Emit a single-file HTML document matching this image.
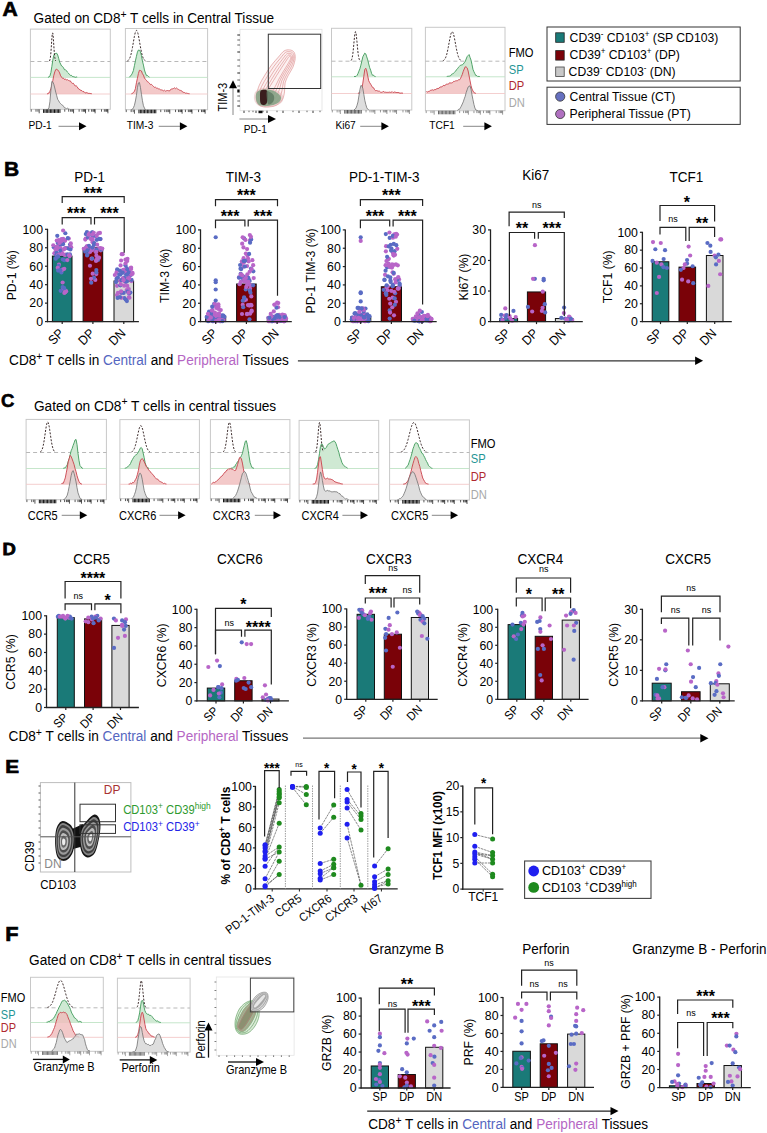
<!DOCTYPE html><html><head><meta charset="utf-8"><style>html,body{margin:0;padding:0;background:#fff;}svg{display:block;}</style></head><body><svg width="767" height="1133" viewBox="0 0 767 1133" font-family='"Liberation Sans", sans-serif'><text x="2.6" y="15.6" font-size="19.5" font-weight="bold" stroke="#000" stroke-width="0.7" transform="translate(2.6 15.6) scale(1.08 1) translate(-2.6 -15.6)">A</text>
<text x="33.60" y="23.20" font-size="13.6" transform="translate(33.60 23.20) scale(1 1.08) translate(-33.60 -23.20)">Gated on CD8<tspan dy="-5" font-size="10.5">+</tspan><tspan dy="5"> T cells in Central Tissue</tspan></text>
<rect x="30.40" y="29.10" width="79.90" height="80.20" fill="#fff" stroke="#c8c8c8" stroke-width="1"/>
<line x1="30.40" y1="61.50" x2="110.30" y2="61.50" stroke="#b8b8b8" stroke-width="1" stroke-dasharray="4 3"/>
<line x1="30.40" y1="77.40" x2="110.30" y2="77.40" stroke="#bfe3c5" stroke-width="0.9"/>
<line x1="30.40" y1="94.00" x2="110.30" y2="94.00" stroke="#f3c9c9" stroke-width="0.9"/>
<path d="M47.95 77.33 L48.93 77.00 L49.90 75.89 L50.88 72.66 L51.85 66.52 L52.82 60.08 L53.80 55.19 L54.77 53.61 L55.74 53.43 L56.72 53.25 L57.69 54.99 L58.67 58.28 L59.64 62.07 L60.61 64.06 L61.59 66.01 L62.56 66.50 L63.53 67.84 L64.51 69.74 L65.48 69.71 L66.45 70.78 L67.43 72.14 L68.40 73.09 L69.38 74.45 L70.35 75.33 L71.32 75.31 L72.30 76.37 L73.27 76.61 L74.25 76.86 L75.22 77.35 L76.19 76.97 L77.17 77.10 L77.17 77.40 L47.95 77.40 Z" fill="#cfe9d3" fill-opacity="1"/>
<path d="M47.95 77.33 L48.93 77.00 L49.90 75.89 L50.88 72.66 L51.85 66.52 L52.82 60.08 L53.80 55.19 L54.77 53.61 L55.74 53.43 L56.72 53.25 L57.69 54.99 L58.67 58.28 L59.64 62.07 L60.61 64.06 L61.59 66.01 L62.56 66.50 L63.53 67.84 L64.51 69.74 L65.48 69.71 L66.45 70.78 L67.43 72.14 L68.40 73.09 L69.38 74.45 L70.35 75.33 L71.32 75.31 L72.30 76.37 L73.27 76.61 L74.25 76.86 L75.22 77.35 L76.19 76.97 L77.17 77.10" fill="none" stroke="#3f9a5a" stroke-width="0.9" stroke-linejoin="round"/>
<path d="M46.98 93.89 L47.95 93.63 L48.93 93.01 L49.90 91.37 L50.88 88.74 L51.85 85.40 L52.82 80.62 L53.80 75.33 L54.77 71.92 L55.74 69.58 L56.72 69.27 L57.69 69.90 L58.67 71.20 L59.64 72.97 L60.61 75.83 L61.59 77.07 L62.56 78.40 L63.53 78.11 L64.51 79.53 L65.48 78.92 L66.45 80.10 L67.43 79.67 L68.40 80.45 L69.38 80.82 L70.35 80.86 L71.32 82.55 L72.30 83.35 L73.27 83.22 L74.25 84.62 L75.22 86.02 L76.19 85.82 L77.17 86.73 L78.14 88.55 L79.11 88.95 L80.09 90.01 L81.06 90.46 L82.03 90.69 L83.01 91.77 L83.98 91.60 L84.96 92.79 L85.93 92.99 L86.90 92.51 L87.88 93.25 L88.85 93.43 L89.82 93.38 L90.80 93.62 L91.77 93.72 L91.77 94.00 L46.98 94.00 Z" fill="#f0bcbc" fill-opacity="0.8"/>
<path d="M46.98 93.89 L47.95 93.63 L48.93 93.01 L49.90 91.37 L50.88 88.74 L51.85 85.40 L52.82 80.62 L53.80 75.33 L54.77 71.92 L55.74 69.58 L56.72 69.27 L57.69 69.90 L58.67 71.20 L59.64 72.97 L60.61 75.83 L61.59 77.07 L62.56 78.40 L63.53 78.11 L64.51 79.53 L65.48 78.92 L66.45 80.10 L67.43 79.67 L68.40 80.45 L69.38 80.82 L70.35 80.86 L71.32 82.55 L72.30 83.35 L73.27 83.22 L74.25 84.62 L75.22 86.02 L76.19 85.82 L77.17 86.73 L78.14 88.55 L79.11 88.95 L80.09 90.01 L81.06 90.46 L82.03 90.69 L83.01 91.77 L83.98 91.60 L84.96 92.79 L85.93 92.99 L86.90 92.51 L87.88 93.25 L88.85 93.43 L89.82 93.38 L90.80 93.62 L91.77 93.72" fill="none" stroke="#c8424c" stroke-width="0.9" stroke-linejoin="round"/>
<path d="M47.95 109.09 L48.93 107.94 L49.90 101.77 L50.88 90.47 L51.85 81.45 L52.82 81.99 L53.80 84.26 L54.77 88.00 L55.74 92.18 L56.72 95.77 L57.69 99.38 L58.67 100.81 L59.64 102.59 L60.61 103.69 L61.59 104.62 L62.56 105.14 L63.53 106.32 L64.51 107.80 L65.48 108.10 L66.45 108.73 L67.43 108.20 L68.40 108.89 L69.38 109.05 L69.38 109.30 L47.95 109.30 Z" fill="#d6d6d6" fill-opacity="0.8"/>
<path d="M47.95 109.09 L48.93 107.94 L49.90 101.77 L50.88 90.47 L51.85 81.45 L52.82 81.99 L53.80 84.26 L54.77 88.00 L55.74 92.18 L56.72 95.77 L57.69 99.38 L58.67 100.81 L59.64 102.59 L60.61 103.69 L61.59 104.62 L62.56 105.14 L63.53 106.32 L64.51 107.80 L65.48 108.10 L66.45 108.73 L67.43 108.20 L68.40 108.89 L69.38 109.05" fill="none" stroke="#707070" stroke-width="0.8" stroke-linejoin="round"/>
<path d="M49.41 61.06 L49.90 60.06 L50.39 57.64 L50.88 52.99 L51.36 46.05 L51.85 38.45 L52.34 33.22 L52.82 32.98 L53.31 37.86 L53.80 45.39 L54.28 52.47 L54.77 57.34 L55.26 59.93 L55.74 61.01" fill="none" stroke="#3a2a2a" stroke-width="1" stroke-dasharray="2 1.5"/>
<line x1="31.20" y1="109.30" x2="31.20" y2="111.70" stroke="#222" stroke-width="0.75"/>
<line x1="36.01" y1="109.30" x2="36.01" y2="111.70" stroke="#222" stroke-width="0.75"/>
<line x1="37.95" y1="109.30" x2="37.95" y2="111.70" stroke="#222" stroke-width="0.75"/>
<line x1="39.19" y1="109.30" x2="39.19" y2="113.30" stroke="#222" stroke-width="0.75"/>
<line x1="43.58" y1="109.30" x2="43.58" y2="112.90" stroke="#111" stroke-width="1.0"/>
<line x1="44.95" y1="109.30" x2="44.95" y2="112.90" stroke="#111" stroke-width="1.0"/>
<line x1="46.31" y1="109.30" x2="46.31" y2="112.90" stroke="#111" stroke-width="1.0"/>
<line x1="47.68" y1="109.30" x2="47.68" y2="112.90" stroke="#111" stroke-width="1.0"/>
<line x1="49.04" y1="109.30" x2="49.04" y2="112.90" stroke="#111" stroke-width="1.0"/>
<line x1="50.41" y1="109.30" x2="50.41" y2="112.90" stroke="#111" stroke-width="1.0"/>
<line x1="51.77" y1="109.30" x2="51.77" y2="112.90" stroke="#111" stroke-width="1.0"/>
<line x1="53.14" y1="109.30" x2="53.14" y2="112.90" stroke="#111" stroke-width="1.0"/>
<line x1="54.50" y1="109.30" x2="54.50" y2="112.90" stroke="#111" stroke-width="1.0"/>
<line x1="55.87" y1="109.30" x2="55.87" y2="112.90" stroke="#111" stroke-width="1.0"/>
<line x1="57.23" y1="109.30" x2="57.23" y2="112.90" stroke="#111" stroke-width="1.0"/>
<line x1="58.60" y1="109.30" x2="58.60" y2="112.90" stroke="#111" stroke-width="1.0"/>
<line x1="59.96" y1="109.30" x2="59.96" y2="112.90" stroke="#111" stroke-width="1.0"/>
<line x1="64.76" y1="109.30" x2="64.76" y2="111.70" stroke="#222" stroke-width="0.75"/>
<line x1="68.69" y1="109.30" x2="68.69" y2="111.70" stroke="#222" stroke-width="0.75"/>
<line x1="70.58" y1="109.30" x2="70.58" y2="111.70" stroke="#222" stroke-width="0.75"/>
<line x1="71.84" y1="109.30" x2="71.84" y2="111.70" stroke="#222" stroke-width="0.75"/>
<line x1="72.79" y1="109.30" x2="72.79" y2="111.70" stroke="#222" stroke-width="0.75"/>
<line x1="73.55" y1="109.30" x2="73.55" y2="113.30" stroke="#222" stroke-width="0.75"/>
<line x1="79.14" y1="109.30" x2="79.14" y2="111.70" stroke="#222" stroke-width="0.75"/>
<line x1="82.00" y1="109.30" x2="82.00" y2="111.70" stroke="#222" stroke-width="0.75"/>
<line x1="83.38" y1="109.30" x2="83.38" y2="111.70" stroke="#222" stroke-width="0.75"/>
<line x1="84.29" y1="109.30" x2="84.29" y2="111.70" stroke="#222" stroke-width="0.75"/>
<line x1="84.98" y1="109.30" x2="84.98" y2="111.70" stroke="#222" stroke-width="0.75"/>
<line x1="85.53" y1="109.30" x2="85.53" y2="113.30" stroke="#222" stroke-width="0.75"/>
<line x1="88.73" y1="109.30" x2="88.73" y2="111.70" stroke="#222" stroke-width="0.75"/>
<line x1="91.59" y1="109.30" x2="91.59" y2="111.70" stroke="#222" stroke-width="0.75"/>
<line x1="92.96" y1="109.30" x2="92.96" y2="111.70" stroke="#222" stroke-width="0.75"/>
<line x1="93.88" y1="109.30" x2="93.88" y2="111.70" stroke="#222" stroke-width="0.75"/>
<line x1="94.57" y1="109.30" x2="94.57" y2="111.70" stroke="#222" stroke-width="0.75"/>
<line x1="95.12" y1="109.30" x2="95.12" y2="113.30" stroke="#222" stroke-width="0.75"/>
<line x1="101.51" y1="109.30" x2="101.51" y2="111.70" stroke="#222" stroke-width="0.75"/>
<line x1="104.37" y1="109.30" x2="104.37" y2="111.70" stroke="#222" stroke-width="0.75"/>
<line x1="105.75" y1="109.30" x2="105.75" y2="111.70" stroke="#222" stroke-width="0.75"/>
<line x1="106.66" y1="109.30" x2="106.66" y2="111.70" stroke="#222" stroke-width="0.75"/>
<line x1="107.35" y1="109.30" x2="107.35" y2="111.70" stroke="#222" stroke-width="0.75"/>
<line x1="107.90" y1="109.30" x2="107.90" y2="113.30" stroke="#222" stroke-width="0.75"/>
<text x="28.50" y="129.50" font-size="10.2" transform="translate(28.50 129.50) scale(1 1.08) translate(-28.50 -129.50)">PD-1</text>
<line x1="58.50" y1="126.30" x2="80.00" y2="126.30" stroke="#888" stroke-width="1"/>
<path d="M79.00 122.30 L86.50 126.30 L79.00 130.30 Z" fill="#000"/>
<rect x="125.40" y="28.50" width="82.20" height="81.20" fill="#fff" stroke="#c8c8c8" stroke-width="1"/>
<line x1="125.40" y1="61.50" x2="207.60" y2="61.50" stroke="#b8b8b8" stroke-width="1" stroke-dasharray="4 3"/>
<line x1="125.40" y1="77.40" x2="207.60" y2="77.40" stroke="#bfe3c5" stroke-width="0.9"/>
<line x1="125.40" y1="94.00" x2="207.60" y2="94.00" stroke="#f3c9c9" stroke-width="0.9"/>
<path d="M129.41 77.28 L130.41 76.02 L131.41 74.91 L132.41 73.12 L133.42 70.44 L134.42 65.71 L135.42 60.88 L136.43 56.29 L137.43 52.14 L138.43 50.01 L139.43 50.12 L140.44 51.85 L141.44 55.56 L142.44 61.07 L143.44 65.08 L144.44 69.93 L145.45 73.07 L146.45 75.40 L147.45 75.52 L148.46 76.53 L149.46 77.15 L149.46 77.40 L129.41 77.40 Z" fill="#cfe9d3" fill-opacity="1"/>
<path d="M129.41 77.28 L130.41 76.02 L131.41 74.91 L132.41 73.12 L133.42 70.44 L134.42 65.71 L135.42 60.88 L136.43 56.29 L137.43 52.14 L138.43 50.01 L139.43 50.12 L140.44 51.85 L141.44 55.56 L142.44 61.07 L143.44 65.08 L144.44 69.93 L145.45 73.07 L146.45 75.40 L147.45 75.52 L148.46 76.53 L149.46 77.15" fill="none" stroke="#3f9a5a" stroke-width="0.9" stroke-linejoin="round"/>
<path d="M131.41 93.82 L132.41 93.52 L133.42 92.20 L134.42 91.49 L135.42 88.55 L136.43 82.76 L137.43 78.26 L138.43 73.48 L139.43 70.29 L140.44 70.49 L141.44 70.99 L142.44 73.76 L143.44 75.14 L144.44 77.99 L145.45 79.37 L146.45 80.32 L147.45 81.75 L148.46 82.31 L149.46 83.26 L150.46 84.70 L151.46 84.37 L152.47 85.43 L153.47 86.49 L154.47 87.34 L155.47 87.21 L156.47 88.12 L157.48 88.21 L158.48 88.85 L159.48 88.99 L160.49 89.77 L161.49 89.88 L162.49 90.21 L163.49 90.84 L164.50 90.19 L165.50 91.13 L166.50 90.69 L167.50 90.51 L168.50 90.74 L169.51 91.00 L170.51 89.59 L171.51 89.03 L172.51 88.85 L173.52 88.50 L174.52 87.84 L175.52 88.68 L176.53 87.97 L177.53 88.92 L178.53 89.44 L179.53 90.14 L180.53 90.42 L181.54 90.69 L182.54 91.96 L183.54 92.36 L184.55 92.52 L185.55 93.21 L186.55 93.13 L187.55 93.41 L188.56 93.63 L189.56 93.75 L189.56 94.00 L131.41 94.00 Z" fill="#f0bcbc" fill-opacity="0.8"/>
<path d="M131.41 93.82 L132.41 93.52 L133.42 92.20 L134.42 91.49 L135.42 88.55 L136.43 82.76 L137.43 78.26 L138.43 73.48 L139.43 70.29 L140.44 70.49 L141.44 70.99 L142.44 73.76 L143.44 75.14 L144.44 77.99 L145.45 79.37 L146.45 80.32 L147.45 81.75 L148.46 82.31 L149.46 83.26 L150.46 84.70 L151.46 84.37 L152.47 85.43 L153.47 86.49 L154.47 87.34 L155.47 87.21 L156.47 88.12 L157.48 88.21 L158.48 88.85 L159.48 88.99 L160.49 89.77 L161.49 89.88 L162.49 90.21 L163.49 90.84 L164.50 90.19 L165.50 91.13 L166.50 90.69 L167.50 90.51 L168.50 90.74 L169.51 91.00 L170.51 89.59 L171.51 89.03 L172.51 88.85 L173.52 88.50 L174.52 87.84 L175.52 88.68 L176.53 87.97 L177.53 88.92 L178.53 89.44 L179.53 90.14 L180.53 90.42 L181.54 90.69 L182.54 91.96 L183.54 92.36 L184.55 92.52 L185.55 93.21 L186.55 93.13 L187.55 93.41 L188.56 93.63 L189.56 93.75" fill="none" stroke="#c8424c" stroke-width="0.9" stroke-linejoin="round"/>
<path d="M131.41 109.58 L132.41 109.24 L133.42 107.73 L134.42 105.35 L135.42 100.97 L136.43 95.40 L137.43 87.66 L138.43 82.93 L139.43 82.45 L140.44 87.34 L141.44 94.27 L142.44 100.71 L143.44 105.75 L144.44 108.07 L145.45 109.70 L145.45 109.70 L131.41 109.70 Z" fill="#d6d6d6" fill-opacity="0.8"/>
<path d="M131.41 109.58 L132.41 109.24 L133.42 107.73 L134.42 105.35 L135.42 100.97 L136.43 95.40 L137.43 87.66 L138.43 82.93 L139.43 82.45 L140.44 87.34 L141.44 94.27 L142.44 100.71 L143.44 105.75 L144.44 108.07 L145.45 109.70" fill="none" stroke="#707070" stroke-width="0.8" stroke-linejoin="round"/>
<path d="M127.40 60.95 L127.90 60.66 L128.41 60.23 L128.91 59.64 L129.41 58.83 L129.91 57.77 L130.41 56.42 L130.91 54.73 L131.41 52.71 L131.91 50.36 L132.41 47.73 L132.92 44.89 L133.42 41.94 L133.92 39.04 L134.42 36.32 L134.92 33.96 L135.42 32.11 L135.92 30.90 L136.43 30.41 L136.93 30.67 L137.43 31.68 L137.93 33.35 L138.43 35.57 L138.93 38.20 L139.43 41.06 L139.93 44.01 L140.44 46.90 L140.94 49.60 L141.44 52.04 L141.94 54.16 L142.44 55.95 L142.94 57.40 L143.44 58.54 L143.94 59.42 L144.44 60.07 L144.95 60.55 L145.45 60.88" fill="none" stroke="#3a2a2a" stroke-width="1" stroke-dasharray="2 1.5"/>
<line x1="126.22" y1="109.70" x2="126.22" y2="112.10" stroke="#222" stroke-width="0.75"/>
<line x1="131.17" y1="109.70" x2="131.17" y2="112.10" stroke="#222" stroke-width="0.75"/>
<line x1="133.17" y1="109.70" x2="133.17" y2="112.10" stroke="#222" stroke-width="0.75"/>
<line x1="134.44" y1="109.70" x2="134.44" y2="113.70" stroke="#222" stroke-width="0.75"/>
<line x1="138.96" y1="109.70" x2="138.96" y2="113.30" stroke="#111" stroke-width="1.0"/>
<line x1="140.37" y1="109.70" x2="140.37" y2="113.30" stroke="#111" stroke-width="1.0"/>
<line x1="141.77" y1="109.70" x2="141.77" y2="113.30" stroke="#111" stroke-width="1.0"/>
<line x1="143.18" y1="109.70" x2="143.18" y2="113.30" stroke="#111" stroke-width="1.0"/>
<line x1="144.58" y1="109.70" x2="144.58" y2="113.30" stroke="#111" stroke-width="1.0"/>
<line x1="145.98" y1="109.70" x2="145.98" y2="113.30" stroke="#111" stroke-width="1.0"/>
<line x1="147.39" y1="109.70" x2="147.39" y2="113.30" stroke="#111" stroke-width="1.0"/>
<line x1="148.79" y1="109.70" x2="148.79" y2="113.30" stroke="#111" stroke-width="1.0"/>
<line x1="150.20" y1="109.70" x2="150.20" y2="113.30" stroke="#111" stroke-width="1.0"/>
<line x1="151.60" y1="109.70" x2="151.60" y2="113.30" stroke="#111" stroke-width="1.0"/>
<line x1="153.01" y1="109.70" x2="153.01" y2="113.30" stroke="#111" stroke-width="1.0"/>
<line x1="154.41" y1="109.70" x2="154.41" y2="113.30" stroke="#111" stroke-width="1.0"/>
<line x1="155.81" y1="109.70" x2="155.81" y2="113.30" stroke="#111" stroke-width="1.0"/>
<line x1="160.75" y1="109.70" x2="160.75" y2="112.10" stroke="#222" stroke-width="0.75"/>
<line x1="164.79" y1="109.70" x2="164.79" y2="112.10" stroke="#222" stroke-width="0.75"/>
<line x1="166.74" y1="109.70" x2="166.74" y2="112.10" stroke="#222" stroke-width="0.75"/>
<line x1="168.04" y1="109.70" x2="168.04" y2="112.10" stroke="#222" stroke-width="0.75"/>
<line x1="169.01" y1="109.70" x2="169.01" y2="112.10" stroke="#222" stroke-width="0.75"/>
<line x1="169.79" y1="109.70" x2="169.79" y2="113.70" stroke="#222" stroke-width="0.75"/>
<line x1="175.54" y1="109.70" x2="175.54" y2="112.10" stroke="#222" stroke-width="0.75"/>
<line x1="178.48" y1="109.70" x2="178.48" y2="112.10" stroke="#222" stroke-width="0.75"/>
<line x1="179.90" y1="109.70" x2="179.90" y2="112.10" stroke="#222" stroke-width="0.75"/>
<line x1="180.84" y1="109.70" x2="180.84" y2="112.10" stroke="#222" stroke-width="0.75"/>
<line x1="181.55" y1="109.70" x2="181.55" y2="112.10" stroke="#222" stroke-width="0.75"/>
<line x1="182.12" y1="109.70" x2="182.12" y2="113.70" stroke="#222" stroke-width="0.75"/>
<line x1="185.41" y1="109.70" x2="185.41" y2="112.10" stroke="#222" stroke-width="0.75"/>
<line x1="188.35" y1="109.70" x2="188.35" y2="112.10" stroke="#222" stroke-width="0.75"/>
<line x1="189.76" y1="109.70" x2="189.76" y2="112.10" stroke="#222" stroke-width="0.75"/>
<line x1="190.71" y1="109.70" x2="190.71" y2="112.10" stroke="#222" stroke-width="0.75"/>
<line x1="191.42" y1="109.70" x2="191.42" y2="112.10" stroke="#222" stroke-width="0.75"/>
<line x1="191.98" y1="109.70" x2="191.98" y2="113.70" stroke="#222" stroke-width="0.75"/>
<line x1="198.56" y1="109.70" x2="198.56" y2="112.10" stroke="#222" stroke-width="0.75"/>
<line x1="201.50" y1="109.70" x2="201.50" y2="112.10" stroke="#222" stroke-width="0.75"/>
<line x1="202.92" y1="109.70" x2="202.92" y2="112.10" stroke="#222" stroke-width="0.75"/>
<line x1="203.86" y1="109.70" x2="203.86" y2="112.10" stroke="#222" stroke-width="0.75"/>
<line x1="204.57" y1="109.70" x2="204.57" y2="112.10" stroke="#222" stroke-width="0.75"/>
<line x1="205.13" y1="109.70" x2="205.13" y2="113.70" stroke="#222" stroke-width="0.75"/>
<text x="126.70" y="128.90" font-size="10.2" transform="translate(126.70 128.90) scale(1 1.08) translate(-126.70 -128.90)">TIM-3</text>
<line x1="158.70" y1="126.30" x2="180.90" y2="126.30" stroke="#888" stroke-width="1"/>
<path d="M179.90 122.30 L187.40 126.30 L179.90 130.30 Z" fill="#000"/>
<rect x="240.00" y="29.30" width="82.00" height="81.40" fill="#fff" stroke="#e0e0e0" stroke-width="0.8"/>
<path d="M256.50 95.30 C256.12 98.10 256.35 100.23 257.00 102.00 C257.65 103.77 258.72 105.07 260.40 105.90 C262.08 106.73 264.48 107.08 267.10 107.00 C269.72 106.92 273.57 106.62 276.10 105.40 C278.63 104.18 280.90 101.95 282.30 99.70 C283.70 97.45 284.03 94.70 284.50 91.90 C284.97 89.10 284.45 85.70 285.10 82.90 C285.75 80.10 287.10 77.72 288.40 75.10 C289.70 72.48 291.77 70.00 292.90 67.20 C294.03 64.40 295.02 60.82 295.20 58.30 C295.38 55.78 294.93 53.50 294.00 52.10 C293.07 50.70 291.27 50.08 289.60 49.90 C287.93 49.72 285.87 49.80 284.00 51.00 C282.13 52.20 280.47 54.77 278.40 57.10 C276.33 59.43 273.85 62.00 271.60 65.00 C269.35 68.00 266.95 71.73 264.90 75.10 C262.85 78.47 260.70 81.83 259.30 85.20 C257.90 88.57 256.88 92.50 256.50 95.30Z" fill="#fcf1f1"/>
<path d="M256.50 95.30 C256.12 98.10 256.35 100.23 257.00 102.00 C257.65 103.77 258.72 105.07 260.40 105.90 C262.08 106.73 264.48 107.08 267.10 107.00 C269.72 106.92 273.57 106.62 276.10 105.40 C278.63 104.18 280.90 101.95 282.30 99.70 C283.70 97.45 284.03 94.70 284.50 91.90 C284.97 89.10 284.45 85.70 285.10 82.90 C285.75 80.10 287.10 77.72 288.40 75.10 C289.70 72.48 291.77 70.00 292.90 67.20 C294.03 64.40 295.02 60.82 295.20 58.30 C295.38 55.78 294.93 53.50 294.00 52.10 C293.07 50.70 291.27 50.08 289.60 49.90 C287.93 49.72 285.87 49.80 284.00 51.00 C282.13 52.20 280.47 54.77 278.40 57.10 C276.33 59.43 273.85 62.00 271.60 65.00 C269.35 68.00 266.95 71.73 264.90 75.10 C262.85 78.47 260.70 81.83 259.30 85.20 C257.90 88.57 256.88 92.50 256.50 95.30Z" fill="none" stroke="#d98484" stroke-width="0.65" stroke-opacity="0.9"/>
<path d="M258.59 95.67 C258.17 98.06 258.47 99.52 258.98 100.90 C259.49 102.28 260.32 103.29 261.63 103.94 C262.94 104.59 264.82 104.86 266.86 104.80 C268.90 104.73 271.78 104.70 273.88 103.55 C275.97 102.41 278.07 100.13 279.43 97.94 C280.80 95.74 281.38 93.07 282.05 90.39 C282.72 87.71 282.62 84.57 283.44 81.88 C284.26 79.18 285.63 76.81 286.98 74.22 C288.33 71.64 290.35 69.02 291.53 66.36 C292.71 63.69 293.79 60.39 294.06 58.23 C294.32 56.07 293.85 54.49 293.12 53.40 C292.39 52.31 290.99 51.83 289.69 51.68 C288.39 51.54 286.88 51.44 285.32 52.54 C283.76 53.64 282.25 55.99 280.34 58.29 C278.43 60.60 276.03 63.34 273.85 66.38 C271.66 69.42 269.28 73.17 267.23 76.53 C265.17 79.90 262.97 83.38 261.53 86.57 C260.09 89.76 259.01 93.29 258.59 95.67Z" fill="none" stroke="#d98484" stroke-width="0.65" stroke-opacity="0.9"/>
<path d="M260.68 96.05 C260.21 98.02 260.60 98.81 260.96 99.80 C261.32 100.79 261.92 101.52 262.86 101.98 C263.81 102.45 265.15 102.65 266.62 102.60 C268.08 102.55 270.00 102.78 271.66 101.70 C273.31 100.63 275.24 98.31 276.57 96.17 C277.89 94.04 278.73 91.44 279.60 88.88 C280.47 86.33 280.78 83.44 281.77 80.85 C282.77 78.26 284.15 75.90 285.55 73.35 C286.95 70.79 288.94 68.05 290.17 65.52 C291.39 62.99 292.57 59.97 292.91 58.17 C293.26 56.36 292.76 55.48 292.24 54.70 C291.72 53.91 290.71 53.57 289.78 53.46 C288.84 53.36 287.89 53.08 286.64 54.08 C285.39 55.08 284.04 57.21 282.28 59.49 C280.52 61.77 278.22 64.69 276.10 67.77 C273.98 70.85 271.61 74.60 269.55 77.96 C267.50 81.33 265.23 84.93 263.76 87.94 C262.28 90.96 261.15 94.07 260.68 96.05Z" fill="none" stroke="#d98484" stroke-width="0.65" stroke-opacity="0.9"/>
<path d="M262.58 96.39 C262.08 97.99 262.53 98.16 262.76 98.80 C262.99 99.44 263.38 99.90 263.98 100.20 C264.59 100.50 265.45 100.63 266.40 100.60 C267.34 100.57 268.37 101.03 269.64 100.02 C270.90 99.02 272.67 96.65 273.96 94.57 C275.25 92.48 276.32 89.95 277.37 87.51 C278.42 85.07 279.11 82.42 280.26 79.92 C281.41 77.43 282.81 75.08 284.26 72.55 C285.70 70.02 287.66 67.16 288.93 64.75 C290.19 62.35 291.45 59.59 291.87 58.11 C292.29 56.63 291.78 56.38 291.44 55.88 C291.10 55.37 290.46 55.15 289.86 55.08 C289.26 55.02 288.81 54.57 287.84 55.48 C286.87 56.39 285.66 58.31 284.04 60.57 C282.43 62.83 280.20 65.91 278.14 69.03 C276.08 72.14 273.73 75.90 271.67 79.26 C269.61 82.62 267.30 86.33 265.78 89.19 C264.27 92.04 263.08 94.79 262.58 96.39Z" fill="none" stroke="#d98484" stroke-width="0.65" stroke-opacity="0.9"/>
<path d="M264.29 96.69 C263.75 97.96 264.26 97.58 264.38 97.90 C264.50 98.22 264.69 98.45 264.99 98.60 C265.30 98.75 265.73 98.81 266.20 98.80 C266.67 98.78 266.91 99.46 267.82 98.51 C268.72 97.57 270.36 95.16 271.62 93.13 C272.87 91.09 274.15 88.62 275.36 86.28 C276.58 83.94 277.61 81.49 278.90 79.09 C280.19 76.68 281.61 74.34 283.09 71.83 C284.58 69.33 286.50 66.36 287.81 64.07 C289.12 61.77 290.45 59.24 290.94 58.05 C291.42 56.87 290.89 57.19 290.72 56.94 C290.55 56.69 290.23 56.58 289.93 56.54 C289.63 56.51 289.64 55.91 288.92 56.74 C288.20 57.57 287.12 59.31 285.63 61.55 C284.14 63.78 281.99 67.01 279.98 70.16 C277.97 73.31 275.63 77.08 273.57 80.44 C271.51 83.79 269.15 87.60 267.60 90.31 C266.06 93.02 264.83 95.43 264.29 96.69Z" fill="none" stroke="#d98484" stroke-width="0.65" stroke-opacity="0.9"/>
<path d="M256.00 91.00 C257.67 89.17 260.67 88.17 264.00 88.00 C267.33 87.83 272.83 88.67 276.00 90.00 C279.17 91.33 282.17 93.83 283.00 96.00 C283.83 98.17 283.17 101.17 281.00 103.00 C278.83 104.83 273.67 106.50 270.00 107.00 C266.33 107.50 261.67 107.33 259.00 106.00 C256.33 104.67 254.50 101.50 254.00 99.00 C253.50 96.50 254.33 92.83 256.00 91.00Z" fill="#dca8a8" fill-opacity="0.45"/>
<path d="M257.00 92.00 C258.33 90.42 261.17 89.67 264.00 89.50 C266.83 89.33 271.17 89.75 274.00 91.00 C276.83 92.25 280.33 95.00 281.00 97.00 C281.67 99.00 280.17 101.50 278.00 103.00 C275.83 104.50 271.17 105.67 268.00 106.00 C264.83 106.33 261.00 106.17 259.00 105.00 C257.00 103.83 256.33 101.17 256.00 99.00 C255.67 96.83 255.67 93.58 257.00 92.00Z" fill="#86a386" fill-opacity="0.9"/>
<path d="M260.50 91.00 C261.17 89.80 262.92 89.80 264.00 89.80 C265.08 89.80 266.42 89.63 267.00 91.00 C267.58 92.37 267.58 95.92 267.50 98.00 C267.42 100.08 267.25 102.33 266.50 103.50 C265.75 104.67 264.00 105.08 263.00 105.00 C262.00 104.92 261.00 104.33 260.50 103.00 C260.00 101.67 260.00 99.00 260.00 97.00 C260.00 95.00 259.83 92.20 260.50 91.00Z" fill="#3a1e1e"/>
<path d="M266.50 92.00 C266.83 90.00 268.75 91.33 270.00 92.00 C271.25 92.67 273.50 94.33 274.00 96.00 C274.50 97.67 274.00 100.67 273.00 102.00 C272.00 103.33 269.08 105.67 268.00 104.00 C266.92 102.33 266.17 94.00 266.50 92.00Z" fill="#55705a" fill-opacity="0.7"/>
<rect x="268.30" y="34.20" width="52.40" height="54.30" fill="none" stroke="#333" stroke-width="1"/>
<line x1="237.30" y1="35.00" x2="240.00" y2="35.00" stroke="#222" stroke-width="1.0"/>
<line x1="237.30" y1="40.00" x2="240.00" y2="40.00" stroke="#222" stroke-width="0.7"/>
<line x1="237.30" y1="45.00" x2="240.00" y2="45.00" stroke="#222" stroke-width="0.7"/>
<line x1="237.30" y1="52.00" x2="240.00" y2="52.00" stroke="#222" stroke-width="1.0"/>
<line x1="237.30" y1="60.00" x2="240.00" y2="60.00" stroke="#222" stroke-width="0.7"/>
<line x1="237.30" y1="66.00" x2="240.00" y2="66.00" stroke="#222" stroke-width="0.7"/>
<line x1="237.30" y1="73.00" x2="240.00" y2="73.00" stroke="#222" stroke-width="1.0"/>
<line x1="237.30" y1="80.00" x2="240.00" y2="80.00" stroke="#222" stroke-width="0.7"/>
<line x1="237.30" y1="86.00" x2="240.00" y2="86.00" stroke="#222" stroke-width="0.7"/>
<rect x="237.30" y="89.50" width="2.30" height="3.00" fill="#111"/>
<line x1="237.30" y1="96.00" x2="240.00" y2="96.00" stroke="#222" stroke-width="0.7"/>
<line x1="237.30" y1="101.00" x2="240.00" y2="101.00" stroke="#222" stroke-width="0.7"/>
<line x1="237.30" y1="106.00" x2="240.00" y2="106.00" stroke="#222" stroke-width="1.0"/>
<line x1="244.00" y1="110.70" x2="244.00" y2="113.00" stroke="#222" stroke-width="0.9"/>
<line x1="249.00" y1="110.70" x2="249.00" y2="112.20" stroke="#222" stroke-width="0.7"/>
<line x1="253.00" y1="110.70" x2="253.00" y2="112.20" stroke="#222" stroke-width="0.7"/>
<line x1="256.00" y1="110.70" x2="256.00" y2="113.00" stroke="#222" stroke-width="0.9"/>
<rect x="258.50" y="110.70" width="4.00" height="2.50" fill="#111"/>
<line x1="263.00" y1="110.70" x2="263.00" y2="112.20" stroke="#222" stroke-width="0.7"/>
<line x1="267.00" y1="110.70" x2="267.00" y2="113.00" stroke="#222" stroke-width="0.9"/>
<line x1="277.00" y1="110.70" x2="277.00" y2="112.20" stroke="#222" stroke-width="0.7"/>
<line x1="283.00" y1="110.70" x2="283.00" y2="113.00" stroke="#222" stroke-width="0.9"/>
<line x1="293.00" y1="110.70" x2="293.00" y2="112.20" stroke="#222" stroke-width="0.7"/>
<line x1="299.00" y1="110.70" x2="299.00" y2="113.00" stroke="#222" stroke-width="0.9"/>
<line x1="307.00" y1="110.70" x2="307.00" y2="112.20" stroke="#222" stroke-width="0.7"/>
<line x1="313.00" y1="110.70" x2="313.00" y2="113.00" stroke="#222" stroke-width="0.9"/>
<line x1="320.00" y1="110.70" x2="320.00" y2="112.20" stroke="#222" stroke-width="0.7"/>
<text x="226.60" y="111.50" font-size="11" transform="rotate(-90 226.60 111.50) translate(226.60 111.50) scale(1 1.08) translate(-226.60 -111.50)">TIM-3</text>
<line x1="233.00" y1="115.00" x2="233.00" y2="87.30" stroke="#888" stroke-width="1"/>
<path d="M229.00 88.30 L233.00 80.30 L237.00 88.30 Z" fill="#000"/>
<line x1="239.40" y1="119.00" x2="269.00" y2="119.00" stroke="#888" stroke-width="1"/>
<path d="M268.00 115.00 L276.00 119.00 L268.00 123.00 Z" fill="#000"/>
<text x="243.70" y="133.30" font-size="10.2" transform="translate(243.70 133.30) scale(1 1.08) translate(-243.70 -133.30)">PD-1</text>
<rect x="331.50" y="28.30" width="80.30" height="81.70" fill="#fff" stroke="#c8c8c8" stroke-width="1"/>
<line x1="331.50" y1="61.20" x2="411.80" y2="61.20" stroke="#b8b8b8" stroke-width="1" stroke-dasharray="4 3"/>
<line x1="331.50" y1="76.80" x2="411.80" y2="76.80" stroke="#bfe3c5" stroke-width="0.9"/>
<line x1="331.50" y1="93.50" x2="411.80" y2="93.50" stroke="#f3c9c9" stroke-width="0.9"/>
<path d="M354.03 76.61 L355.01 76.37 L355.99 76.47 L356.97 75.47 L357.95 73.67 L358.93 71.13 L359.91 68.78 L360.88 65.15 L361.86 61.06 L362.84 56.80 L363.82 54.91 L364.80 53.12 L365.78 53.92 L366.76 56.90 L367.74 59.90 L368.71 63.94 L369.69 67.74 L370.67 70.19 L371.65 73.64 L372.63 75.33 L373.61 75.21 L374.59 76.41 L375.56 76.57 L375.56 76.80 L354.03 76.80 Z" fill="#cfe9d3" fill-opacity="1"/>
<path d="M354.03 76.61 L355.01 76.37 L355.99 76.47 L356.97 75.47 L357.95 73.67 L358.93 71.13 L359.91 68.78 L360.88 65.15 L361.86 61.06 L362.84 56.80 L363.82 54.91 L364.80 53.12 L365.78 53.92 L366.76 56.90 L367.74 59.90 L368.71 63.94 L369.69 67.74 L370.67 70.19 L371.65 73.64 L372.63 75.33 L373.61 75.21 L374.59 76.41 L375.56 76.57" fill="none" stroke="#3f9a5a" stroke-width="0.9" stroke-linejoin="round"/>
<path d="M357.95 93.26 L358.93 93.05 L359.91 93.09 L360.88 91.80 L361.86 89.00 L362.84 83.08 L363.82 76.23 L364.80 69.47 L365.78 68.25 L366.76 70.97 L367.74 75.97 L368.71 80.73 L369.69 82.71 L370.67 84.17 L371.65 85.90 L372.63 87.51 L373.61 87.80 L374.59 89.65 L375.56 90.71 L376.54 90.53 L377.52 90.87 L378.50 91.17 L379.48 91.18 L380.46 92.14 L381.44 92.30 L382.42 92.24 L383.39 91.19 L384.37 92.22 L385.35 92.17 L386.33 92.35 L387.31 92.35 L388.29 92.40 L389.27 92.09 L390.25 92.39 L391.23 92.29 L392.20 91.64 L393.18 92.65 L394.16 91.98 L395.14 92.17 L396.12 92.48 L397.10 92.57 L398.08 92.44 L399.06 92.75 L400.03 93.26 L401.01 93.02 L401.99 93.09 L402.97 93.15 L402.97 93.50 L357.95 93.50 Z" fill="#f0bcbc" fill-opacity="0.8"/>
<path d="M357.95 93.26 L358.93 93.05 L359.91 93.09 L360.88 91.80 L361.86 89.00 L362.84 83.08 L363.82 76.23 L364.80 69.47 L365.78 68.25 L366.76 70.97 L367.74 75.97 L368.71 80.73 L369.69 82.71 L370.67 84.17 L371.65 85.90 L372.63 87.51 L373.61 87.80 L374.59 89.65 L375.56 90.71 L376.54 90.53 L377.52 90.87 L378.50 91.17 L379.48 91.18 L380.46 92.14 L381.44 92.30 L382.42 92.24 L383.39 91.19 L384.37 92.22 L385.35 92.17 L386.33 92.35 L387.31 92.35 L388.29 92.40 L389.27 92.09 L390.25 92.39 L391.23 92.29 L392.20 91.64 L393.18 92.65 L394.16 91.98 L395.14 92.17 L396.12 92.48 L397.10 92.57 L398.08 92.44 L399.06 92.75 L400.03 93.26 L401.01 93.02 L401.99 93.09 L402.97 93.15" fill="none" stroke="#c8424c" stroke-width="0.9" stroke-linejoin="round"/>
<path d="M354.03 109.80 L355.01 109.27 L355.99 108.06 L356.97 105.44 L357.95 101.97 L358.93 95.85 L359.91 89.63 L360.88 85.50 L361.86 85.84 L362.84 88.59 L363.82 94.31 L364.80 100.35 L365.78 104.37 L366.76 107.71 L367.74 109.22 L368.71 109.73 L368.71 110.00 L354.03 110.00 Z" fill="#d6d6d6" fill-opacity="0.8"/>
<path d="M354.03 109.80 L355.01 109.27 L355.99 108.06 L356.97 105.44 L357.95 101.97 L358.93 95.85 L359.91 89.63 L360.88 85.50 L361.86 85.84 L362.84 88.59 L363.82 94.31 L364.80 100.35 L365.78 104.37 L366.76 107.71 L367.74 109.22 L368.71 109.73" fill="none" stroke="#707070" stroke-width="0.8" stroke-linejoin="round"/>
<path d="M351.10 60.53 L351.59 59.72 L352.07 58.21 L352.56 55.71 L353.05 52.02 L353.54 47.21 L354.03 41.80 L354.52 36.69 L355.01 33.00 L355.50 31.65 L355.99 33.01 L356.48 36.70 L356.97 41.81 L357.46 47.23 L357.95 52.03 L358.44 55.72 L358.93 58.22 L359.42 59.72 L359.91 60.53" fill="none" stroke="#3a2a2a" stroke-width="1" stroke-dasharray="2 1.5"/>
<line x1="332.30" y1="110.00" x2="332.30" y2="112.40" stroke="#777" stroke-width="0.75"/>
<line x1="337.14" y1="110.00" x2="337.14" y2="112.40" stroke="#777" stroke-width="0.75"/>
<line x1="339.09" y1="110.00" x2="339.09" y2="112.40" stroke="#777" stroke-width="0.75"/>
<line x1="340.33" y1="110.00" x2="340.33" y2="114.00" stroke="#777" stroke-width="0.75"/>
<line x1="344.75" y1="110.00" x2="344.75" y2="113.60" stroke="#555" stroke-width="1.0"/>
<line x1="346.12" y1="110.00" x2="346.12" y2="113.60" stroke="#555" stroke-width="1.0"/>
<line x1="347.49" y1="110.00" x2="347.49" y2="113.60" stroke="#555" stroke-width="1.0"/>
<line x1="348.86" y1="110.00" x2="348.86" y2="113.60" stroke="#555" stroke-width="1.0"/>
<line x1="350.24" y1="110.00" x2="350.24" y2="113.60" stroke="#555" stroke-width="1.0"/>
<line x1="351.61" y1="110.00" x2="351.61" y2="113.60" stroke="#555" stroke-width="1.0"/>
<line x1="352.98" y1="110.00" x2="352.98" y2="113.60" stroke="#555" stroke-width="1.0"/>
<line x1="354.35" y1="110.00" x2="354.35" y2="113.60" stroke="#555" stroke-width="1.0"/>
<line x1="355.72" y1="110.00" x2="355.72" y2="113.60" stroke="#555" stroke-width="1.0"/>
<line x1="357.10" y1="110.00" x2="357.10" y2="113.60" stroke="#555" stroke-width="1.0"/>
<line x1="358.47" y1="110.00" x2="358.47" y2="113.60" stroke="#555" stroke-width="1.0"/>
<line x1="359.84" y1="110.00" x2="359.84" y2="113.60" stroke="#555" stroke-width="1.0"/>
<line x1="361.21" y1="110.00" x2="361.21" y2="113.60" stroke="#555" stroke-width="1.0"/>
<line x1="366.03" y1="110.00" x2="366.03" y2="112.40" stroke="#777" stroke-width="0.75"/>
<line x1="369.98" y1="110.00" x2="369.98" y2="112.40" stroke="#777" stroke-width="0.75"/>
<line x1="371.88" y1="110.00" x2="371.88" y2="112.40" stroke="#777" stroke-width="0.75"/>
<line x1="373.15" y1="110.00" x2="373.15" y2="112.40" stroke="#777" stroke-width="0.75"/>
<line x1="374.10" y1="110.00" x2="374.10" y2="112.40" stroke="#777" stroke-width="0.75"/>
<line x1="374.86" y1="110.00" x2="374.86" y2="114.00" stroke="#777" stroke-width="0.75"/>
<line x1="380.48" y1="110.00" x2="380.48" y2="112.40" stroke="#777" stroke-width="0.75"/>
<line x1="383.36" y1="110.00" x2="383.36" y2="112.40" stroke="#777" stroke-width="0.75"/>
<line x1="384.74" y1="110.00" x2="384.74" y2="112.40" stroke="#777" stroke-width="0.75"/>
<line x1="385.66" y1="110.00" x2="385.66" y2="112.40" stroke="#777" stroke-width="0.75"/>
<line x1="386.35" y1="110.00" x2="386.35" y2="112.40" stroke="#777" stroke-width="0.75"/>
<line x1="386.91" y1="110.00" x2="386.91" y2="114.00" stroke="#777" stroke-width="0.75"/>
<line x1="390.12" y1="110.00" x2="390.12" y2="112.40" stroke="#777" stroke-width="0.75"/>
<line x1="392.99" y1="110.00" x2="392.99" y2="112.40" stroke="#777" stroke-width="0.75"/>
<line x1="394.38" y1="110.00" x2="394.38" y2="112.40" stroke="#777" stroke-width="0.75"/>
<line x1="395.30" y1="110.00" x2="395.30" y2="112.40" stroke="#777" stroke-width="0.75"/>
<line x1="395.99" y1="110.00" x2="395.99" y2="112.40" stroke="#777" stroke-width="0.75"/>
<line x1="396.54" y1="110.00" x2="396.54" y2="114.00" stroke="#777" stroke-width="0.75"/>
<line x1="402.97" y1="110.00" x2="402.97" y2="112.40" stroke="#777" stroke-width="0.75"/>
<line x1="405.84" y1="110.00" x2="405.84" y2="112.40" stroke="#777" stroke-width="0.75"/>
<line x1="407.22" y1="110.00" x2="407.22" y2="112.40" stroke="#777" stroke-width="0.75"/>
<line x1="408.15" y1="110.00" x2="408.15" y2="112.40" stroke="#777" stroke-width="0.75"/>
<line x1="408.84" y1="110.00" x2="408.84" y2="112.40" stroke="#777" stroke-width="0.75"/>
<line x1="409.39" y1="110.00" x2="409.39" y2="114.00" stroke="#777" stroke-width="0.75"/>
<text x="335.40" y="129.50" font-size="10.2" transform="translate(335.40 129.50) scale(1 1.08) translate(-335.40 -129.50)">Ki67</text>
<line x1="360.20" y1="126.30" x2="382.40" y2="126.30" stroke="#888" stroke-width="1"/>
<path d="M381.40 122.30 L388.90 126.30 L381.40 130.30 Z" fill="#000"/>
<rect x="425.40" y="27.30" width="79.60" height="83.40" fill="#fff" stroke="#c8c8c8" stroke-width="1"/>
<line x1="425.40" y1="61.20" x2="505.00" y2="61.20" stroke="#b8b8b8" stroke-width="1" stroke-dasharray="4 3"/>
<line x1="425.40" y1="76.80" x2="505.00" y2="76.80" stroke="#bfe3c5" stroke-width="0.9"/>
<line x1="425.40" y1="93.50" x2="505.00" y2="93.50" stroke="#f3c9c9" stroke-width="0.9"/>
<path d="M446.77 76.49 L447.74 76.32 L448.71 76.23 L449.68 76.09 L450.65 75.73 L451.62 74.29 L452.59 74.00 L453.56 73.04 L454.53 72.23 L455.50 71.36 L456.47 69.78 L457.44 68.77 L458.41 67.36 L459.38 66.44 L460.35 65.31 L461.32 65.05 L462.29 64.79 L463.26 64.17 L464.23 62.57 L465.20 61.73 L466.17 58.99 L467.14 56.63 L468.11 55.54 L469.08 54.55 L470.05 57.44 L471.02 60.14 L471.99 64.57 L472.96 69.35 L473.93 71.77 L474.90 73.73 L475.87 75.61 L476.84 75.61 L477.81 76.63 L478.78 76.41 L479.75 76.55 L479.75 76.80 L446.77 76.80 Z" fill="#cfe9d3" fill-opacity="1"/>
<path d="M446.77 76.49 L447.74 76.32 L448.71 76.23 L449.68 76.09 L450.65 75.73 L451.62 74.29 L452.59 74.00 L453.56 73.04 L454.53 72.23 L455.50 71.36 L456.47 69.78 L457.44 68.77 L458.41 67.36 L459.38 66.44 L460.35 65.31 L461.32 65.05 L462.29 64.79 L463.26 64.17 L464.23 62.57 L465.20 61.73 L466.17 58.99 L467.14 56.63 L468.11 55.54 L469.08 54.55 L470.05 57.44 L471.02 60.14 L471.99 64.57 L472.96 69.35 L473.93 71.77 L474.90 73.73 L475.87 75.61 L476.84 75.61 L477.81 76.63 L478.78 76.41 L479.75 76.55" fill="none" stroke="#3f9a5a" stroke-width="0.9" stroke-linejoin="round"/>
<path d="M426.40 91.49 L427.37 92.02 L428.34 91.50 L429.31 91.33 L430.28 90.46 L431.25 90.26 L432.22 89.71 L433.19 90.37 L434.16 89.65 L435.13 89.78 L436.10 89.21 L437.07 88.50 L438.04 88.69 L439.01 88.09 L439.98 87.15 L440.95 86.86 L441.92 86.84 L442.89 85.97 L443.86 85.28 L444.83 85.82 L445.80 84.43 L446.77 84.14 L447.74 84.16 L448.71 83.98 L449.68 82.63 L450.65 83.01 L451.62 82.94 L452.59 82.61 L453.56 81.40 L454.53 81.41 L455.50 80.90 L456.47 80.74 L457.44 80.70 L458.41 79.81 L459.38 79.94 L460.35 78.71 L461.32 76.69 L462.29 74.44 L463.26 71.33 L464.23 69.00 L465.20 66.84 L466.17 66.95 L467.14 67.85 L468.11 70.94 L469.08 75.89 L470.05 80.89 L471.02 85.71 L471.99 89.04 L472.96 90.93 L473.93 92.56 L474.90 93.05 L475.87 93.33 L475.87 93.50 L426.40 93.50 Z" fill="#f0bcbc" fill-opacity="0.8"/>
<path d="M426.40 91.49 L427.37 92.02 L428.34 91.50 L429.31 91.33 L430.28 90.46 L431.25 90.26 L432.22 89.71 L433.19 90.37 L434.16 89.65 L435.13 89.78 L436.10 89.21 L437.07 88.50 L438.04 88.69 L439.01 88.09 L439.98 87.15 L440.95 86.86 L441.92 86.84 L442.89 85.97 L443.86 85.28 L444.83 85.82 L445.80 84.43 L446.77 84.14 L447.74 84.16 L448.71 83.98 L449.68 82.63 L450.65 83.01 L451.62 82.94 L452.59 82.61 L453.56 81.40 L454.53 81.41 L455.50 80.90 L456.47 80.74 L457.44 80.70 L458.41 79.81 L459.38 79.94 L460.35 78.71 L461.32 76.69 L462.29 74.44 L463.26 71.33 L464.23 69.00 L465.20 66.84 L466.17 66.95 L467.14 67.85 L468.11 70.94 L469.08 75.89 L470.05 80.89 L471.02 85.71 L471.99 89.04 L472.96 90.93 L473.93 92.56 L474.90 93.05 L475.87 93.33" fill="none" stroke="#c8424c" stroke-width="0.9" stroke-linejoin="round"/>
<path d="M457.44 110.65 L458.41 109.40 L459.38 109.35 L460.35 107.89 L461.32 106.13 L462.29 103.98 L463.26 101.88 L464.23 98.90 L465.20 96.29 L466.17 92.62 L467.14 89.84 L468.11 87.06 L469.08 86.17 L470.05 85.93 L471.02 89.29 L471.99 94.85 L472.96 99.72 L473.93 104.41 L474.90 108.01 L475.87 110.01 L476.84 110.28 L477.81 110.57 L477.81 110.70 L457.44 110.70 Z" fill="#d6d6d6" fill-opacity="0.8"/>
<path d="M457.44 110.65 L458.41 109.40 L459.38 109.35 L460.35 107.89 L461.32 106.13 L462.29 103.98 L463.26 101.88 L464.23 98.90 L465.20 96.29 L466.17 92.62 L467.14 89.84 L468.11 87.06 L469.08 86.17 L470.05 85.93 L471.02 89.29 L471.99 94.85 L472.96 99.72 L473.93 104.41 L474.90 108.01 L475.87 110.01 L476.84 110.28 L477.81 110.57" fill="none" stroke="#707070" stroke-width="0.8" stroke-linejoin="round"/>
<path d="M442.89 60.77 L443.38 60.54 L443.86 60.21 L444.34 59.75 L444.83 59.12 L445.31 58.28 L445.80 57.21 L446.28 55.85 L446.77 54.21 L447.25 52.26 L447.74 50.03 L448.22 47.56 L448.71 44.92 L449.19 42.21 L449.68 39.56 L450.16 37.10 L450.65 34.96 L451.13 33.28 L451.62 32.17 L452.10 31.71 L452.59 31.91 L453.07 32.78 L453.56 34.24 L454.04 36.21 L454.53 38.56 L455.01 41.16 L455.50 43.86 L455.99 46.54 L456.47 49.09 L456.95 51.42 L457.44 53.48 L457.93 55.25 L458.41 56.71 L458.89 57.89 L459.38 58.82 L459.87 59.52 L460.35 60.05 L460.83 60.43 L461.32 60.69" fill="none" stroke="#3a2a2a" stroke-width="1" stroke-dasharray="2 1.5"/>
<line x1="426.20" y1="110.70" x2="426.20" y2="113.10" stroke="#777" stroke-width="0.75"/>
<line x1="430.99" y1="110.70" x2="430.99" y2="113.10" stroke="#777" stroke-width="0.75"/>
<line x1="432.92" y1="110.70" x2="432.92" y2="113.10" stroke="#777" stroke-width="0.75"/>
<line x1="434.16" y1="110.70" x2="434.16" y2="114.70" stroke="#777" stroke-width="0.75"/>
<line x1="438.53" y1="110.70" x2="438.53" y2="114.30" stroke="#666" stroke-width="1.0"/>
<line x1="439.89" y1="110.70" x2="439.89" y2="114.30" stroke="#666" stroke-width="1.0"/>
<line x1="441.25" y1="110.70" x2="441.25" y2="114.30" stroke="#666" stroke-width="1.0"/>
<line x1="442.61" y1="110.70" x2="442.61" y2="114.30" stroke="#666" stroke-width="1.0"/>
<line x1="443.97" y1="110.70" x2="443.97" y2="114.30" stroke="#666" stroke-width="1.0"/>
<line x1="445.33" y1="110.70" x2="445.33" y2="114.30" stroke="#666" stroke-width="1.0"/>
<line x1="446.69" y1="110.70" x2="446.69" y2="114.30" stroke="#666" stroke-width="1.0"/>
<line x1="448.05" y1="110.70" x2="448.05" y2="114.30" stroke="#666" stroke-width="1.0"/>
<line x1="449.41" y1="110.70" x2="449.41" y2="114.30" stroke="#666" stroke-width="1.0"/>
<line x1="450.77" y1="110.70" x2="450.77" y2="114.30" stroke="#666" stroke-width="1.0"/>
<line x1="452.13" y1="110.70" x2="452.13" y2="114.30" stroke="#666" stroke-width="1.0"/>
<line x1="453.49" y1="110.70" x2="453.49" y2="114.30" stroke="#666" stroke-width="1.0"/>
<line x1="454.85" y1="110.70" x2="454.85" y2="114.30" stroke="#666" stroke-width="1.0"/>
<line x1="459.63" y1="110.70" x2="459.63" y2="113.10" stroke="#777" stroke-width="0.75"/>
<line x1="463.54" y1="110.70" x2="463.54" y2="113.10" stroke="#777" stroke-width="0.75"/>
<line x1="465.43" y1="110.70" x2="465.43" y2="113.10" stroke="#777" stroke-width="0.75"/>
<line x1="466.69" y1="110.70" x2="466.69" y2="113.10" stroke="#777" stroke-width="0.75"/>
<line x1="467.63" y1="110.70" x2="467.63" y2="113.10" stroke="#777" stroke-width="0.75"/>
<line x1="468.38" y1="110.70" x2="468.38" y2="114.70" stroke="#777" stroke-width="0.75"/>
<line x1="473.96" y1="110.70" x2="473.96" y2="113.10" stroke="#777" stroke-width="0.75"/>
<line x1="476.80" y1="110.70" x2="476.80" y2="113.10" stroke="#777" stroke-width="0.75"/>
<line x1="478.18" y1="110.70" x2="478.18" y2="113.10" stroke="#777" stroke-width="0.75"/>
<line x1="479.09" y1="110.70" x2="479.09" y2="113.10" stroke="#777" stroke-width="0.75"/>
<line x1="479.78" y1="110.70" x2="479.78" y2="113.10" stroke="#777" stroke-width="0.75"/>
<line x1="480.32" y1="110.70" x2="480.32" y2="114.70" stroke="#777" stroke-width="0.75"/>
<line x1="483.51" y1="110.70" x2="483.51" y2="113.10" stroke="#777" stroke-width="0.75"/>
<line x1="486.36" y1="110.70" x2="486.36" y2="113.10" stroke="#777" stroke-width="0.75"/>
<line x1="487.73" y1="110.70" x2="487.73" y2="113.10" stroke="#777" stroke-width="0.75"/>
<line x1="488.64" y1="110.70" x2="488.64" y2="113.10" stroke="#777" stroke-width="0.75"/>
<line x1="489.33" y1="110.70" x2="489.33" y2="113.10" stroke="#777" stroke-width="0.75"/>
<line x1="489.88" y1="110.70" x2="489.88" y2="114.70" stroke="#777" stroke-width="0.75"/>
<line x1="496.24" y1="110.70" x2="496.24" y2="113.10" stroke="#777" stroke-width="0.75"/>
<line x1="499.09" y1="110.70" x2="499.09" y2="113.10" stroke="#777" stroke-width="0.75"/>
<line x1="500.46" y1="110.70" x2="500.46" y2="113.10" stroke="#777" stroke-width="0.75"/>
<line x1="501.38" y1="110.70" x2="501.38" y2="113.10" stroke="#777" stroke-width="0.75"/>
<line x1="502.06" y1="110.70" x2="502.06" y2="113.10" stroke="#777" stroke-width="0.75"/>
<line x1="502.61" y1="110.70" x2="502.61" y2="114.70" stroke="#777" stroke-width="0.75"/>
<text x="429.30" y="129.50" font-size="10.2" transform="translate(429.30 129.50) scale(1 1.08) translate(-429.30 -129.50)">TCF1</text>
<line x1="463.20" y1="126.30" x2="485.40" y2="126.30" stroke="#888" stroke-width="1"/>
<path d="M484.40 122.30 L491.90 126.30 L484.40 130.30 Z" fill="#000"/>
<text x="508.70" y="57.40" font-size="11.2" transform="translate(508.70 57.40) scale(1 1.08) translate(-508.70 -57.40)">FMO</text>
<text x="508.70" y="73.80" font-size="11.2" fill="#1f9595" transform="translate(508.70 73.80) scale(1 1.08) translate(-508.70 -73.80)">SP</text>
<text x="508.70" y="90.50" font-size="11.2" fill="#b0282e" transform="translate(508.70 90.50) scale(1 1.08) translate(-508.70 -90.50)">DP</text>
<text x="508.70" y="106.90" font-size="11.2" fill="#a8a8a8" transform="translate(508.70 106.90) scale(1 1.08) translate(-508.70 -106.90)">DN</text>
<rect x="547.00" y="27.00" width="193.20" height="54.00" fill="none" stroke="#333" stroke-width="1"/>
<rect x="547.00" y="87.20" width="193.20" height="37.20" fill="none" stroke="#333" stroke-width="1"/>
<rect x="555.70" y="32.80" width="8.50" height="9.50" fill="#1a7a78" stroke="#222" stroke-width="0.8"/>
<rect x="555.70" y="50.60" width="8.50" height="9.50" fill="#7a0208" stroke="#222" stroke-width="0.8"/>
<rect x="555.70" y="67.00" width="8.50" height="9.50" fill="#c8c8c8" stroke="#444" stroke-width="0.8"/>
<text x="569.60" y="41.60" font-size="12.2" transform="translate(569.60 41.60) scale(1 1.08) translate(-569.60 -41.60)">CD39<tspan dy="-4.5" font-size="8">-</tspan><tspan dy="4.5"> CD103<tspan dy="-4.5" font-size="8">+</tspan><tspan dy="4.5"> (SP CD103)</tspan></tspan></text>
<text x="569.60" y="59.00" font-size="12.2" transform="translate(569.60 59.00) scale(1 1.08) translate(-569.60 -59.00)">CD39<tspan dy="-4.5" font-size="8">+</tspan><tspan dy="4.5"> CD103<tspan dy="-4.5" font-size="8">+</tspan><tspan dy="4.5"> (DP)</tspan></tspan></text>
<text x="568.60" y="75.70" font-size="12.2" transform="translate(568.60 75.70) scale(1 1.08) translate(-568.60 -75.70)">CD39<tspan dy="-4.5" font-size="8">-</tspan><tspan dy="4.5"> CD103<tspan dy="-4.5" font-size="8">-</tspan><tspan dy="4.5"> (DN)</tspan></tspan></text>
<circle cx="560.20" cy="96.60" r="4.6" fill="#6670c0" stroke="#333" stroke-width="0.8"/>
<circle cx="560.20" cy="114.00" r="4.6" fill="#b070c0" stroke="#333" stroke-width="0.8"/>
<text x="569.60" y="100.70" font-size="12.2" transform="translate(569.60 100.70) scale(1 1.08) translate(-569.60 -100.70)">Central Tissue (CT)</text>
<text x="569.60" y="118.00" font-size="12.2" transform="translate(569.60 118.00) scale(1 1.08) translate(-569.60 -118.00)">Peripheral Tissue (PT)</text>
<text x="4.1" y="175.8" font-size="21" font-weight="bold" stroke="#000" stroke-width="0.6">B</text>
<rect x="52.40" y="256.07" width="19.60" height="65.53" fill="#1a7a78" stroke="#111" stroke-width="1"/>
<rect x="83.10" y="247.76" width="19.60" height="73.84" fill="#7a0208" stroke="#111" stroke-width="1"/>
<rect x="114.00" y="280.99" width="19.60" height="40.61" fill="#d9d9d9" stroke="#111" stroke-width="1"/>
<circle cx="61.24" cy="253.85" r="2.1" fill="#b865c8"/>
<circle cx="55.48" cy="251.98" r="2.1" fill="#b865c8"/>
<circle cx="65.33" cy="233.24" r="2.1" fill="#5a6cc4"/>
<circle cx="54.30" cy="253.24" r="2.1" fill="#b865c8"/>
<circle cx="64.49" cy="260.27" r="2.1" fill="#5a6cc4"/>
<circle cx="53.83" cy="247.37" r="2.1" fill="#5a6cc4"/>
<circle cx="68.37" cy="248.45" r="2.1" fill="#5a6cc4"/>
<circle cx="70.07" cy="244.51" r="2.1" fill="#5a6cc4"/>
<circle cx="56.72" cy="252.32" r="2.1" fill="#5a6cc4"/>
<circle cx="68.75" cy="238.60" r="2.1" fill="#b865c8"/>
<circle cx="58.91" cy="245.00" r="2.1" fill="#5a6cc4"/>
<circle cx="63.12" cy="230.49" r="2.1" fill="#b865c8"/>
<circle cx="53.27" cy="245.23" r="2.1" fill="#b865c8"/>
<circle cx="68.95" cy="247.54" r="2.1" fill="#b865c8"/>
<circle cx="63.16" cy="238.87" r="2.1" fill="#b865c8"/>
<circle cx="57.73" cy="242.90" r="2.1" fill="#5a6cc4"/>
<circle cx="64.97" cy="255.18" r="2.1" fill="#b865c8"/>
<circle cx="62.82" cy="243.40" r="2.1" fill="#5a6cc4"/>
<circle cx="69.95" cy="254.44" r="2.1" fill="#5a6cc4"/>
<circle cx="64.91" cy="240.27" r="2.1" fill="#b865c8"/>
<circle cx="60.41" cy="253.76" r="2.1" fill="#5a6cc4"/>
<circle cx="56.95" cy="246.74" r="2.1" fill="#5a6cc4"/>
<circle cx="56.15" cy="255.30" r="2.1" fill="#5a6cc4"/>
<circle cx="59.23" cy="246.93" r="2.1" fill="#5a6cc4"/>
<circle cx="61.46" cy="239.06" r="2.1" fill="#b865c8"/>
<circle cx="64.95" cy="240.79" r="2.1" fill="#b865c8"/>
<circle cx="59.78" cy="254.25" r="2.1" fill="#b865c8"/>
<circle cx="62.85" cy="259.49" r="2.1" fill="#5a6cc4"/>
<circle cx="63.02" cy="244.14" r="2.1" fill="#5a6cc4"/>
<circle cx="65.31" cy="254.59" r="2.1" fill="#b865c8"/>
<circle cx="57.73" cy="255.23" r="2.1" fill="#b865c8"/>
<circle cx="61.39" cy="244.28" r="2.1" fill="#5a6cc4"/>
<circle cx="55.79" cy="258.67" r="2.1" fill="#5a6cc4"/>
<circle cx="70.78" cy="243.41" r="2.1" fill="#b865c8"/>
<circle cx="61.22" cy="241.37" r="2.1" fill="#b865c8"/>
<circle cx="57.81" cy="249.27" r="2.1" fill="#b865c8"/>
<circle cx="69.63" cy="256.24" r="2.1" fill="#b865c8"/>
<circle cx="61.55" cy="251.09" r="2.1" fill="#b865c8"/>
<circle cx="67.77" cy="238.18" r="2.1" fill="#5a6cc4"/>
<circle cx="60.53" cy="248.03" r="2.1" fill="#b865c8"/>
<circle cx="58.81" cy="240.10" r="2.1" fill="#b865c8"/>
<circle cx="55.43" cy="249.04" r="2.1" fill="#b865c8"/>
<circle cx="69.00" cy="248.49" r="2.1" fill="#5a6cc4"/>
<circle cx="65.85" cy="248.00" r="2.1" fill="#5a6cc4"/>
<circle cx="64.83" cy="248.46" r="2.1" fill="#b865c8"/>
<circle cx="71.19" cy="247.14" r="2.1" fill="#b865c8"/>
<circle cx="59.43" cy="243.05" r="2.1" fill="#b865c8"/>
<circle cx="56.78" cy="240.50" r="2.1" fill="#b865c8"/>
<circle cx="60.64" cy="250.56" r="2.1" fill="#5a6cc4"/>
<circle cx="57.97" cy="256.55" r="2.1" fill="#5a6cc4"/>
<circle cx="67.46" cy="254.43" r="2.1" fill="#5a6cc4"/>
<circle cx="57.84" cy="256.46" r="2.1" fill="#5a6cc4"/>
<circle cx="58.97" cy="264.69" r="2.1" fill="#b865c8"/>
<circle cx="63.86" cy="249.46" r="2.1" fill="#b865c8"/>
<circle cx="69.11" cy="255.21" r="2.1" fill="#b865c8"/>
<circle cx="57.28" cy="235.78" r="2.1" fill="#5a6cc4"/>
<circle cx="62.50" cy="253.66" r="2.1" fill="#b865c8"/>
<circle cx="67.38" cy="260.05" r="2.1" fill="#b865c8"/>
<circle cx="57.08" cy="246.51" r="2.1" fill="#b865c8"/>
<circle cx="70.45" cy="249.49" r="2.1" fill="#5a6cc4"/>
<circle cx="66.13" cy="291.18" r="2.1" fill="#b865c8"/>
<circle cx="62.63" cy="282.49" r="2.1" fill="#b865c8"/>
<circle cx="58.68" cy="265.87" r="2.1" fill="#5a6cc4"/>
<circle cx="57.73" cy="267.82" r="2.1" fill="#b865c8"/>
<circle cx="64.27" cy="268.84" r="2.1" fill="#b865c8"/>
<circle cx="63.13" cy="288.77" r="2.1" fill="#b865c8"/>
<circle cx="61.41" cy="272.52" r="2.1" fill="#5a6cc4"/>
<circle cx="58.10" cy="270.62" r="2.1" fill="#5a6cc4"/>
<circle cx="62.50" cy="269.66" r="2.1" fill="#b865c8"/>
<circle cx="60.27" cy="270.13" r="2.1" fill="#5a6cc4"/>
<circle cx="64.20" cy="288.18" r="2.1" fill="#5a6cc4"/>
<circle cx="62.69" cy="287.11" r="2.1" fill="#5a6cc4"/>
<circle cx="65.29" cy="292.17" r="2.1" fill="#b865c8"/>
<circle cx="64.33" cy="292.92" r="2.1" fill="#b865c8"/>
<circle cx="60.66" cy="290.78" r="2.1" fill="#5a6cc4"/>
<circle cx="95.64" cy="236.12" r="2.1" fill="#5a6cc4"/>
<circle cx="91.54" cy="234.03" r="2.1" fill="#5a6cc4"/>
<circle cx="92.56" cy="236.59" r="2.1" fill="#5a6cc4"/>
<circle cx="86.97" cy="232.02" r="2.1" fill="#5a6cc4"/>
<circle cx="86.34" cy="247.89" r="2.1" fill="#5a6cc4"/>
<circle cx="86.56" cy="246.78" r="2.1" fill="#5a6cc4"/>
<circle cx="89.44" cy="249.28" r="2.1" fill="#b865c8"/>
<circle cx="91.28" cy="248.65" r="2.1" fill="#5a6cc4"/>
<circle cx="88.03" cy="233.48" r="2.1" fill="#5a6cc4"/>
<circle cx="96.83" cy="239.79" r="2.1" fill="#5a6cc4"/>
<circle cx="92.24" cy="248.75" r="2.1" fill="#b865c8"/>
<circle cx="99.13" cy="248.33" r="2.1" fill="#b865c8"/>
<circle cx="98.25" cy="233.47" r="2.1" fill="#b865c8"/>
<circle cx="87.81" cy="250.49" r="2.1" fill="#5a6cc4"/>
<circle cx="87.09" cy="246.02" r="2.1" fill="#b865c8"/>
<circle cx="91.07" cy="238.53" r="2.1" fill="#b865c8"/>
<circle cx="99.95" cy="232.89" r="2.1" fill="#b865c8"/>
<circle cx="92.45" cy="232.52" r="2.1" fill="#5a6cc4"/>
<circle cx="88.97" cy="245.96" r="2.1" fill="#5a6cc4"/>
<circle cx="95.57" cy="251.63" r="2.1" fill="#b865c8"/>
<circle cx="100.79" cy="250.35" r="2.1" fill="#b865c8"/>
<circle cx="100.44" cy="239.11" r="2.1" fill="#b865c8"/>
<circle cx="92.50" cy="240.63" r="2.1" fill="#b865c8"/>
<circle cx="89.41" cy="233.28" r="2.1" fill="#b865c8"/>
<circle cx="96.72" cy="235.93" r="2.1" fill="#b865c8"/>
<circle cx="85.84" cy="234.08" r="2.1" fill="#5a6cc4"/>
<circle cx="101.41" cy="249.74" r="2.1" fill="#5a6cc4"/>
<circle cx="91.98" cy="250.25" r="2.1" fill="#b865c8"/>
<circle cx="92.62" cy="242.15" r="2.1" fill="#b865c8"/>
<circle cx="100.39" cy="238.98" r="2.1" fill="#5a6cc4"/>
<circle cx="86.05" cy="247.83" r="2.1" fill="#b865c8"/>
<circle cx="92.22" cy="232.45" r="2.1" fill="#5a6cc4"/>
<circle cx="87.43" cy="254.45" r="2.1" fill="#5a6cc4"/>
<circle cx="94.21" cy="242.98" r="2.1" fill="#5a6cc4"/>
<circle cx="93.97" cy="248.98" r="2.1" fill="#b865c8"/>
<circle cx="92.64" cy="239.10" r="2.1" fill="#b865c8"/>
<circle cx="85.72" cy="238.49" r="2.1" fill="#b865c8"/>
<circle cx="97.13" cy="244.67" r="2.1" fill="#b865c8"/>
<circle cx="85.29" cy="239.62" r="2.1" fill="#b865c8"/>
<circle cx="93.74" cy="232.73" r="2.1" fill="#b865c8"/>
<circle cx="92.36" cy="247.55" r="2.1" fill="#5a6cc4"/>
<circle cx="100.47" cy="248.00" r="2.1" fill="#b865c8"/>
<circle cx="96.71" cy="249.66" r="2.1" fill="#b865c8"/>
<circle cx="93.80" cy="245.06" r="2.1" fill="#5a6cc4"/>
<circle cx="96.57" cy="249.79" r="2.1" fill="#5a6cc4"/>
<circle cx="96.40" cy="255.72" r="2.1" fill="#b865c8"/>
<circle cx="87.97" cy="237.43" r="2.1" fill="#5a6cc4"/>
<circle cx="85.16" cy="251.62" r="2.1" fill="#5a6cc4"/>
<circle cx="98.25" cy="259.84" r="2.1" fill="#5a6cc4"/>
<circle cx="99.22" cy="238.88" r="2.1" fill="#5a6cc4"/>
<circle cx="90.06" cy="252.01" r="2.1" fill="#b865c8"/>
<circle cx="90.57" cy="238.85" r="2.1" fill="#b865c8"/>
<circle cx="88.64" cy="234.63" r="2.1" fill="#b865c8"/>
<circle cx="87.40" cy="250.46" r="2.1" fill="#5a6cc4"/>
<circle cx="96.31" cy="251.64" r="2.1" fill="#5a6cc4"/>
<circle cx="92.69" cy="234.51" r="2.1" fill="#b865c8"/>
<circle cx="87.07" cy="255.47" r="2.1" fill="#5a6cc4"/>
<circle cx="96.22" cy="251.88" r="2.1" fill="#b865c8"/>
<circle cx="83.76" cy="248.75" r="2.1" fill="#b865c8"/>
<circle cx="102.28" cy="248.59" r="2.1" fill="#b865c8"/>
<circle cx="99.04" cy="257.71" r="2.1" fill="#b865c8"/>
<circle cx="96.34" cy="270.07" r="2.1" fill="#5a6cc4"/>
<circle cx="92.67" cy="273.65" r="2.1" fill="#b865c8"/>
<circle cx="91.60" cy="258.71" r="2.1" fill="#b865c8"/>
<circle cx="92.29" cy="258.54" r="2.1" fill="#5a6cc4"/>
<circle cx="95.28" cy="279.92" r="2.1" fill="#b865c8"/>
<circle cx="91.21" cy="282.67" r="2.1" fill="#5a6cc4"/>
<circle cx="96.06" cy="260.92" r="2.1" fill="#b865c8"/>
<circle cx="96.33" cy="260.24" r="2.1" fill="#b865c8"/>
<circle cx="96.32" cy="274.03" r="2.1" fill="#b865c8"/>
<circle cx="93.99" cy="277.63" r="2.1" fill="#5a6cc4"/>
<circle cx="90.00" cy="265.73" r="2.1" fill="#b865c8"/>
<circle cx="97.18" cy="258.65" r="2.1" fill="#b865c8"/>
<circle cx="91.04" cy="278.78" r="2.1" fill="#b865c8"/>
<circle cx="96.32" cy="272.28" r="2.1" fill="#5a6cc4"/>
<circle cx="126.59" cy="268.12" r="2.1" fill="#5a6cc4"/>
<circle cx="127.13" cy="279.56" r="2.1" fill="#b865c8"/>
<circle cx="124.42" cy="281.14" r="2.1" fill="#b865c8"/>
<circle cx="120.95" cy="292.97" r="2.1" fill="#b865c8"/>
<circle cx="117.87" cy="277.41" r="2.1" fill="#5a6cc4"/>
<circle cx="129.82" cy="274.59" r="2.1" fill="#5a6cc4"/>
<circle cx="125.70" cy="281.98" r="2.1" fill="#b865c8"/>
<circle cx="131.44" cy="281.05" r="2.1" fill="#b865c8"/>
<circle cx="121.49" cy="292.53" r="2.1" fill="#5a6cc4"/>
<circle cx="125.47" cy="265.15" r="2.1" fill="#5a6cc4"/>
<circle cx="114.84" cy="275.00" r="2.1" fill="#b865c8"/>
<circle cx="125.94" cy="281.56" r="2.1" fill="#5a6cc4"/>
<circle cx="122.46" cy="272.53" r="2.1" fill="#5a6cc4"/>
<circle cx="130.81" cy="274.98" r="2.1" fill="#5a6cc4"/>
<circle cx="127.99" cy="277.25" r="2.1" fill="#b865c8"/>
<circle cx="120.58" cy="280.04" r="2.1" fill="#5a6cc4"/>
<circle cx="124.19" cy="277.54" r="2.1" fill="#5a6cc4"/>
<circle cx="125.58" cy="273.88" r="2.1" fill="#5a6cc4"/>
<circle cx="129.05" cy="270.41" r="2.1" fill="#b865c8"/>
<circle cx="117.38" cy="270.14" r="2.1" fill="#b865c8"/>
<circle cx="131.31" cy="274.37" r="2.1" fill="#b865c8"/>
<circle cx="124.60" cy="269.56" r="2.1" fill="#b865c8"/>
<circle cx="131.56" cy="279.78" r="2.1" fill="#5a6cc4"/>
<circle cx="123.62" cy="292.93" r="2.1" fill="#5a6cc4"/>
<circle cx="121.32" cy="292.17" r="2.1" fill="#5a6cc4"/>
<circle cx="123.12" cy="269.97" r="2.1" fill="#b865c8"/>
<circle cx="129.18" cy="293.74" r="2.1" fill="#5a6cc4"/>
<circle cx="117.00" cy="285.83" r="2.1" fill="#b865c8"/>
<circle cx="129.01" cy="278.16" r="2.1" fill="#b865c8"/>
<circle cx="117.20" cy="269.36" r="2.1" fill="#5a6cc4"/>
<circle cx="129.45" cy="297.73" r="2.1" fill="#b865c8"/>
<circle cx="128.79" cy="289.00" r="2.1" fill="#b865c8"/>
<circle cx="127.29" cy="285.93" r="2.1" fill="#b865c8"/>
<circle cx="120.30" cy="285.31" r="2.1" fill="#5a6cc4"/>
<circle cx="122.58" cy="278.26" r="2.1" fill="#b865c8"/>
<circle cx="129.10" cy="270.72" r="2.1" fill="#b865c8"/>
<circle cx="125.29" cy="272.45" r="2.1" fill="#b865c8"/>
<circle cx="121.75" cy="254.22" r="2.1" fill="#b865c8"/>
<circle cx="125.52" cy="263.40" r="2.1" fill="#b865c8"/>
<circle cx="127.11" cy="291.02" r="2.1" fill="#b865c8"/>
<circle cx="130.42" cy="292.48" r="2.1" fill="#5a6cc4"/>
<circle cx="120.11" cy="280.81" r="2.1" fill="#b865c8"/>
<circle cx="127.04" cy="281.27" r="2.1" fill="#5a6cc4"/>
<circle cx="130.61" cy="268.09" r="2.1" fill="#b865c8"/>
<circle cx="128.77" cy="272.34" r="2.1" fill="#5a6cc4"/>
<circle cx="119.84" cy="270.58" r="2.1" fill="#5a6cc4"/>
<circle cx="129.16" cy="278.29" r="2.1" fill="#b865c8"/>
<circle cx="132.40" cy="273.98" r="2.1" fill="#b865c8"/>
<circle cx="120.48" cy="274.58" r="2.1" fill="#5a6cc4"/>
<circle cx="121.59" cy="280.24" r="2.1" fill="#5a6cc4"/>
<circle cx="116.42" cy="272.71" r="2.1" fill="#b865c8"/>
<circle cx="121.06" cy="291.43" r="2.1" fill="#b865c8"/>
<circle cx="127.34" cy="269.24" r="2.1" fill="#5a6cc4"/>
<circle cx="122.67" cy="272.52" r="2.1" fill="#5a6cc4"/>
<circle cx="122.62" cy="254.22" r="2.1" fill="#b865c8"/>
<circle cx="116.48" cy="278.92" r="2.1" fill="#5a6cc4"/>
<circle cx="117.97" cy="292.85" r="2.1" fill="#b865c8"/>
<circle cx="120.81" cy="284.36" r="2.1" fill="#b865c8"/>
<circle cx="123.49" cy="280.19" r="2.1" fill="#b865c8"/>
<circle cx="124.13" cy="285.63" r="2.1" fill="#b865c8"/>
<circle cx="126.66" cy="290.05" r="2.1" fill="#b865c8"/>
<circle cx="116.07" cy="282.06" r="2.1" fill="#5a6cc4"/>
<circle cx="127.51" cy="291.64" r="2.1" fill="#5a6cc4"/>
<circle cx="131.12" cy="267.68" r="2.1" fill="#b865c8"/>
<circle cx="128.63" cy="292.64" r="2.1" fill="#b865c8"/>
<circle cx="132.54" cy="272.95" r="2.1" fill="#b865c8"/>
<circle cx="131.12" cy="269.02" r="2.1" fill="#b865c8"/>
<circle cx="119.38" cy="274.26" r="2.1" fill="#5a6cc4"/>
<circle cx="120.59" cy="265.42" r="2.1" fill="#b865c8"/>
<circle cx="126.80" cy="274.55" r="2.1" fill="#5a6cc4"/>
<circle cx="116.92" cy="295.09" r="2.1" fill="#b865c8"/>
<circle cx="124.36" cy="298.12" r="2.1" fill="#5a6cc4"/>
<circle cx="117.62" cy="297.92" r="2.1" fill="#5a6cc4"/>
<circle cx="128.80" cy="297.39" r="2.1" fill="#b865c8"/>
<circle cx="126.90" cy="301.03" r="2.1" fill="#5a6cc4"/>
<circle cx="125.70" cy="299.57" r="2.1" fill="#5a6cc4"/>
<circle cx="121.23" cy="297.80" r="2.1" fill="#b865c8"/>
<circle cx="119.95" cy="297.17" r="2.1" fill="#5a6cc4"/>
<circle cx="121.10" cy="260.52" r="2.1" fill="#b865c8"/>
<circle cx="125.52" cy="259.53" r="2.1" fill="#b865c8"/>
<circle cx="127.24" cy="261.02" r="2.1" fill="#b865c8"/>
<circle cx="127.48" cy="258.75" r="2.1" fill="#b865c8"/>
<line x1="47.50" y1="228.80" x2="47.50" y2="322.10" stroke="#222" stroke-width="1.3"/>
<line x1="46.90" y1="321.60" x2="138.90" y2="321.60" stroke="#222" stroke-width="1.3"/>
<line x1="45.00" y1="321.60" x2="47.50" y2="321.60" stroke="#222" stroke-width="1.2"/>
<text x="43.00" y="325.90" font-size="12.3" text-anchor="end" transform="translate(43.00 325.90) scale(1 1.08) translate(-43.00 -325.90)">0</text>
<line x1="45.00" y1="303.14" x2="47.50" y2="303.14" stroke="#222" stroke-width="1.2"/>
<text x="43.00" y="307.44" font-size="12.3" text-anchor="end" transform="translate(43.00 307.44) scale(1 1.08) translate(-43.00 -307.44)">20</text>
<line x1="45.00" y1="284.68" x2="47.50" y2="284.68" stroke="#222" stroke-width="1.2"/>
<text x="43.00" y="288.98" font-size="12.3" text-anchor="end" transform="translate(43.00 288.98) scale(1 1.08) translate(-43.00 -288.98)">40</text>
<line x1="45.00" y1="266.22" x2="47.50" y2="266.22" stroke="#222" stroke-width="1.2"/>
<text x="43.00" y="270.52" font-size="12.3" text-anchor="end" transform="translate(43.00 270.52) scale(1 1.08) translate(-43.00 -270.52)">60</text>
<line x1="45.00" y1="247.76" x2="47.50" y2="247.76" stroke="#222" stroke-width="1.2"/>
<text x="43.00" y="252.06" font-size="12.3" text-anchor="end" transform="translate(43.00 252.06) scale(1 1.08) translate(-43.00 -252.06)">80</text>
<line x1="45.00" y1="229.30" x2="47.50" y2="229.30" stroke="#222" stroke-width="1.2"/>
<text x="43.00" y="233.60" font-size="12.3" text-anchor="end" transform="translate(43.00 233.60) scale(1 1.08) translate(-43.00 -233.60)">100</text>
<line x1="62.20" y1="321.60" x2="62.20" y2="324.10" stroke="#222" stroke-width="1.2"/>
<line x1="92.90" y1="321.60" x2="92.90" y2="324.10" stroke="#222" stroke-width="1.2"/>
<line x1="123.80" y1="321.60" x2="123.80" y2="324.10" stroke="#222" stroke-width="1.2"/>
<text x="64.70" y="334.10" font-size="12" text-anchor="end" transform="rotate(-45 64.70 334.10) translate(64.70 334.10) scale(1 1.08) translate(-64.70 -334.10)">SP</text>
<text x="95.40" y="334.10" font-size="12" text-anchor="end" transform="rotate(-45 95.40 334.10) translate(95.40 334.10) scale(1 1.08) translate(-95.40 -334.10)">DP</text>
<text x="126.30" y="334.10" font-size="12" text-anchor="end" transform="rotate(-45 126.30 334.10) translate(126.30 334.10) scale(1 1.08) translate(-126.30 -334.10)">DN</text>
<text x="89.70" y="182.00" font-size="13.5" text-anchor="middle" transform="translate(89.70 182.00) scale(1 1.08) translate(-89.70 -182.00)">PD-1</text>
<text x="16.20" y="275.30" font-size="12.2" text-anchor="middle" transform="rotate(-90 16.20 275.30) translate(16.20 275.30) scale(1 1.08) translate(-16.20 -275.30)">PD-1 (%)</text>
<path d="M62.20 202.90 L62.20 196.70 L124.20 196.70 L124.20 202.90" fill="none" stroke="#222" stroke-width="1.2" stroke-linejoin="miter"/>
<text x="92.90" y="199.00" font-size="16" text-anchor="middle" font-weight="bold" transform="translate(92.90 199.00) scale(1 1.08) translate(-92.90 -199.00)">***</text>
<path d="M62.20 224.40 L62.20 217.60 L91.00 217.60 L91.00 224.40" fill="none" stroke="#222" stroke-width="1.2" stroke-linejoin="miter"/>
<text x="76.30" y="219.50" font-size="16" text-anchor="middle" font-weight="bold" transform="translate(76.30 219.50) scale(1 1.08) translate(-76.30 -219.50)">***</text>
<path d="M94.50 224.40 L94.50 217.60 L124.20 217.60 L124.20 252.80" fill="none" stroke="#222" stroke-width="1.2" stroke-linejoin="miter"/>
<text x="109.50" y="219.50" font-size="16" text-anchor="middle" font-weight="bold" transform="translate(109.50 219.50) scale(1 1.08) translate(-109.50 -219.50)">***</text>
<rect x="205.70" y="316.10" width="20.00" height="5.50" fill="#1a7a78" stroke="#111" stroke-width="1"/>
<rect x="236.60" y="284.00" width="19.60" height="37.60" fill="#7a0208" stroke="#111" stroke-width="1"/>
<rect x="267.30" y="318.85" width="19.60" height="2.75" fill="#d9d9d9" stroke="#111" stroke-width="1"/>
<circle cx="224.34" cy="316.90" r="2.1" fill="#5a6cc4"/>
<circle cx="223.74" cy="319.90" r="2.1" fill="#b865c8"/>
<circle cx="209.77" cy="314.43" r="2.1" fill="#b865c8"/>
<circle cx="211.42" cy="319.26" r="2.1" fill="#5a6cc4"/>
<circle cx="208.13" cy="321.14" r="2.1" fill="#5a6cc4"/>
<circle cx="222.24" cy="315.26" r="2.1" fill="#5a6cc4"/>
<circle cx="217.30" cy="316.91" r="2.1" fill="#b865c8"/>
<circle cx="213.21" cy="316.09" r="2.1" fill="#b865c8"/>
<circle cx="217.41" cy="319.98" r="2.1" fill="#b865c8"/>
<circle cx="215.36" cy="316.84" r="2.1" fill="#b865c8"/>
<circle cx="213.82" cy="319.53" r="2.1" fill="#5a6cc4"/>
<circle cx="209.09" cy="320.85" r="2.1" fill="#5a6cc4"/>
<circle cx="208.67" cy="319.86" r="2.1" fill="#b865c8"/>
<circle cx="209.00" cy="316.20" r="2.1" fill="#b865c8"/>
<circle cx="220.76" cy="317.00" r="2.1" fill="#b865c8"/>
<circle cx="208.99" cy="312.92" r="2.1" fill="#5a6cc4"/>
<circle cx="223.41" cy="315.49" r="2.1" fill="#5a6cc4"/>
<circle cx="220.91" cy="319.64" r="2.1" fill="#5a6cc4"/>
<circle cx="207.22" cy="317.01" r="2.1" fill="#5a6cc4"/>
<circle cx="213.04" cy="320.55" r="2.1" fill="#5a6cc4"/>
<circle cx="218.36" cy="317.78" r="2.1" fill="#b865c8"/>
<circle cx="216.78" cy="320.30" r="2.1" fill="#5a6cc4"/>
<circle cx="214.15" cy="320.91" r="2.1" fill="#5a6cc4"/>
<circle cx="216.68" cy="319.31" r="2.1" fill="#5a6cc4"/>
<circle cx="218.17" cy="314.19" r="2.1" fill="#b865c8"/>
<circle cx="212.68" cy="321.14" r="2.1" fill="#b865c8"/>
<circle cx="208.17" cy="316.79" r="2.1" fill="#b865c8"/>
<circle cx="216.30" cy="317.01" r="2.1" fill="#b865c8"/>
<circle cx="216.82" cy="320.10" r="2.1" fill="#5a6cc4"/>
<circle cx="222.83" cy="317.38" r="2.1" fill="#5a6cc4"/>
<circle cx="209.91" cy="317.33" r="2.1" fill="#b865c8"/>
<circle cx="220.76" cy="310.07" r="2.1" fill="#b865c8"/>
<circle cx="223.29" cy="317.37" r="2.1" fill="#5a6cc4"/>
<circle cx="216.67" cy="318.15" r="2.1" fill="#b865c8"/>
<circle cx="211.57" cy="313.47" r="2.1" fill="#5a6cc4"/>
<circle cx="212.69" cy="317.30" r="2.1" fill="#5a6cc4"/>
<circle cx="209.09" cy="311.57" r="2.1" fill="#5a6cc4"/>
<circle cx="222.26" cy="320.11" r="2.1" fill="#b865c8"/>
<circle cx="220.31" cy="319.78" r="2.1" fill="#b865c8"/>
<circle cx="215.39" cy="321.14" r="2.1" fill="#b865c8"/>
<circle cx="213.03" cy="321.14" r="2.1" fill="#5a6cc4"/>
<circle cx="211.72" cy="317.53" r="2.1" fill="#5a6cc4"/>
<circle cx="206.68" cy="316.98" r="2.1" fill="#5a6cc4"/>
<circle cx="218.22" cy="319.13" r="2.1" fill="#5a6cc4"/>
<circle cx="215.28" cy="320.04" r="2.1" fill="#5a6cc4"/>
<circle cx="220.01" cy="321.14" r="2.1" fill="#5a6cc4"/>
<circle cx="214.86" cy="314.86" r="2.1" fill="#b865c8"/>
<circle cx="219.09" cy="313.36" r="2.1" fill="#b865c8"/>
<circle cx="207.97" cy="313.81" r="2.1" fill="#b865c8"/>
<circle cx="211.86" cy="310.59" r="2.1" fill="#b865c8"/>
<circle cx="210.95" cy="317.62" r="2.1" fill="#b865c8"/>
<circle cx="215.99" cy="321.14" r="2.1" fill="#b865c8"/>
<circle cx="220.77" cy="321.14" r="2.1" fill="#b865c8"/>
<circle cx="222.34" cy="321.14" r="2.1" fill="#5a6cc4"/>
<circle cx="218.96" cy="319.39" r="2.1" fill="#b865c8"/>
<circle cx="218.55" cy="306.68" r="2.1" fill="#b865c8"/>
<circle cx="218.36" cy="304.33" r="2.1" fill="#b865c8"/>
<circle cx="214.87" cy="312.55" r="2.1" fill="#b865c8"/>
<circle cx="215.13" cy="305.86" r="2.1" fill="#b865c8"/>
<circle cx="212.49" cy="309.99" r="2.1" fill="#b865c8"/>
<circle cx="212.22" cy="306.70" r="2.1" fill="#5a6cc4"/>
<circle cx="218.34" cy="309.01" r="2.1" fill="#b865c8"/>
<circle cx="214.20" cy="303.80" r="2.1" fill="#5a6cc4"/>
<circle cx="216.38" cy="307.93" r="2.1" fill="#b865c8"/>
<circle cx="214.82" cy="303.63" r="2.1" fill="#b865c8"/>
<circle cx="215.70" cy="237.24" r="2.1" fill="#5a6cc4"/>
<circle cx="215.70" cy="280.34" r="2.1" fill="#5a6cc4"/>
<circle cx="215.70" cy="282.17" r="2.1" fill="#5a6cc4"/>
<circle cx="215.70" cy="289.50" r="2.1" fill="#5a6cc4"/>
<circle cx="215.70" cy="300.51" r="2.1" fill="#5a6cc4"/>
<circle cx="238.93" cy="277.40" r="2.1" fill="#b865c8"/>
<circle cx="244.31" cy="261.13" r="2.1" fill="#b865c8"/>
<circle cx="253.13" cy="265.20" r="2.1" fill="#b865c8"/>
<circle cx="243.58" cy="258.19" r="2.1" fill="#b865c8"/>
<circle cx="249.88" cy="240.34" r="2.1" fill="#b865c8"/>
<circle cx="245.87" cy="253.58" r="2.1" fill="#b865c8"/>
<circle cx="251.46" cy="305.45" r="2.1" fill="#b865c8"/>
<circle cx="244.38" cy="300.32" r="2.1" fill="#b865c8"/>
<circle cx="249.10" cy="279.73" r="2.1" fill="#b865c8"/>
<circle cx="250.77" cy="285.42" r="2.1" fill="#b865c8"/>
<circle cx="249.84" cy="234.99" r="2.1" fill="#b865c8"/>
<circle cx="247.53" cy="255.62" r="2.1" fill="#b865c8"/>
<circle cx="245.38" cy="278.53" r="2.1" fill="#5a6cc4"/>
<circle cx="250.14" cy="288.82" r="2.1" fill="#b865c8"/>
<circle cx="245.91" cy="299.75" r="2.1" fill="#b865c8"/>
<circle cx="243.45" cy="266.70" r="2.1" fill="#b865c8"/>
<circle cx="244.11" cy="238.44" r="2.1" fill="#5a6cc4"/>
<circle cx="247.95" cy="305.04" r="2.1" fill="#b865c8"/>
<circle cx="243.24" cy="279.95" r="2.1" fill="#5a6cc4"/>
<circle cx="245.77" cy="289.42" r="2.1" fill="#5a6cc4"/>
<circle cx="247.09" cy="266.11" r="2.1" fill="#b865c8"/>
<circle cx="244.09" cy="297.39" r="2.1" fill="#5a6cc4"/>
<circle cx="242.01" cy="314.02" r="2.1" fill="#b865c8"/>
<circle cx="252.38" cy="260.21" r="2.1" fill="#b865c8"/>
<circle cx="250.48" cy="292.74" r="2.1" fill="#5a6cc4"/>
<circle cx="242.18" cy="262.80" r="2.1" fill="#b865c8"/>
<circle cx="245.42" cy="239.89" r="2.1" fill="#b865c8"/>
<circle cx="251.00" cy="268.54" r="2.1" fill="#5a6cc4"/>
<circle cx="251.16" cy="239.45" r="2.1" fill="#5a6cc4"/>
<circle cx="247.07" cy="249.11" r="2.1" fill="#b865c8"/>
<circle cx="247.00" cy="314.20" r="2.1" fill="#b865c8"/>
<circle cx="244.35" cy="298.17" r="2.1" fill="#5a6cc4"/>
<circle cx="248.67" cy="261.46" r="2.1" fill="#b865c8"/>
<circle cx="239.07" cy="277.66" r="2.1" fill="#5a6cc4"/>
<circle cx="249.49" cy="319.35" r="2.1" fill="#5a6cc4"/>
<circle cx="243.47" cy="247.45" r="2.1" fill="#b865c8"/>
<circle cx="243.84" cy="262.55" r="2.1" fill="#b865c8"/>
<circle cx="245.84" cy="281.50" r="2.1" fill="#b865c8"/>
<circle cx="240.65" cy="273.86" r="2.1" fill="#5a6cc4"/>
<circle cx="242.69" cy="304.73" r="2.1" fill="#b865c8"/>
<circle cx="253.29" cy="271.34" r="2.1" fill="#5a6cc4"/>
<circle cx="243.18" cy="307.26" r="2.1" fill="#5a6cc4"/>
<circle cx="241.92" cy="261.31" r="2.1" fill="#b865c8"/>
<circle cx="250.94" cy="236.86" r="2.1" fill="#b865c8"/>
<circle cx="242.75" cy="300.73" r="2.1" fill="#5a6cc4"/>
<circle cx="251.30" cy="296.42" r="2.1" fill="#b865c8"/>
<circle cx="251.66" cy="269.09" r="2.1" fill="#b865c8"/>
<circle cx="250.06" cy="242.65" r="2.1" fill="#5a6cc4"/>
<circle cx="250.88" cy="304.88" r="2.1" fill="#b865c8"/>
<circle cx="253.12" cy="285.31" r="2.1" fill="#5a6cc4"/>
<circle cx="244.88" cy="266.49" r="2.1" fill="#5a6cc4"/>
<circle cx="249.57" cy="305.28" r="2.1" fill="#b865c8"/>
<circle cx="250.10" cy="313.68" r="2.1" fill="#b865c8"/>
<circle cx="249.13" cy="253.93" r="2.1" fill="#5a6cc4"/>
<circle cx="240.11" cy="264.99" r="2.1" fill="#5a6cc4"/>
<circle cx="240.49" cy="268.69" r="2.1" fill="#5a6cc4"/>
<circle cx="249.64" cy="271.73" r="2.1" fill="#b865c8"/>
<circle cx="251.67" cy="310.71" r="2.1" fill="#b865c8"/>
<circle cx="241.36" cy="277.46" r="2.1" fill="#5a6cc4"/>
<circle cx="244.17" cy="276.88" r="2.1" fill="#5a6cc4"/>
<circle cx="240.84" cy="274.47" r="2.1" fill="#b865c8"/>
<circle cx="249.11" cy="305.41" r="2.1" fill="#b865c8"/>
<circle cx="247.13" cy="313.77" r="2.1" fill="#b865c8"/>
<circle cx="247.39" cy="274.34" r="2.1" fill="#b865c8"/>
<circle cx="248.05" cy="258.51" r="2.1" fill="#b865c8"/>
<circle cx="243.61" cy="261.00" r="2.1" fill="#5a6cc4"/>
<circle cx="242.66" cy="237.29" r="2.1" fill="#b865c8"/>
<circle cx="246.20" cy="287.07" r="2.1" fill="#b865c8"/>
<circle cx="247.02" cy="285.34" r="2.1" fill="#b865c8"/>
<circle cx="249.89" cy="290.67" r="2.1" fill="#5a6cc4"/>
<circle cx="242.28" cy="275.30" r="2.1" fill="#b865c8"/>
<circle cx="245.19" cy="260.83" r="2.1" fill="#5a6cc4"/>
<circle cx="242.17" cy="243.71" r="2.1" fill="#b865c8"/>
<circle cx="251.48" cy="311.62" r="2.1" fill="#b865c8"/>
<circle cx="241.24" cy="269.11" r="2.1" fill="#5a6cc4"/>
<circle cx="248.38" cy="277.89" r="2.1" fill="#5a6cc4"/>
<circle cx="253.69" cy="278.05" r="2.1" fill="#b865c8"/>
<circle cx="249.63" cy="280.97" r="2.1" fill="#5a6cc4"/>
<circle cx="239.67" cy="284.27" r="2.1" fill="#b865c8"/>
<circle cx="248.40" cy="281.96" r="2.1" fill="#b865c8"/>
<circle cx="244.22" cy="279.45" r="2.1" fill="#b865c8"/>
<circle cx="245.95" cy="277.78" r="2.1" fill="#b865c8"/>
<circle cx="248.07" cy="282.92" r="2.1" fill="#b865c8"/>
<circle cx="240.75" cy="281.94" r="2.1" fill="#b865c8"/>
<circle cx="244.28" cy="281.55" r="2.1" fill="#b865c8"/>
<circle cx="279.19" cy="314.78" r="2.1" fill="#b865c8"/>
<circle cx="281.95" cy="318.43" r="2.1" fill="#b865c8"/>
<circle cx="279.88" cy="319.38" r="2.1" fill="#5a6cc4"/>
<circle cx="273.03" cy="319.74" r="2.1" fill="#b865c8"/>
<circle cx="280.77" cy="320.92" r="2.1" fill="#5a6cc4"/>
<circle cx="271.57" cy="319.83" r="2.1" fill="#5a6cc4"/>
<circle cx="278.32" cy="316.00" r="2.1" fill="#5a6cc4"/>
<circle cx="274.88" cy="321.14" r="2.1" fill="#b865c8"/>
<circle cx="275.00" cy="320.30" r="2.1" fill="#b865c8"/>
<circle cx="284.80" cy="316.37" r="2.1" fill="#5a6cc4"/>
<circle cx="277.60" cy="321.14" r="2.1" fill="#5a6cc4"/>
<circle cx="283.72" cy="319.25" r="2.1" fill="#b865c8"/>
<circle cx="272.46" cy="321.14" r="2.1" fill="#b865c8"/>
<circle cx="272.20" cy="318.37" r="2.1" fill="#b865c8"/>
<circle cx="277.02" cy="321.14" r="2.1" fill="#5a6cc4"/>
<circle cx="285.99" cy="318.16" r="2.1" fill="#b865c8"/>
<circle cx="278.30" cy="319.38" r="2.1" fill="#b865c8"/>
<circle cx="273.21" cy="319.94" r="2.1" fill="#b865c8"/>
<circle cx="284.29" cy="321.14" r="2.1" fill="#5a6cc4"/>
<circle cx="282.44" cy="314.50" r="2.1" fill="#b865c8"/>
<circle cx="285.71" cy="319.09" r="2.1" fill="#b865c8"/>
<circle cx="283.96" cy="321.14" r="2.1" fill="#b865c8"/>
<circle cx="272.22" cy="321.14" r="2.1" fill="#5a6cc4"/>
<circle cx="276.93" cy="321.14" r="2.1" fill="#b865c8"/>
<circle cx="276.31" cy="318.11" r="2.1" fill="#5a6cc4"/>
<circle cx="272.80" cy="317.30" r="2.1" fill="#b865c8"/>
<circle cx="280.68" cy="319.57" r="2.1" fill="#b865c8"/>
<circle cx="268.39" cy="317.83" r="2.1" fill="#5a6cc4"/>
<circle cx="280.42" cy="319.54" r="2.1" fill="#b865c8"/>
<circle cx="273.20" cy="319.88" r="2.1" fill="#b865c8"/>
<circle cx="268.55" cy="317.75" r="2.1" fill="#b865c8"/>
<circle cx="284.62" cy="316.05" r="2.1" fill="#5a6cc4"/>
<circle cx="270.65" cy="317.78" r="2.1" fill="#b865c8"/>
<circle cx="279.03" cy="320.51" r="2.1" fill="#5a6cc4"/>
<circle cx="272.57" cy="316.70" r="2.1" fill="#5a6cc4"/>
<circle cx="270.00" cy="321.14" r="2.1" fill="#b865c8"/>
<circle cx="275.60" cy="316.41" r="2.1" fill="#b865c8"/>
<circle cx="284.56" cy="315.12" r="2.1" fill="#b865c8"/>
<circle cx="274.38" cy="318.03" r="2.1" fill="#5a6cc4"/>
<circle cx="284.56" cy="317.06" r="2.1" fill="#5a6cc4"/>
<circle cx="270.29" cy="318.42" r="2.1" fill="#b865c8"/>
<circle cx="272.75" cy="318.79" r="2.1" fill="#5a6cc4"/>
<circle cx="271.35" cy="321.14" r="2.1" fill="#5a6cc4"/>
<circle cx="268.74" cy="321.14" r="2.1" fill="#b865c8"/>
<circle cx="269.56" cy="317.75" r="2.1" fill="#b865c8"/>
<circle cx="279.76" cy="317.98" r="2.1" fill="#b865c8"/>
<circle cx="283.69" cy="321.14" r="2.1" fill="#b865c8"/>
<circle cx="278.96" cy="321.14" r="2.1" fill="#b865c8"/>
<circle cx="279.60" cy="317.05" r="2.1" fill="#5a6cc4"/>
<circle cx="271.34" cy="316.60" r="2.1" fill="#b865c8"/>
<circle cx="277.21" cy="315.10" r="2.1" fill="#5a6cc4"/>
<circle cx="276.31" cy="316.03" r="2.1" fill="#5a6cc4"/>
<circle cx="269.58" cy="320.99" r="2.1" fill="#b865c8"/>
<circle cx="277.65" cy="321.14" r="2.1" fill="#b865c8"/>
<circle cx="269.32" cy="317.82" r="2.1" fill="#5a6cc4"/>
<circle cx="270.73" cy="313.89" r="2.1" fill="#b865c8"/>
<circle cx="278.09" cy="307.25" r="2.1" fill="#b865c8"/>
<circle cx="278.28" cy="303.07" r="2.1" fill="#b865c8"/>
<circle cx="277.21" cy="302.50" r="2.1" fill="#b865c8"/>
<circle cx="274.57" cy="304.62" r="2.1" fill="#b865c8"/>
<circle cx="276.49" cy="307.63" r="2.1" fill="#5a6cc4"/>
<circle cx="273.76" cy="311.41" r="2.1" fill="#b865c8"/>
<circle cx="274.40" cy="304.73" r="2.1" fill="#b865c8"/>
<line x1="200.50" y1="229.40" x2="200.50" y2="322.10" stroke="#222" stroke-width="1.3"/>
<line x1="199.90" y1="321.60" x2="291.80" y2="321.60" stroke="#222" stroke-width="1.3"/>
<line x1="198.00" y1="321.60" x2="200.50" y2="321.60" stroke="#222" stroke-width="1.2"/>
<text x="196.00" y="325.90" font-size="12.3" text-anchor="end" transform="translate(196.00 325.90) scale(1 1.08) translate(-196.00 -325.90)">0</text>
<line x1="198.00" y1="303.26" x2="200.50" y2="303.26" stroke="#222" stroke-width="1.2"/>
<text x="196.00" y="307.56" font-size="12.3" text-anchor="end" transform="translate(196.00 307.56) scale(1 1.08) translate(-196.00 -307.56)">20</text>
<line x1="198.00" y1="284.92" x2="200.50" y2="284.92" stroke="#222" stroke-width="1.2"/>
<text x="196.00" y="289.22" font-size="12.3" text-anchor="end" transform="translate(196.00 289.22) scale(1 1.08) translate(-196.00 -289.22)">40</text>
<line x1="198.00" y1="266.58" x2="200.50" y2="266.58" stroke="#222" stroke-width="1.2"/>
<text x="196.00" y="270.88" font-size="12.3" text-anchor="end" transform="translate(196.00 270.88) scale(1 1.08) translate(-196.00 -270.88)">60</text>
<line x1="198.00" y1="248.24" x2="200.50" y2="248.24" stroke="#222" stroke-width="1.2"/>
<text x="196.00" y="252.54" font-size="12.3" text-anchor="end" transform="translate(196.00 252.54) scale(1 1.08) translate(-196.00 -252.54)">80</text>
<line x1="198.00" y1="229.90" x2="200.50" y2="229.90" stroke="#222" stroke-width="1.2"/>
<text x="196.00" y="234.20" font-size="12.3" text-anchor="end" transform="translate(196.00 234.20) scale(1 1.08) translate(-196.00 -234.20)">100</text>
<line x1="215.70" y1="321.60" x2="215.70" y2="324.10" stroke="#222" stroke-width="1.2"/>
<line x1="246.40" y1="321.60" x2="246.40" y2="324.10" stroke="#222" stroke-width="1.2"/>
<line x1="277.10" y1="321.60" x2="277.10" y2="324.10" stroke="#222" stroke-width="1.2"/>
<text x="218.20" y="334.10" font-size="12" text-anchor="end" transform="rotate(-45 218.20 334.10) translate(218.20 334.10) scale(1 1.08) translate(-218.20 -334.10)">SP</text>
<text x="248.90" y="334.10" font-size="12" text-anchor="end" transform="rotate(-45 248.90 334.10) translate(248.90 334.10) scale(1 1.08) translate(-248.90 -334.10)">DP</text>
<text x="279.60" y="334.10" font-size="12" text-anchor="end" transform="rotate(-45 279.60 334.10) translate(279.60 334.10) scale(1 1.08) translate(-279.60 -334.10)">DN</text>
<text x="243.40" y="182.00" font-size="13.5" text-anchor="middle" transform="translate(243.40 182.00) scale(1 1.08) translate(-243.40 -182.00)">TIM-3</text>
<text x="169.00" y="275.80" font-size="12.2" text-anchor="middle" transform="rotate(-90 169.00 275.80) translate(169.00 275.80) scale(1 1.08) translate(-169.00 -275.80)">TIM-3 (%)</text>
<path d="M215.50 206.20 L215.50 199.60 L277.50 199.60 L277.50 206.20" fill="none" stroke="#222" stroke-width="1.2" stroke-linejoin="miter"/>
<text x="246.40" y="201.40" font-size="16" text-anchor="middle" font-weight="bold" transform="translate(246.40 201.40) scale(1 1.08) translate(-246.40 -201.40)">***</text>
<path d="M215.50 228.30 L215.50 220.10 L244.90 220.10 L244.90 226.40" fill="none" stroke="#222" stroke-width="1.2" stroke-linejoin="miter"/>
<text x="230.20" y="221.90" font-size="16" text-anchor="middle" font-weight="bold" transform="translate(230.20 221.90) scale(1 1.08) translate(-230.20 -221.90)">***</text>
<path d="M248.20 226.40 L248.20 220.10 L277.50 220.10 L277.50 295.80" fill="none" stroke="#222" stroke-width="1.2" stroke-linejoin="miter"/>
<text x="262.80" y="221.90" font-size="16" text-anchor="middle" font-weight="bold" transform="translate(262.80 221.90) scale(1 1.08) translate(-262.80 -221.90)">***</text>
<rect x="350.60" y="317.02" width="20.20" height="4.58" fill="#1a7a78" stroke="#111" stroke-width="1"/>
<rect x="381.30" y="286.75" width="20.20" height="34.85" fill="#7a0208" stroke="#111" stroke-width="1"/>
<rect x="412.20" y="319.77" width="19.60" height="1.83" fill="#d9d9d9" stroke="#111" stroke-width="1"/>
<circle cx="362.32" cy="314.62" r="2.1" fill="#5a6cc4"/>
<circle cx="358.96" cy="315.91" r="2.1" fill="#5a6cc4"/>
<circle cx="360.66" cy="321.14" r="2.1" fill="#5a6cc4"/>
<circle cx="359.66" cy="314.03" r="2.1" fill="#b865c8"/>
<circle cx="367.82" cy="320.62" r="2.1" fill="#b865c8"/>
<circle cx="354.50" cy="320.28" r="2.1" fill="#5a6cc4"/>
<circle cx="365.35" cy="315.70" r="2.1" fill="#5a6cc4"/>
<circle cx="367.54" cy="318.84" r="2.1" fill="#5a6cc4"/>
<circle cx="363.91" cy="316.15" r="2.1" fill="#b865c8"/>
<circle cx="368.76" cy="320.43" r="2.1" fill="#5a6cc4"/>
<circle cx="357.50" cy="321.14" r="2.1" fill="#5a6cc4"/>
<circle cx="356.97" cy="321.14" r="2.1" fill="#5a6cc4"/>
<circle cx="362.17" cy="316.54" r="2.1" fill="#5a6cc4"/>
<circle cx="355.34" cy="321.14" r="2.1" fill="#b865c8"/>
<circle cx="352.51" cy="317.71" r="2.1" fill="#b865c8"/>
<circle cx="356.14" cy="318.54" r="2.1" fill="#b865c8"/>
<circle cx="364.63" cy="321.14" r="2.1" fill="#b865c8"/>
<circle cx="365.55" cy="315.41" r="2.1" fill="#5a6cc4"/>
<circle cx="365.64" cy="317.87" r="2.1" fill="#b865c8"/>
<circle cx="365.53" cy="321.14" r="2.1" fill="#b865c8"/>
<circle cx="352.11" cy="317.58" r="2.1" fill="#5a6cc4"/>
<circle cx="356.19" cy="315.25" r="2.1" fill="#b865c8"/>
<circle cx="354.29" cy="319.25" r="2.1" fill="#b865c8"/>
<circle cx="365.46" cy="317.31" r="2.1" fill="#b865c8"/>
<circle cx="364.50" cy="314.02" r="2.1" fill="#b865c8"/>
<circle cx="364.81" cy="319.57" r="2.1" fill="#5a6cc4"/>
<circle cx="363.64" cy="319.76" r="2.1" fill="#b865c8"/>
<circle cx="366.78" cy="318.28" r="2.1" fill="#5a6cc4"/>
<circle cx="354.07" cy="319.26" r="2.1" fill="#5a6cc4"/>
<circle cx="359.82" cy="315.21" r="2.1" fill="#5a6cc4"/>
<circle cx="365.74" cy="316.32" r="2.1" fill="#b865c8"/>
<circle cx="358.44" cy="315.83" r="2.1" fill="#5a6cc4"/>
<circle cx="353.83" cy="321.13" r="2.1" fill="#5a6cc4"/>
<circle cx="367.31" cy="314.36" r="2.1" fill="#5a6cc4"/>
<circle cx="361.38" cy="317.61" r="2.1" fill="#b865c8"/>
<circle cx="365.47" cy="318.15" r="2.1" fill="#5a6cc4"/>
<circle cx="358.93" cy="314.16" r="2.1" fill="#5a6cc4"/>
<circle cx="354.53" cy="313.57" r="2.1" fill="#5a6cc4"/>
<circle cx="361.25" cy="315.67" r="2.1" fill="#5a6cc4"/>
<circle cx="358.60" cy="317.79" r="2.1" fill="#b865c8"/>
<circle cx="352.82" cy="321.14" r="2.1" fill="#b865c8"/>
<circle cx="351.77" cy="319.34" r="2.1" fill="#5a6cc4"/>
<circle cx="364.74" cy="316.93" r="2.1" fill="#5a6cc4"/>
<circle cx="355.23" cy="313.13" r="2.1" fill="#5a6cc4"/>
<circle cx="353.82" cy="318.00" r="2.1" fill="#b865c8"/>
<circle cx="365.33" cy="318.23" r="2.1" fill="#b865c8"/>
<circle cx="361.29" cy="318.61" r="2.1" fill="#b865c8"/>
<circle cx="359.25" cy="320.70" r="2.1" fill="#b865c8"/>
<circle cx="368.37" cy="321.14" r="2.1" fill="#5a6cc4"/>
<circle cx="368.50" cy="317.75" r="2.1" fill="#5a6cc4"/>
<circle cx="359.68" cy="321.01" r="2.1" fill="#b865c8"/>
<circle cx="359.64" cy="321.14" r="2.1" fill="#b865c8"/>
<circle cx="363.94" cy="317.13" r="2.1" fill="#5a6cc4"/>
<circle cx="369.51" cy="316.20" r="2.1" fill="#5a6cc4"/>
<circle cx="364.30" cy="317.42" r="2.1" fill="#5a6cc4"/>
<circle cx="365.51" cy="308.48" r="2.1" fill="#5a6cc4"/>
<circle cx="357.58" cy="307.96" r="2.1" fill="#5a6cc4"/>
<circle cx="363.62" cy="311.60" r="2.1" fill="#5a6cc4"/>
<circle cx="361.91" cy="309.22" r="2.1" fill="#b865c8"/>
<circle cx="362.92" cy="308.46" r="2.1" fill="#b865c8"/>
<circle cx="358.47" cy="307.94" r="2.1" fill="#5a6cc4"/>
<circle cx="360.81" cy="308.61" r="2.1" fill="#5a6cc4"/>
<circle cx="363.80" cy="309.99" r="2.1" fill="#b865c8"/>
<circle cx="361.70" cy="308.40" r="2.1" fill="#5a6cc4"/>
<circle cx="359.26" cy="311.88" r="2.1" fill="#b865c8"/>
<circle cx="360.70" cy="237.24" r="2.1" fill="#5a6cc4"/>
<circle cx="360.70" cy="240.90" r="2.1" fill="#b865c8"/>
<circle cx="360.70" cy="292.26" r="2.1" fill="#5a6cc4"/>
<circle cx="360.70" cy="293.17" r="2.1" fill="#5a6cc4"/>
<circle cx="360.70" cy="301.43" r="2.1" fill="#5a6cc4"/>
<circle cx="385.03" cy="274.87" r="2.1" fill="#b865c8"/>
<circle cx="390.15" cy="267.21" r="2.1" fill="#b865c8"/>
<circle cx="385.95" cy="293.15" r="2.1" fill="#b865c8"/>
<circle cx="389.69" cy="237.89" r="2.1" fill="#5a6cc4"/>
<circle cx="393.76" cy="255.53" r="2.1" fill="#b865c8"/>
<circle cx="392.86" cy="252.77" r="2.1" fill="#b865c8"/>
<circle cx="399.09" cy="279.44" r="2.1" fill="#b865c8"/>
<circle cx="386.07" cy="246.21" r="2.1" fill="#b865c8"/>
<circle cx="393.61" cy="255.16" r="2.1" fill="#b865c8"/>
<circle cx="391.97" cy="267.60" r="2.1" fill="#b865c8"/>
<circle cx="389.67" cy="310.43" r="2.1" fill="#5a6cc4"/>
<circle cx="396.97" cy="280.14" r="2.1" fill="#5a6cc4"/>
<circle cx="394.31" cy="234.34" r="2.1" fill="#b865c8"/>
<circle cx="385.56" cy="270.64" r="2.1" fill="#5a6cc4"/>
<circle cx="387.72" cy="286.45" r="2.1" fill="#b865c8"/>
<circle cx="395.93" cy="264.45" r="2.1" fill="#b865c8"/>
<circle cx="392.34" cy="307.25" r="2.1" fill="#b865c8"/>
<circle cx="391.23" cy="290.83" r="2.1" fill="#b865c8"/>
<circle cx="394.57" cy="251.16" r="2.1" fill="#5a6cc4"/>
<circle cx="397.89" cy="278.28" r="2.1" fill="#5a6cc4"/>
<circle cx="399.50" cy="285.68" r="2.1" fill="#b865c8"/>
<circle cx="385.82" cy="234.07" r="2.1" fill="#5a6cc4"/>
<circle cx="393.66" cy="273.85" r="2.1" fill="#b865c8"/>
<circle cx="384.54" cy="280.02" r="2.1" fill="#5a6cc4"/>
<circle cx="390.08" cy="312.56" r="2.1" fill="#b865c8"/>
<circle cx="387.08" cy="267.30" r="2.1" fill="#5a6cc4"/>
<circle cx="387.93" cy="276.29" r="2.1" fill="#5a6cc4"/>
<circle cx="386.33" cy="294.93" r="2.1" fill="#5a6cc4"/>
<circle cx="392.90" cy="237.71" r="2.1" fill="#b865c8"/>
<circle cx="393.73" cy="264.94" r="2.1" fill="#b865c8"/>
<circle cx="392.57" cy="272.26" r="2.1" fill="#b865c8"/>
<circle cx="393.79" cy="243.93" r="2.1" fill="#5a6cc4"/>
<circle cx="399.78" cy="284.89" r="2.1" fill="#5a6cc4"/>
<circle cx="396.17" cy="233.73" r="2.1" fill="#b865c8"/>
<circle cx="387.95" cy="259.37" r="2.1" fill="#5a6cc4"/>
<circle cx="392.49" cy="286.09" r="2.1" fill="#5a6cc4"/>
<circle cx="384.43" cy="279.65" r="2.1" fill="#5a6cc4"/>
<circle cx="397.05" cy="234.53" r="2.1" fill="#b865c8"/>
<circle cx="389.25" cy="266.22" r="2.1" fill="#b865c8"/>
<circle cx="389.67" cy="318.59" r="2.1" fill="#5a6cc4"/>
<circle cx="390.77" cy="244.74" r="2.1" fill="#5a6cc4"/>
<circle cx="399.46" cy="283.29" r="2.1" fill="#5a6cc4"/>
<circle cx="395.14" cy="293.37" r="2.1" fill="#5a6cc4"/>
<circle cx="398.26" cy="277.11" r="2.1" fill="#b865c8"/>
<circle cx="395.96" cy="301.76" r="2.1" fill="#b865c8"/>
<circle cx="386.45" cy="261.09" r="2.1" fill="#b865c8"/>
<circle cx="397.80" cy="265.29" r="2.1" fill="#b865c8"/>
<circle cx="395.17" cy="279.15" r="2.1" fill="#b865c8"/>
<circle cx="390.31" cy="277.42" r="2.1" fill="#5a6cc4"/>
<circle cx="387.52" cy="290.39" r="2.1" fill="#b865c8"/>
<circle cx="388.80" cy="258.78" r="2.1" fill="#b865c8"/>
<circle cx="388.71" cy="246.38" r="2.1" fill="#5a6cc4"/>
<circle cx="393.98" cy="315.29" r="2.1" fill="#b865c8"/>
<circle cx="392.09" cy="264.24" r="2.1" fill="#b865c8"/>
<circle cx="397.26" cy="248.82" r="2.1" fill="#b865c8"/>
<circle cx="389.44" cy="232.49" r="2.1" fill="#b865c8"/>
<circle cx="385.89" cy="251.37" r="2.1" fill="#b865c8"/>
<circle cx="392.83" cy="235.89" r="2.1" fill="#5a6cc4"/>
<circle cx="388.50" cy="263.60" r="2.1" fill="#b865c8"/>
<circle cx="396.32" cy="245.13" r="2.1" fill="#5a6cc4"/>
<circle cx="395.06" cy="254.75" r="2.1" fill="#b865c8"/>
<circle cx="392.63" cy="297.66" r="2.1" fill="#b865c8"/>
<circle cx="387.11" cy="256.75" r="2.1" fill="#5a6cc4"/>
<circle cx="385.59" cy="265.20" r="2.1" fill="#b865c8"/>
<circle cx="393.71" cy="272.91" r="2.1" fill="#5a6cc4"/>
<circle cx="389.26" cy="298.73" r="2.1" fill="#b865c8"/>
<circle cx="395.76" cy="236.76" r="2.1" fill="#b865c8"/>
<circle cx="391.45" cy="248.54" r="2.1" fill="#5a6cc4"/>
<circle cx="391.07" cy="250.57" r="2.1" fill="#5a6cc4"/>
<circle cx="394.77" cy="298.40" r="2.1" fill="#5a6cc4"/>
<circle cx="394.84" cy="304.84" r="2.1" fill="#5a6cc4"/>
<circle cx="390.23" cy="303.55" r="2.1" fill="#b865c8"/>
<circle cx="392.73" cy="286.30" r="2.1" fill="#5a6cc4"/>
<circle cx="383.76" cy="289.83" r="2.1" fill="#5a6cc4"/>
<circle cx="393.58" cy="254.13" r="2.1" fill="#b865c8"/>
<circle cx="398.65" cy="288.60" r="2.1" fill="#b865c8"/>
<circle cx="390.42" cy="280.41" r="2.1" fill="#5a6cc4"/>
<circle cx="386.09" cy="293.35" r="2.1" fill="#5a6cc4"/>
<circle cx="397.72" cy="288.64" r="2.1" fill="#b865c8"/>
<circle cx="390.70" cy="282.04" r="2.1" fill="#5a6cc4"/>
<circle cx="386.62" cy="287.19" r="2.1" fill="#b865c8"/>
<circle cx="393.00" cy="284.85" r="2.1" fill="#5a6cc4"/>
<circle cx="395.66" cy="282.42" r="2.1" fill="#b865c8"/>
<circle cx="386.58" cy="285.36" r="2.1" fill="#5a6cc4"/>
<circle cx="394.17" cy="291.74" r="2.1" fill="#b865c8"/>
<circle cx="424.41" cy="318.38" r="2.1" fill="#5a6cc4"/>
<circle cx="419.19" cy="318.99" r="2.1" fill="#5a6cc4"/>
<circle cx="422.60" cy="320.22" r="2.1" fill="#b865c8"/>
<circle cx="429.74" cy="318.71" r="2.1" fill="#b865c8"/>
<circle cx="431.32" cy="318.79" r="2.1" fill="#b865c8"/>
<circle cx="424.46" cy="319.68" r="2.1" fill="#5a6cc4"/>
<circle cx="421.71" cy="321.14" r="2.1" fill="#5a6cc4"/>
<circle cx="431.31" cy="319.77" r="2.1" fill="#b865c8"/>
<circle cx="426.74" cy="318.50" r="2.1" fill="#5a6cc4"/>
<circle cx="415.19" cy="320.39" r="2.1" fill="#5a6cc4"/>
<circle cx="417.46" cy="320.38" r="2.1" fill="#5a6cc4"/>
<circle cx="417.84" cy="317.54" r="2.1" fill="#b865c8"/>
<circle cx="420.49" cy="319.30" r="2.1" fill="#5a6cc4"/>
<circle cx="413.69" cy="319.17" r="2.1" fill="#5a6cc4"/>
<circle cx="414.29" cy="320.21" r="2.1" fill="#b865c8"/>
<circle cx="412.68" cy="318.92" r="2.1" fill="#b865c8"/>
<circle cx="413.97" cy="320.02" r="2.1" fill="#b865c8"/>
<circle cx="420.19" cy="319.81" r="2.1" fill="#b865c8"/>
<circle cx="417.56" cy="320.31" r="2.1" fill="#b865c8"/>
<circle cx="426.44" cy="317.02" r="2.1" fill="#5a6cc4"/>
<circle cx="419.14" cy="318.47" r="2.1" fill="#b865c8"/>
<circle cx="430.87" cy="319.87" r="2.1" fill="#b865c8"/>
<circle cx="420.59" cy="316.77" r="2.1" fill="#b865c8"/>
<circle cx="424.98" cy="316.15" r="2.1" fill="#5a6cc4"/>
<circle cx="418.36" cy="314.31" r="2.1" fill="#5a6cc4"/>
<circle cx="429.16" cy="318.64" r="2.1" fill="#5a6cc4"/>
<circle cx="422.34" cy="320.92" r="2.1" fill="#b865c8"/>
<circle cx="415.35" cy="320.11" r="2.1" fill="#b865c8"/>
<circle cx="429.47" cy="317.25" r="2.1" fill="#b865c8"/>
<circle cx="420.01" cy="321.14" r="2.1" fill="#5a6cc4"/>
<circle cx="430.55" cy="321.14" r="2.1" fill="#b865c8"/>
<circle cx="424.11" cy="315.88" r="2.1" fill="#b865c8"/>
<circle cx="419.86" cy="318.47" r="2.1" fill="#5a6cc4"/>
<circle cx="415.88" cy="316.28" r="2.1" fill="#b865c8"/>
<circle cx="419.29" cy="321.14" r="2.1" fill="#b865c8"/>
<circle cx="426.52" cy="320.01" r="2.1" fill="#b865c8"/>
<circle cx="425.16" cy="320.23" r="2.1" fill="#5a6cc4"/>
<circle cx="427.21" cy="317.19" r="2.1" fill="#5a6cc4"/>
<circle cx="422.41" cy="318.98" r="2.1" fill="#b865c8"/>
<circle cx="422.27" cy="321.14" r="2.1" fill="#5a6cc4"/>
<circle cx="422.00" cy="320.61" r="2.1" fill="#b865c8"/>
<circle cx="419.64" cy="321.14" r="2.1" fill="#b865c8"/>
<circle cx="419.12" cy="321.14" r="2.1" fill="#5a6cc4"/>
<circle cx="422.11" cy="321.14" r="2.1" fill="#5a6cc4"/>
<circle cx="418.80" cy="321.14" r="2.1" fill="#5a6cc4"/>
<circle cx="430.32" cy="319.01" r="2.1" fill="#5a6cc4"/>
<circle cx="416.26" cy="319.72" r="2.1" fill="#5a6cc4"/>
<circle cx="431.39" cy="318.89" r="2.1" fill="#b865c8"/>
<circle cx="416.19" cy="319.27" r="2.1" fill="#b865c8"/>
<circle cx="414.38" cy="320.76" r="2.1" fill="#5a6cc4"/>
<circle cx="419.16" cy="317.14" r="2.1" fill="#b865c8"/>
<circle cx="429.73" cy="321.14" r="2.1" fill="#b865c8"/>
<circle cx="422.64" cy="320.07" r="2.1" fill="#b865c8"/>
<circle cx="421.70" cy="320.48" r="2.1" fill="#b865c8"/>
<circle cx="427.14" cy="320.49" r="2.1" fill="#5a6cc4"/>
<circle cx="427.56" cy="316.21" r="2.1" fill="#b865c8"/>
<circle cx="421.86" cy="311.99" r="2.1" fill="#5a6cc4"/>
<circle cx="419.83" cy="310.71" r="2.1" fill="#b865c8"/>
<circle cx="417.50" cy="313.32" r="2.1" fill="#b865c8"/>
<circle cx="427.89" cy="314.93" r="2.1" fill="#b865c8"/>
<circle cx="423.80" cy="316.04" r="2.1" fill="#b865c8"/>
<line x1="345.30" y1="229.40" x2="345.30" y2="322.10" stroke="#222" stroke-width="1.3"/>
<line x1="344.70" y1="321.60" x2="436.70" y2="321.60" stroke="#222" stroke-width="1.3"/>
<line x1="342.80" y1="321.60" x2="345.30" y2="321.60" stroke="#222" stroke-width="1.2"/>
<text x="340.80" y="325.90" font-size="12.3" text-anchor="end" transform="translate(340.80 325.90) scale(1 1.08) translate(-340.80 -325.90)">0</text>
<line x1="342.80" y1="303.26" x2="345.30" y2="303.26" stroke="#222" stroke-width="1.2"/>
<text x="340.80" y="307.56" font-size="12.3" text-anchor="end" transform="translate(340.80 307.56) scale(1 1.08) translate(-340.80 -307.56)">20</text>
<line x1="342.80" y1="284.92" x2="345.30" y2="284.92" stroke="#222" stroke-width="1.2"/>
<text x="340.80" y="289.22" font-size="12.3" text-anchor="end" transform="translate(340.80 289.22) scale(1 1.08) translate(-340.80 -289.22)">40</text>
<line x1="342.80" y1="266.58" x2="345.30" y2="266.58" stroke="#222" stroke-width="1.2"/>
<text x="340.80" y="270.88" font-size="12.3" text-anchor="end" transform="translate(340.80 270.88) scale(1 1.08) translate(-340.80 -270.88)">60</text>
<line x1="342.80" y1="248.24" x2="345.30" y2="248.24" stroke="#222" stroke-width="1.2"/>
<text x="340.80" y="252.54" font-size="12.3" text-anchor="end" transform="translate(340.80 252.54) scale(1 1.08) translate(-340.80 -252.54)">80</text>
<line x1="342.80" y1="229.90" x2="345.30" y2="229.90" stroke="#222" stroke-width="1.2"/>
<text x="340.80" y="234.20" font-size="12.3" text-anchor="end" transform="translate(340.80 234.20) scale(1 1.08) translate(-340.80 -234.20)">100</text>
<line x1="360.70" y1="321.60" x2="360.70" y2="324.10" stroke="#222" stroke-width="1.2"/>
<line x1="391.40" y1="321.60" x2="391.40" y2="324.10" stroke="#222" stroke-width="1.2"/>
<line x1="422.00" y1="321.60" x2="422.00" y2="324.10" stroke="#222" stroke-width="1.2"/>
<text x="363.20" y="334.10" font-size="12" text-anchor="end" transform="rotate(-45 363.20 334.10) translate(363.20 334.10) scale(1 1.08) translate(-363.20 -334.10)">SP</text>
<text x="393.90" y="334.10" font-size="12" text-anchor="end" transform="rotate(-45 393.90 334.10) translate(393.90 334.10) scale(1 1.08) translate(-393.90 -334.10)">DP</text>
<text x="424.50" y="334.10" font-size="12" text-anchor="end" transform="rotate(-45 424.50 334.10) translate(424.50 334.10) scale(1 1.08) translate(-424.50 -334.10)">DN</text>
<text x="384.20" y="182.00" font-size="13.5" text-anchor="middle" transform="translate(384.20 182.00) scale(1 1.08) translate(-384.20 -182.00)">PD-1-TIM-3</text>
<text x="314.80" y="270.90" font-size="12.2" text-anchor="middle" transform="rotate(-90 314.80 270.90) translate(314.80 270.90) scale(1 1.08) translate(-314.80 -270.90)">PD-1 TIM-3 (%)</text>
<path d="M360.40 205.90 L360.40 199.60 L422.60 199.60 L422.60 205.90" fill="none" stroke="#222" stroke-width="1.2" stroke-linejoin="miter"/>
<text x="391.30" y="201.40" font-size="16" text-anchor="middle" font-weight="bold" transform="translate(391.30 201.40) scale(1 1.08) translate(-391.30 -201.40)">***</text>
<path d="M360.40 228.30 L360.40 220.10 L389.70 220.10 L389.70 226.40" fill="none" stroke="#222" stroke-width="1.2" stroke-linejoin="miter"/>
<text x="375.00" y="221.90" font-size="16" text-anchor="middle" font-weight="bold" transform="translate(375.00 221.90) scale(1 1.08) translate(-375.00 -221.90)">***</text>
<path d="M393.10 226.40 L393.10 220.10 L422.60 220.10 L422.60 304.60" fill="none" stroke="#222" stroke-width="1.2" stroke-linejoin="miter"/>
<text x="407.30" y="221.90" font-size="16" text-anchor="middle" font-weight="bold" transform="translate(407.30 221.90) scale(1 1.08) translate(-407.30 -221.90)">***</text>
<rect x="499.70" y="318.54" width="17.90" height="3.06" fill="#1a7a78" stroke="#111" stroke-width="1"/>
<rect x="527.40" y="291.95" width="18.20" height="29.65" fill="#7a0208" stroke="#111" stroke-width="1"/>
<rect x="555.40" y="318.54" width="17.60" height="3.06" fill="#d9d9d9" stroke="#111" stroke-width="1"/>
<circle cx="505.28" cy="308.46" r="2.1" fill="#b865c8"/>
<circle cx="513.46" cy="310.90" r="2.1" fill="#5a6cc4"/>
<circle cx="501.18" cy="314.88" r="2.1" fill="#5a6cc4"/>
<circle cx="504.76" cy="315.49" r="2.1" fill="#b865c8"/>
<circle cx="506.63" cy="315.18" r="2.1" fill="#5a6cc4"/>
<circle cx="515.72" cy="317.02" r="2.1" fill="#b865c8"/>
<circle cx="505.87" cy="317.93" r="2.1" fill="#5a6cc4"/>
<circle cx="510.29" cy="318.54" r="2.1" fill="#b865c8"/>
<circle cx="501.41" cy="319.15" r="2.1" fill="#5a6cc4"/>
<circle cx="502.69" cy="320.07" r="2.1" fill="#b865c8"/>
<circle cx="512.19" cy="320.68" r="2.1" fill="#b865c8"/>
<circle cx="509.55" cy="316.10" r="2.1" fill="#b865c8"/>
<circle cx="534.92" cy="245.18" r="2.1" fill="#b865c8"/>
<circle cx="534.84" cy="278.81" r="2.1" fill="#5a6cc4"/>
<circle cx="543.66" cy="280.34" r="2.1" fill="#5a6cc4"/>
<circle cx="543.67" cy="278.81" r="2.1" fill="#5a6cc4"/>
<circle cx="533.03" cy="278.81" r="2.1" fill="#b865c8"/>
<circle cx="542.77" cy="291.64" r="2.1" fill="#b865c8"/>
<circle cx="544.75" cy="304.18" r="2.1" fill="#5a6cc4"/>
<circle cx="542.55" cy="307.85" r="2.1" fill="#b865c8"/>
<circle cx="527.95" cy="306.93" r="2.1" fill="#5a6cc4"/>
<circle cx="545.14" cy="312.43" r="2.1" fill="#5a6cc4"/>
<circle cx="532.17" cy="311.51" r="2.1" fill="#b865c8"/>
<circle cx="541.88" cy="310.90" r="2.1" fill="#b865c8"/>
<circle cx="564.09" cy="307.54" r="2.1" fill="#5a6cc4"/>
<circle cx="563.88" cy="313.04" r="2.1" fill="#b865c8"/>
<circle cx="569.04" cy="316.71" r="2.1" fill="#b865c8"/>
<circle cx="569.75" cy="317.32" r="2.1" fill="#b865c8"/>
<circle cx="561.30" cy="317.93" r="2.1" fill="#5a6cc4"/>
<circle cx="565.01" cy="318.54" r="2.1" fill="#5a6cc4"/>
<circle cx="566.38" cy="319.15" r="2.1" fill="#b865c8"/>
<circle cx="567.97" cy="319.46" r="2.1" fill="#5a6cc4"/>
<circle cx="572.30" cy="320.07" r="2.1" fill="#b865c8"/>
<circle cx="568.59" cy="320.68" r="2.1" fill="#5a6cc4"/>
<circle cx="570.93" cy="318.85" r="2.1" fill="#5a6cc4"/>
<circle cx="567.14" cy="319.77" r="2.1" fill="#b865c8"/>
<line x1="490.50" y1="229.40" x2="490.50" y2="322.10" stroke="#222" stroke-width="1.3"/>
<line x1="489.90" y1="321.60" x2="582.80" y2="321.60" stroke="#222" stroke-width="1.3"/>
<line x1="488.00" y1="321.60" x2="490.50" y2="321.60" stroke="#222" stroke-width="1.2"/>
<text x="486.00" y="325.90" font-size="12.3" text-anchor="end" transform="translate(486.00 325.90) scale(1 1.08) translate(-486.00 -325.90)">0</text>
<line x1="488.00" y1="291.03" x2="490.50" y2="291.03" stroke="#222" stroke-width="1.2"/>
<text x="486.00" y="295.33" font-size="12.3" text-anchor="end" transform="translate(486.00 295.33) scale(1 1.08) translate(-486.00 -295.33)">10</text>
<line x1="488.00" y1="260.47" x2="490.50" y2="260.47" stroke="#222" stroke-width="1.2"/>
<text x="486.00" y="264.77" font-size="12.3" text-anchor="end" transform="translate(486.00 264.77) scale(1 1.08) translate(-486.00 -264.77)">20</text>
<line x1="488.00" y1="229.90" x2="490.50" y2="229.90" stroke="#222" stroke-width="1.2"/>
<text x="486.00" y="234.20" font-size="12.3" text-anchor="end" transform="translate(486.00 234.20) scale(1 1.08) translate(-486.00 -234.20)">30</text>
<line x1="508.65" y1="321.60" x2="508.65" y2="324.10" stroke="#222" stroke-width="1.2"/>
<line x1="536.50" y1="321.60" x2="536.50" y2="324.10" stroke="#222" stroke-width="1.2"/>
<line x1="564.20" y1="321.60" x2="564.20" y2="324.10" stroke="#222" stroke-width="1.2"/>
<text x="511.15" y="334.10" font-size="12" text-anchor="end" transform="rotate(-45 511.15 334.10) translate(511.15 334.10) scale(1 1.08) translate(-511.15 -334.10)">SP</text>
<text x="539.00" y="334.10" font-size="12" text-anchor="end" transform="rotate(-45 539.00 334.10) translate(539.00 334.10) scale(1 1.08) translate(-539.00 -334.10)">DP</text>
<text x="566.70" y="334.10" font-size="12" text-anchor="end" transform="rotate(-45 566.70 334.10) translate(566.70 334.10) scale(1 1.08) translate(-566.70 -334.10)">DN</text>
<text x="535.80" y="180.40" font-size="13.5" text-anchor="middle" transform="translate(535.80 180.40) scale(1 1.08) translate(-535.80 -180.40)">Ki67</text>
<text x="468.00" y="277.00" font-size="12.2" text-anchor="middle" transform="rotate(-90 468.00 277.00) translate(468.00 277.00) scale(1 1.08) translate(-468.00 -277.00)">Ki67 (%)</text>
<path d="M509.10 226.30 L509.10 212.20 L564.30 212.20 L564.30 218.10" fill="none" stroke="#222" stroke-width="1.2" stroke-linejoin="miter"/>
<text x="536.70" y="208.00" font-size="9" text-anchor="middle" transform="translate(536.70 208.00) scale(1 1.08) translate(-536.70 -208.00)">ns</text>
<path d="M509.40 316.00 L509.40 232.50 L534.60 232.50 L534.60 238.80" fill="none" stroke="#222" stroke-width="1.2" stroke-linejoin="miter"/>
<text x="521.90" y="234.00" font-size="16" text-anchor="middle" font-weight="bold" transform="translate(521.90 234.00) scale(1 1.08) translate(-521.90 -234.00)">**</text>
<path d="M538.30 238.80 L538.30 232.50 L564.30 232.50 L564.30 316.00" fill="none" stroke="#222" stroke-width="1.2" stroke-linejoin="miter"/>
<text x="551.80" y="234.00" font-size="16" text-anchor="middle" font-weight="bold" transform="translate(551.80 234.00) scale(1 1.08) translate(-551.80 -234.00)">***</text>
<rect x="652.20" y="261.77" width="16.60" height="59.83" fill="#1a7a78" stroke="#111" stroke-width="1"/>
<rect x="679.00" y="267.13" width="16.60" height="54.47" fill="#7a0208" stroke="#111" stroke-width="1"/>
<rect x="706.40" y="255.52" width="16.60" height="66.08" fill="#d9d9d9" stroke="#111" stroke-width="1"/>
<circle cx="660.78" cy="243.02" r="2.1" fill="#b865c8"/>
<circle cx="652.98" cy="242.12" r="2.1" fill="#b865c8"/>
<circle cx="665.05" cy="250.16" r="2.1" fill="#5a6cc4"/>
<circle cx="655.34" cy="249.27" r="2.1" fill="#5a6cc4"/>
<circle cx="663.66" cy="259.09" r="2.1" fill="#5a6cc4"/>
<circle cx="652.53" cy="260.88" r="2.1" fill="#5a6cc4"/>
<circle cx="656.80" cy="262.66" r="2.1" fill="#b865c8"/>
<circle cx="661.48" cy="264.45" r="2.1" fill="#b865c8"/>
<circle cx="663.46" cy="267.13" r="2.1" fill="#5a6cc4"/>
<circle cx="666.90" cy="268.02" r="2.1" fill="#5a6cc4"/>
<circle cx="659.08" cy="276.95" r="2.1" fill="#b865c8"/>
<circle cx="656.80" cy="293.02" r="2.1" fill="#b865c8"/>
<circle cx="688.62" cy="246.59" r="2.1" fill="#b865c8"/>
<circle cx="690.18" cy="255.52" r="2.1" fill="#b865c8"/>
<circle cx="687.09" cy="259.98" r="2.1" fill="#5a6cc4"/>
<circle cx="687.08" cy="263.56" r="2.1" fill="#5a6cc4"/>
<circle cx="684.83" cy="264.45" r="2.1" fill="#b865c8"/>
<circle cx="692.64" cy="266.23" r="2.1" fill="#5a6cc4"/>
<circle cx="683.49" cy="268.02" r="2.1" fill="#b865c8"/>
<circle cx="680.87" cy="269.81" r="2.1" fill="#5a6cc4"/>
<circle cx="682.05" cy="279.63" r="2.1" fill="#b865c8"/>
<circle cx="688.22" cy="281.42" r="2.1" fill="#b865c8"/>
<circle cx="693.19" cy="283.20" r="2.1" fill="#5a6cc4"/>
<circle cx="721.20" cy="239.44" r="2.1" fill="#b865c8"/>
<circle cx="720.32" cy="239.44" r="2.1" fill="#b865c8"/>
<circle cx="707.43" cy="243.02" r="2.1" fill="#5a6cc4"/>
<circle cx="710.32" cy="245.69" r="2.1" fill="#5a6cc4"/>
<circle cx="710.61" cy="251.95" r="2.1" fill="#5a6cc4"/>
<circle cx="718.43" cy="254.62" r="2.1" fill="#5a6cc4"/>
<circle cx="714.62" cy="255.52" r="2.1" fill="#b865c8"/>
<circle cx="715.85" cy="257.30" r="2.1" fill="#5a6cc4"/>
<circle cx="718.89" cy="260.88" r="2.1" fill="#b865c8"/>
<circle cx="716.08" cy="264.45" r="2.1" fill="#5a6cc4"/>
<circle cx="720.16" cy="274.27" r="2.1" fill="#b865c8"/>
<circle cx="708.30" cy="285.88" r="2.1" fill="#b865c8"/>
<line x1="642.40" y1="231.80" x2="642.40" y2="322.10" stroke="#222" stroke-width="1.3"/>
<line x1="641.80" y1="321.60" x2="731.80" y2="321.60" stroke="#222" stroke-width="1.3"/>
<line x1="639.90" y1="321.60" x2="642.40" y2="321.60" stroke="#222" stroke-width="1.2"/>
<text x="637.90" y="325.90" font-size="12.3" text-anchor="end" transform="translate(637.90 325.90) scale(1 1.08) translate(-637.90 -325.90)">0</text>
<line x1="639.90" y1="303.74" x2="642.40" y2="303.74" stroke="#222" stroke-width="1.2"/>
<text x="637.90" y="308.04" font-size="12.3" text-anchor="end" transform="translate(637.90 308.04) scale(1 1.08) translate(-637.90 -308.04)">20</text>
<line x1="639.90" y1="285.88" x2="642.40" y2="285.88" stroke="#222" stroke-width="1.2"/>
<text x="637.90" y="290.18" font-size="12.3" text-anchor="end" transform="translate(637.90 290.18) scale(1 1.08) translate(-637.90 -290.18)">40</text>
<line x1="639.90" y1="268.02" x2="642.40" y2="268.02" stroke="#222" stroke-width="1.2"/>
<text x="637.90" y="272.32" font-size="12.3" text-anchor="end" transform="translate(637.90 272.32) scale(1 1.08) translate(-637.90 -272.32)">60</text>
<line x1="639.90" y1="250.16" x2="642.40" y2="250.16" stroke="#222" stroke-width="1.2"/>
<text x="637.90" y="254.46" font-size="12.3" text-anchor="end" transform="translate(637.90 254.46) scale(1 1.08) translate(-637.90 -254.46)">80</text>
<line x1="639.90" y1="232.30" x2="642.40" y2="232.30" stroke="#222" stroke-width="1.2"/>
<text x="637.90" y="236.60" font-size="12.3" text-anchor="end" transform="translate(637.90 236.60) scale(1 1.08) translate(-637.90 -236.60)">100</text>
<line x1="660.50" y1="321.60" x2="660.50" y2="324.10" stroke="#222" stroke-width="1.2"/>
<line x1="687.30" y1="321.60" x2="687.30" y2="324.10" stroke="#222" stroke-width="1.2"/>
<line x1="714.70" y1="321.60" x2="714.70" y2="324.10" stroke="#222" stroke-width="1.2"/>
<text x="663.00" y="334.10" font-size="12" text-anchor="end" transform="rotate(-45 663.00 334.10) translate(663.00 334.10) scale(1 1.08) translate(-663.00 -334.10)">SP</text>
<text x="689.80" y="334.10" font-size="12" text-anchor="end" transform="rotate(-45 689.80 334.10) translate(689.80 334.10) scale(1 1.08) translate(-689.80 -334.10)">DP</text>
<text x="717.20" y="334.10" font-size="12" text-anchor="end" transform="rotate(-45 717.20 334.10) translate(717.20 334.10) scale(1 1.08) translate(-717.20 -334.10)">DN</text>
<text x="686.30" y="181.80" font-size="13.5" text-anchor="middle" transform="translate(686.30 181.80) scale(1 1.08) translate(-686.30 -181.80)">TCF1</text>
<text x="612.00" y="276.80" font-size="12.2" text-anchor="middle" transform="rotate(-90 612.00 276.80) translate(612.00 276.80) scale(1 1.08) translate(-612.00 -276.80)">TCF1 (%)</text>
<path d="M660.00 221.00 L660.00 205.50 L714.60 205.50 L714.60 221.50" fill="none" stroke="#222" stroke-width="1.2" stroke-linejoin="miter"/>
<text x="686.80" y="207.80" font-size="16" text-anchor="middle" font-weight="bold" transform="translate(686.80 207.80) scale(1 1.08) translate(-686.80 -207.80)">*</text>
<path d="M660.00 234.50 L660.00 227.40 L685.80 227.40 L685.80 241.00" fill="none" stroke="#222" stroke-width="1.2" stroke-linejoin="miter"/>
<text x="673.10" y="222.50" font-size="9" text-anchor="middle" transform="translate(673.10 222.50) scale(1 1.08) translate(-673.10 -222.50)">ns</text>
<path d="M689.20 241.00 L689.20 227.40 L714.60 227.40 L714.60 237.10" fill="none" stroke="#222" stroke-width="1.2" stroke-linejoin="miter"/>
<text x="702.10" y="229.30" font-size="16" text-anchor="middle" font-weight="bold" transform="translate(702.10 229.30) scale(1 1.08) translate(-702.10 -229.30)">**</text>
<text x="9.10" y="365.20" font-size="13.6" transform="translate(9.10 365.20) scale(1 1.08) translate(-9.10 -365.20)">CD8<tspan dy="-5" font-size="10.5">+</tspan><tspan dy="5"> T cells in <tspan fill="#5566c0">Central</tspan> and <tspan fill="#b566c4">Peripheral</tspan> Tissues</tspan></text>
<line x1="297.90" y1="360.80" x2="696.10" y2="360.80" stroke="#333" stroke-width="1.2"/>
<path d="M695.10 356.50 L703.10 360.80 L695.10 365.10 Z" fill="#000"/>
<text x="1.0" y="407.2" font-size="18.5" font-weight="bold" stroke="#000" stroke-width="0.6">C</text>
<text x="33.90" y="410.90" font-size="13.7" transform="translate(33.90 410.90) scale(1 1.08) translate(-33.90 -410.90)">Gated on CD8<tspan dy="-5" font-size="10.5">+</tspan><tspan dy="5"> T cells in central tissues</tspan></text>
<rect x="26.10" y="419.40" width="80.30" height="80.30" fill="#fff" stroke="#c8c8c8" stroke-width="1"/>
<line x1="26.10" y1="452.50" x2="106.40" y2="452.50" stroke="#b8b8b8" stroke-width="1" stroke-dasharray="4 3"/>
<line x1="26.10" y1="468.50" x2="106.40" y2="468.50" stroke="#bfe3c5" stroke-width="0.9"/>
<line x1="26.10" y1="484.30" x2="106.40" y2="484.30" stroke="#f3c9c9" stroke-width="0.9"/>
<path d="M63.31 468.29 L64.29 468.00 L65.27 467.71 L66.25 466.31 L67.23 464.92 L68.21 461.51 L69.19 458.86 L70.17 454.74 L71.14 450.78 L72.12 448.58 L73.10 445.49 L74.08 442.90 L75.06 439.98 L76.04 439.44 L77.02 444.52 L78.00 453.43 L78.97 460.35 L79.95 465.51 L80.93 466.73 L81.91 468.05 L82.89 468.33 L82.89 468.50 L63.31 468.50 Z" fill="#cfe9d3" fill-opacity="1"/>
<path d="M63.31 468.29 L64.29 468.00 L65.27 467.71 L66.25 466.31 L67.23 464.92 L68.21 461.51 L69.19 458.86 L70.17 454.74 L71.14 450.78 L72.12 448.58 L73.10 445.49 L74.08 442.90 L75.06 439.98 L76.04 439.44 L77.02 444.52 L78.00 453.43 L78.97 460.35 L79.95 465.51 L80.93 466.73 L81.91 468.05 L82.89 468.33" fill="none" stroke="#3f9a5a" stroke-width="0.9" stroke-linejoin="round"/>
<path d="M61.36 484.07 L62.34 483.10 L63.31 483.30 L64.29 480.69 L65.27 477.92 L66.25 472.89 L67.23 468.01 L68.21 461.83 L69.19 458.44 L70.17 455.42 L71.14 456.54 L72.12 458.98 L73.10 461.75 L74.08 464.57 L75.06 468.56 L76.04 471.65 L77.02 475.72 L78.00 478.95 L78.97 481.40 L79.95 483.02 L80.93 483.89 L81.91 484.05 L81.91 484.30 L61.36 484.30 Z" fill="#f0bcbc" fill-opacity="0.8"/>
<path d="M61.36 484.07 L62.34 483.10 L63.31 483.30 L64.29 480.69 L65.27 477.92 L66.25 472.89 L67.23 468.01 L68.21 461.83 L69.19 458.44 L70.17 455.42 L71.14 456.54 L72.12 458.98 L73.10 461.75 L74.08 464.57 L75.06 468.56 L76.04 471.65 L77.02 475.72 L78.00 478.95 L78.97 481.40 L79.95 483.02 L80.93 483.89 L81.91 484.05" fill="none" stroke="#c8424c" stroke-width="0.9" stroke-linejoin="round"/>
<path d="M63.31 499.54 L64.29 499.27 L65.27 498.52 L66.25 496.95 L67.23 495.24 L68.21 491.43 L69.19 486.38 L70.17 481.31 L71.14 475.71 L72.12 471.92 L73.10 470.58 L74.08 473.35 L75.06 477.41 L76.04 481.91 L77.02 487.69 L78.00 492.81 L78.97 495.46 L79.95 498.14 L80.93 499.00 L81.91 499.35 L81.91 499.70 L63.31 499.70 Z" fill="#d6d6d6" fill-opacity="0.8"/>
<path d="M63.31 499.54 L64.29 499.27 L65.27 498.52 L66.25 496.95 L67.23 495.24 L68.21 491.43 L69.19 486.38 L70.17 481.31 L71.14 475.71 L72.12 471.92 L73.10 470.58 L74.08 473.35 L75.06 477.41 L76.04 481.91 L77.02 487.69 L78.00 492.81 L78.97 495.46 L79.95 498.14 L80.93 499.00 L81.91 499.35" fill="none" stroke="#707070" stroke-width="0.8" stroke-linejoin="round"/>
<path d="M40.31 451.96 L40.80 451.60 L41.29 451.04 L41.78 450.21 L42.27 449.05 L42.76 447.48 L43.25 445.45 L43.74 442.94 L44.23 439.99 L44.72 436.70 L45.21 433.23 L45.70 429.83 L46.19 426.75 L46.68 424.27 L47.16 422.63 L47.65 421.99 L48.14 422.43 L48.63 423.89 L49.12 426.22 L49.61 429.21 L50.10 432.58 L50.59 436.05 L51.08 439.39 L51.57 442.41 L52.06 445.01 L52.55 447.13 L53.04 448.79 L53.53 450.02 L54.02 450.90 L54.51 451.51 L54.99 451.90" fill="none" stroke="#3a2a2a" stroke-width="1" stroke-dasharray="2 1.5"/>
<line x1="26.90" y1="499.70" x2="26.90" y2="502.10" stroke="#222" stroke-width="0.75"/>
<line x1="31.74" y1="499.70" x2="31.74" y2="502.10" stroke="#222" stroke-width="0.75"/>
<line x1="33.69" y1="499.70" x2="33.69" y2="502.10" stroke="#222" stroke-width="0.75"/>
<line x1="34.93" y1="499.70" x2="34.93" y2="503.70" stroke="#222" stroke-width="0.75"/>
<line x1="39.35" y1="499.70" x2="39.35" y2="503.30" stroke="#111" stroke-width="1.0"/>
<line x1="40.72" y1="499.70" x2="40.72" y2="503.30" stroke="#111" stroke-width="1.0"/>
<line x1="42.09" y1="499.70" x2="42.09" y2="503.30" stroke="#111" stroke-width="1.0"/>
<line x1="43.46" y1="499.70" x2="43.46" y2="503.30" stroke="#111" stroke-width="1.0"/>
<line x1="44.84" y1="499.70" x2="44.84" y2="503.30" stroke="#111" stroke-width="1.0"/>
<line x1="46.21" y1="499.70" x2="46.21" y2="503.30" stroke="#111" stroke-width="1.0"/>
<line x1="47.58" y1="499.70" x2="47.58" y2="503.30" stroke="#111" stroke-width="1.0"/>
<line x1="48.95" y1="499.70" x2="48.95" y2="503.30" stroke="#111" stroke-width="1.0"/>
<line x1="50.32" y1="499.70" x2="50.32" y2="503.30" stroke="#111" stroke-width="1.0"/>
<line x1="51.70" y1="499.70" x2="51.70" y2="503.30" stroke="#111" stroke-width="1.0"/>
<line x1="53.07" y1="499.70" x2="53.07" y2="503.30" stroke="#111" stroke-width="1.0"/>
<line x1="54.44" y1="499.70" x2="54.44" y2="503.30" stroke="#111" stroke-width="1.0"/>
<line x1="55.81" y1="499.70" x2="55.81" y2="503.30" stroke="#111" stroke-width="1.0"/>
<line x1="60.63" y1="499.70" x2="60.63" y2="502.10" stroke="#222" stroke-width="0.75"/>
<line x1="64.58" y1="499.70" x2="64.58" y2="502.10" stroke="#222" stroke-width="0.75"/>
<line x1="66.48" y1="499.70" x2="66.48" y2="502.10" stroke="#222" stroke-width="0.75"/>
<line x1="67.75" y1="499.70" x2="67.75" y2="502.10" stroke="#222" stroke-width="0.75"/>
<line x1="68.70" y1="499.70" x2="68.70" y2="502.10" stroke="#222" stroke-width="0.75"/>
<line x1="69.46" y1="499.70" x2="69.46" y2="503.70" stroke="#222" stroke-width="0.75"/>
<line x1="75.08" y1="499.70" x2="75.08" y2="502.10" stroke="#222" stroke-width="0.75"/>
<line x1="77.96" y1="499.70" x2="77.96" y2="502.10" stroke="#222" stroke-width="0.75"/>
<line x1="79.34" y1="499.70" x2="79.34" y2="502.10" stroke="#222" stroke-width="0.75"/>
<line x1="80.26" y1="499.70" x2="80.26" y2="502.10" stroke="#222" stroke-width="0.75"/>
<line x1="80.95" y1="499.70" x2="80.95" y2="502.10" stroke="#222" stroke-width="0.75"/>
<line x1="81.51" y1="499.70" x2="81.51" y2="503.70" stroke="#222" stroke-width="0.75"/>
<line x1="84.72" y1="499.70" x2="84.72" y2="502.10" stroke="#222" stroke-width="0.75"/>
<line x1="87.59" y1="499.70" x2="87.59" y2="502.10" stroke="#222" stroke-width="0.75"/>
<line x1="88.98" y1="499.70" x2="88.98" y2="502.10" stroke="#222" stroke-width="0.75"/>
<line x1="89.90" y1="499.70" x2="89.90" y2="502.10" stroke="#222" stroke-width="0.75"/>
<line x1="90.59" y1="499.70" x2="90.59" y2="502.10" stroke="#222" stroke-width="0.75"/>
<line x1="91.14" y1="499.70" x2="91.14" y2="503.70" stroke="#222" stroke-width="0.75"/>
<line x1="97.57" y1="499.70" x2="97.57" y2="502.10" stroke="#222" stroke-width="0.75"/>
<line x1="100.44" y1="499.70" x2="100.44" y2="502.10" stroke="#222" stroke-width="0.75"/>
<line x1="101.82" y1="499.70" x2="101.82" y2="502.10" stroke="#222" stroke-width="0.75"/>
<line x1="102.75" y1="499.70" x2="102.75" y2="502.10" stroke="#222" stroke-width="0.75"/>
<line x1="103.44" y1="499.70" x2="103.44" y2="502.10" stroke="#222" stroke-width="0.75"/>
<line x1="103.99" y1="499.70" x2="103.99" y2="503.70" stroke="#222" stroke-width="0.75"/>
<text x="27.80" y="519.80" font-size="11" transform="translate(27.80 519.80) scale(1 1.08) translate(-27.80 -519.80)">CCR5</text>
<line x1="61.70" y1="515.30" x2="80.80" y2="515.30" stroke="#888" stroke-width="1"/>
<path d="M79.80 511.30 L87.30 515.30 L79.80 519.30 Z" fill="#000"/>
<rect x="119.90" y="419.60" width="79.50" height="79.10" fill="#fff" stroke="#c8c8c8" stroke-width="1"/>
<line x1="119.90" y1="452.50" x2="199.40" y2="452.50" stroke="#b8b8b8" stroke-width="1" stroke-dasharray="4 3"/>
<line x1="119.90" y1="468.50" x2="199.40" y2="468.50" stroke="#bfe3c5" stroke-width="0.9"/>
<line x1="119.90" y1="484.30" x2="199.40" y2="484.30" stroke="#f3c9c9" stroke-width="0.9"/>
<path d="M124.78 468.24 L125.74 468.00 L126.71 467.60 L127.68 466.89 L128.65 465.66 L129.62 464.97 L130.59 463.36 L131.56 461.05 L132.53 459.35 L133.49 457.67 L134.46 456.13 L135.43 455.22 L136.40 454.81 L137.37 453.62 L138.34 452.11 L139.31 450.33 L140.28 448.17 L141.24 447.49 L142.21 448.81 L143.18 453.08 L144.15 457.48 L145.12 462.61 L146.09 465.79 L147.06 466.71 L148.03 468.06 L148.99 468.36 L148.99 468.50 L124.78 468.50 Z" fill="#cfe9d3" fill-opacity="1"/>
<path d="M124.78 468.24 L125.74 468.00 L126.71 467.60 L127.68 466.89 L128.65 465.66 L129.62 464.97 L130.59 463.36 L131.56 461.05 L132.53 459.35 L133.49 457.67 L134.46 456.13 L135.43 455.22 L136.40 454.81 L137.37 453.62 L138.34 452.11 L139.31 450.33 L140.28 448.17 L141.24 447.49 L142.21 448.81 L143.18 453.08 L144.15 457.48 L145.12 462.61 L146.09 465.79 L147.06 466.71 L148.03 468.06 L148.99 468.36" fill="none" stroke="#3f9a5a" stroke-width="0.9" stroke-linejoin="round"/>
<path d="M128.65 484.05 L129.62 483.91 L130.59 483.19 L131.56 483.80 L132.53 482.42 L133.49 482.68 L134.46 481.49 L135.43 479.54 L136.40 477.99 L137.37 474.58 L138.34 470.78 L139.31 465.11 L140.28 460.87 L141.24 459.20 L142.21 458.71 L143.18 459.57 L144.15 461.77 L145.12 463.78 L146.09 466.20 L147.06 467.35 L148.03 469.06 L148.99 470.16 L149.96 471.55 L150.93 472.30 L151.90 473.60 L152.87 474.81 L153.84 475.60 L154.81 477.39 L155.78 478.26 L156.74 478.93 L157.71 479.09 L158.68 480.55 L159.65 481.24 L160.62 481.71 L161.59 481.99 L162.56 483.01 L163.53 483.58 L164.49 483.27 L165.46 483.81 L166.43 484.00 L166.43 484.30 L128.65 484.30 Z" fill="#f0bcbc" fill-opacity="0.8"/>
<path d="M128.65 484.05 L129.62 483.91 L130.59 483.19 L131.56 483.80 L132.53 482.42 L133.49 482.68 L134.46 481.49 L135.43 479.54 L136.40 477.99 L137.37 474.58 L138.34 470.78 L139.31 465.11 L140.28 460.87 L141.24 459.20 L142.21 458.71 L143.18 459.57 L144.15 461.77 L145.12 463.78 L146.09 466.20 L147.06 467.35 L148.03 469.06 L148.99 470.16 L149.96 471.55 L150.93 472.30 L151.90 473.60 L152.87 474.81 L153.84 475.60 L154.81 477.39 L155.78 478.26 L156.74 478.93 L157.71 479.09 L158.68 480.55 L159.65 481.24 L160.62 481.71 L161.59 481.99 L162.56 483.01 L163.53 483.58 L164.49 483.27 L165.46 483.81 L166.43 484.00" fill="none" stroke="#c8424c" stroke-width="0.9" stroke-linejoin="round"/>
<path d="M131.56 498.42 L132.53 498.03 L133.49 497.19 L134.46 494.52 L135.43 491.82 L136.40 487.77 L137.37 481.62 L138.34 477.33 L139.31 473.74 L140.28 473.24 L141.24 474.90 L142.21 479.19 L143.18 484.88 L144.15 490.33 L145.12 493.38 L146.09 495.80 L147.06 497.82 L148.03 498.27 L148.99 498.55 L148.99 498.70 L131.56 498.70 Z" fill="#d6d6d6" fill-opacity="0.8"/>
<path d="M131.56 498.42 L132.53 498.03 L133.49 497.19 L134.46 494.52 L135.43 491.82 L136.40 487.77 L137.37 481.62 L138.34 477.33 L139.31 473.74 L140.28 473.24 L141.24 474.90 L142.21 479.19 L143.18 484.88 L144.15 490.33 L145.12 493.38 L146.09 495.80 L147.06 497.82 L148.03 498.27 L148.99 498.55" fill="none" stroke="#707070" stroke-width="0.8" stroke-linejoin="round"/>
<path d="M131.56 451.97 L132.04 451.71 L132.53 451.34 L133.01 450.84 L133.49 450.18 L133.98 449.32 L134.46 448.24 L134.95 446.92 L135.43 445.34 L135.92 443.50 L136.40 441.44 L136.88 439.19 L137.37 436.83 L137.85 434.44 L138.34 432.14 L138.82 430.02 L139.31 428.22 L139.79 426.83 L140.28 425.94 L140.76 425.60 L141.24 425.84 L141.73 426.64 L142.21 427.95 L142.70 429.70 L143.18 431.76 L143.67 434.05 L144.15 436.43 L144.63 438.80 L145.12 441.07 L145.60 443.17 L146.09 445.05 L146.57 446.67 L147.06 448.04 L147.54 449.16 L148.03 450.05 L148.51 450.74 L148.99 451.27 L149.48 451.65 L149.96 451.93" fill="none" stroke="#3a2a2a" stroke-width="1" stroke-dasharray="2 1.5"/>
<line x1="120.70" y1="498.70" x2="120.70" y2="501.10" stroke="#222" stroke-width="0.75"/>
<line x1="125.48" y1="498.70" x2="125.48" y2="501.10" stroke="#222" stroke-width="0.75"/>
<line x1="127.41" y1="498.70" x2="127.41" y2="501.10" stroke="#222" stroke-width="0.75"/>
<line x1="128.65" y1="498.70" x2="128.65" y2="502.70" stroke="#222" stroke-width="0.75"/>
<line x1="133.02" y1="498.70" x2="133.02" y2="502.30" stroke="#111" stroke-width="1.0"/>
<line x1="134.38" y1="498.70" x2="134.38" y2="502.30" stroke="#111" stroke-width="1.0"/>
<line x1="135.73" y1="498.70" x2="135.73" y2="502.30" stroke="#111" stroke-width="1.0"/>
<line x1="137.09" y1="498.70" x2="137.09" y2="502.30" stroke="#111" stroke-width="1.0"/>
<line x1="138.45" y1="498.70" x2="138.45" y2="502.30" stroke="#111" stroke-width="1.0"/>
<line x1="139.81" y1="498.70" x2="139.81" y2="502.30" stroke="#111" stroke-width="1.0"/>
<line x1="141.17" y1="498.70" x2="141.17" y2="502.30" stroke="#111" stroke-width="1.0"/>
<line x1="142.52" y1="498.70" x2="142.52" y2="502.30" stroke="#111" stroke-width="1.0"/>
<line x1="143.88" y1="498.70" x2="143.88" y2="502.30" stroke="#111" stroke-width="1.0"/>
<line x1="145.24" y1="498.70" x2="145.24" y2="502.30" stroke="#111" stroke-width="1.0"/>
<line x1="146.60" y1="498.70" x2="146.60" y2="502.30" stroke="#111" stroke-width="1.0"/>
<line x1="147.96" y1="498.70" x2="147.96" y2="502.30" stroke="#111" stroke-width="1.0"/>
<line x1="149.31" y1="498.70" x2="149.31" y2="502.30" stroke="#111" stroke-width="1.0"/>
<line x1="154.09" y1="498.70" x2="154.09" y2="501.10" stroke="#222" stroke-width="0.75"/>
<line x1="158.00" y1="498.70" x2="158.00" y2="501.10" stroke="#222" stroke-width="0.75"/>
<line x1="159.88" y1="498.70" x2="159.88" y2="501.10" stroke="#222" stroke-width="0.75"/>
<line x1="161.14" y1="498.70" x2="161.14" y2="501.10" stroke="#222" stroke-width="0.75"/>
<line x1="162.08" y1="498.70" x2="162.08" y2="501.10" stroke="#222" stroke-width="0.75"/>
<line x1="162.83" y1="498.70" x2="162.83" y2="502.70" stroke="#222" stroke-width="0.75"/>
<line x1="168.40" y1="498.70" x2="168.40" y2="501.10" stroke="#222" stroke-width="0.75"/>
<line x1="171.24" y1="498.70" x2="171.24" y2="501.10" stroke="#222" stroke-width="0.75"/>
<line x1="172.61" y1="498.70" x2="172.61" y2="501.10" stroke="#222" stroke-width="0.75"/>
<line x1="173.52" y1="498.70" x2="173.52" y2="501.10" stroke="#222" stroke-width="0.75"/>
<line x1="174.21" y1="498.70" x2="174.21" y2="501.10" stroke="#222" stroke-width="0.75"/>
<line x1="174.75" y1="498.70" x2="174.75" y2="502.70" stroke="#222" stroke-width="0.75"/>
<line x1="177.94" y1="498.70" x2="177.94" y2="501.10" stroke="#222" stroke-width="0.75"/>
<line x1="180.78" y1="498.70" x2="180.78" y2="501.10" stroke="#222" stroke-width="0.75"/>
<line x1="182.15" y1="498.70" x2="182.15" y2="501.10" stroke="#222" stroke-width="0.75"/>
<line x1="183.06" y1="498.70" x2="183.06" y2="501.10" stroke="#222" stroke-width="0.75"/>
<line x1="183.75" y1="498.70" x2="183.75" y2="501.10" stroke="#222" stroke-width="0.75"/>
<line x1="184.30" y1="498.70" x2="184.30" y2="502.70" stroke="#222" stroke-width="0.75"/>
<line x1="190.66" y1="498.70" x2="190.66" y2="501.10" stroke="#222" stroke-width="0.75"/>
<line x1="193.50" y1="498.70" x2="193.50" y2="501.10" stroke="#222" stroke-width="0.75"/>
<line x1="194.87" y1="498.70" x2="194.87" y2="501.10" stroke="#222" stroke-width="0.75"/>
<line x1="195.78" y1="498.70" x2="195.78" y2="501.10" stroke="#222" stroke-width="0.75"/>
<line x1="196.47" y1="498.70" x2="196.47" y2="501.10" stroke="#222" stroke-width="0.75"/>
<line x1="197.01" y1="498.70" x2="197.01" y2="502.70" stroke="#222" stroke-width="0.75"/>
<text x="119.10" y="519.80" font-size="11" transform="translate(119.10 519.80) scale(1 1.08) translate(-119.10 -519.80)">CXCR6</text>
<line x1="159.50" y1="515.30" x2="179.10" y2="515.30" stroke="#888" stroke-width="1"/>
<path d="M178.10 511.30 L185.60 515.30 L178.10 519.30 Z" fill="#000"/>
<rect x="210.40" y="419.60" width="79.50" height="79.10" fill="#fff" stroke="#c8c8c8" stroke-width="1"/>
<line x1="210.40" y1="452.50" x2="289.90" y2="452.50" stroke="#b8b8b8" stroke-width="1" stroke-dasharray="4 3"/>
<line x1="210.40" y1="468.50" x2="289.90" y2="468.50" stroke="#bfe3c5" stroke-width="0.9"/>
<line x1="210.40" y1="484.30" x2="289.90" y2="484.30" stroke="#f3c9c9" stroke-width="0.9"/>
<path d="M230.78 468.27 L231.74 468.06 L232.71 467.92 L233.68 467.02 L234.65 466.94 L235.62 464.66 L236.59 463.45 L237.56 461.61 L238.53 460.76 L239.49 459.13 L240.46 457.66 L241.43 455.69 L242.40 453.46 L243.37 449.16 L244.34 445.32 L245.31 441.30 L246.27 440.66 L247.24 444.26 L248.21 450.47 L249.18 456.92 L250.15 462.69 L251.12 465.35 L252.09 467.65 L253.06 468.03 L254.02 468.32 L254.02 468.50 L230.78 468.50 Z" fill="#cfe9d3" fill-opacity="1"/>
<path d="M230.78 468.27 L231.74 468.06 L232.71 467.92 L233.68 467.02 L234.65 466.94 L235.62 464.66 L236.59 463.45 L237.56 461.61 L238.53 460.76 L239.49 459.13 L240.46 457.66 L241.43 455.69 L242.40 453.46 L243.37 449.16 L244.34 445.32 L245.31 441.30 L246.27 440.66 L247.24 444.26 L248.21 450.47 L249.18 456.92 L250.15 462.69 L251.12 465.35 L252.09 467.65 L253.06 468.03 L254.02 468.32" fill="none" stroke="#3f9a5a" stroke-width="0.9" stroke-linejoin="round"/>
<path d="M211.40 484.02 L212.37 483.13 L213.34 482.32 L214.31 482.69 L215.28 481.94 L216.24 481.55 L217.21 480.41 L218.18 479.67 L219.15 478.87 L220.12 477.43 L221.09 476.68 L222.06 475.98 L223.03 474.77 L223.99 473.31 L224.96 472.11 L225.93 471.63 L226.90 469.99 L227.87 469.64 L228.84 468.65 L229.81 469.07 L230.78 468.61 L231.74 469.10 L232.71 469.19 L233.68 470.17 L234.65 470.57 L235.62 470.33 L236.59 467.72 L237.56 464.60 L238.53 460.90 L239.49 457.65 L240.46 457.57 L241.43 458.91 L242.40 463.05 L243.37 468.48 L244.34 473.93 L245.31 477.07 L246.27 480.90 L247.24 482.94 L248.21 483.53 L249.18 483.94 L250.15 484.17 L250.15 484.30 L211.40 484.30 Z" fill="#f0bcbc" fill-opacity="0.8"/>
<path d="M211.40 484.02 L212.37 483.13 L213.34 482.32 L214.31 482.69 L215.28 481.94 L216.24 481.55 L217.21 480.41 L218.18 479.67 L219.15 478.87 L220.12 477.43 L221.09 476.68 L222.06 475.98 L223.03 474.77 L223.99 473.31 L224.96 472.11 L225.93 471.63 L226.90 469.99 L227.87 469.64 L228.84 468.65 L229.81 469.07 L230.78 468.61 L231.74 469.10 L232.71 469.19 L233.68 470.17 L234.65 470.57 L235.62 470.33 L236.59 467.72 L237.56 464.60 L238.53 460.90 L239.49 457.65 L240.46 457.57 L241.43 458.91 L242.40 463.05 L243.37 468.48 L244.34 473.93 L245.31 477.07 L246.27 480.90 L247.24 482.94 L248.21 483.53 L249.18 483.94 L250.15 484.17" fill="none" stroke="#c8424c" stroke-width="0.9" stroke-linejoin="round"/>
<path d="M232.71 498.35 L233.68 497.58 L234.65 496.67 L235.62 495.51 L236.59 493.52 L237.56 491.16 L238.53 488.03 L239.49 484.82 L240.46 481.11 L241.43 477.29 L242.40 473.62 L243.37 472.53 L244.34 471.47 L245.31 472.16 L246.27 474.10 L247.24 477.34 L248.21 480.52 L249.18 484.23 L250.15 488.23 L251.12 491.72 L252.09 493.34 L253.06 495.15 L254.02 496.87 L254.99 497.27 L255.96 497.66 L256.93 498.40 L256.93 498.70 L232.71 498.70 Z" fill="#d6d6d6" fill-opacity="0.8"/>
<path d="M232.71 498.35 L233.68 497.58 L234.65 496.67 L235.62 495.51 L236.59 493.52 L237.56 491.16 L238.53 488.03 L239.49 484.82 L240.46 481.11 L241.43 477.29 L242.40 473.62 L243.37 472.53 L244.34 471.47 L245.31 472.16 L246.27 474.10 L247.24 477.34 L248.21 480.52 L249.18 484.23 L250.15 488.23 L251.12 491.72 L252.09 493.34 L253.06 495.15 L254.02 496.87 L254.99 497.27 L255.96 497.66 L256.93 498.40" fill="none" stroke="#707070" stroke-width="0.8" stroke-linejoin="round"/>
<path d="M223.03 452.05 L223.51 451.66 L223.99 451.02 L224.48 450.03 L224.96 448.55 L225.45 446.49 L225.93 443.78 L226.42 440.46 L226.90 436.66 L227.38 432.64 L227.87 428.78 L228.35 425.51 L228.84 423.25 L229.32 422.30 L229.81 422.79 L230.29 424.66 L230.78 427.64 L231.26 431.36 L231.74 435.37 L232.23 439.27 L232.71 442.77 L233.20 445.68 L233.68 447.95 L234.17 449.61 L234.65 450.75 L235.13 451.49 L235.62 451.94" fill="none" stroke="#3a2a2a" stroke-width="1" stroke-dasharray="2 1.5"/>
<line x1="211.19" y1="498.70" x2="211.19" y2="501.10" stroke="#222" stroke-width="0.75"/>
<line x1="215.98" y1="498.70" x2="215.98" y2="501.10" stroke="#222" stroke-width="0.75"/>
<line x1="217.91" y1="498.70" x2="217.91" y2="501.10" stroke="#222" stroke-width="0.75"/>
<line x1="219.15" y1="498.70" x2="219.15" y2="502.70" stroke="#222" stroke-width="0.75"/>
<line x1="223.52" y1="498.70" x2="223.52" y2="502.30" stroke="#111" stroke-width="1.0"/>
<line x1="224.88" y1="498.70" x2="224.88" y2="502.30" stroke="#111" stroke-width="1.0"/>
<line x1="226.23" y1="498.70" x2="226.23" y2="502.30" stroke="#111" stroke-width="1.0"/>
<line x1="227.59" y1="498.70" x2="227.59" y2="502.30" stroke="#111" stroke-width="1.0"/>
<line x1="228.95" y1="498.70" x2="228.95" y2="502.30" stroke="#111" stroke-width="1.0"/>
<line x1="230.31" y1="498.70" x2="230.31" y2="502.30" stroke="#111" stroke-width="1.0"/>
<line x1="231.67" y1="498.70" x2="231.67" y2="502.30" stroke="#111" stroke-width="1.0"/>
<line x1="233.02" y1="498.70" x2="233.02" y2="502.30" stroke="#111" stroke-width="1.0"/>
<line x1="234.38" y1="498.70" x2="234.38" y2="502.30" stroke="#111" stroke-width="1.0"/>
<line x1="235.74" y1="498.70" x2="235.74" y2="502.30" stroke="#111" stroke-width="1.0"/>
<line x1="237.10" y1="498.70" x2="237.10" y2="502.30" stroke="#111" stroke-width="1.0"/>
<line x1="238.46" y1="498.70" x2="238.46" y2="502.30" stroke="#111" stroke-width="1.0"/>
<line x1="239.81" y1="498.70" x2="239.81" y2="502.30" stroke="#111" stroke-width="1.0"/>
<line x1="244.58" y1="498.70" x2="244.58" y2="501.10" stroke="#222" stroke-width="0.75"/>
<line x1="248.50" y1="498.70" x2="248.50" y2="501.10" stroke="#222" stroke-width="0.75"/>
<line x1="250.38" y1="498.70" x2="250.38" y2="501.10" stroke="#222" stroke-width="0.75"/>
<line x1="251.64" y1="498.70" x2="251.64" y2="501.10" stroke="#222" stroke-width="0.75"/>
<line x1="252.58" y1="498.70" x2="252.58" y2="501.10" stroke="#222" stroke-width="0.75"/>
<line x1="253.33" y1="498.70" x2="253.33" y2="502.70" stroke="#222" stroke-width="0.75"/>
<line x1="258.89" y1="498.70" x2="258.89" y2="501.10" stroke="#222" stroke-width="0.75"/>
<line x1="261.74" y1="498.70" x2="261.74" y2="501.10" stroke="#222" stroke-width="0.75"/>
<line x1="263.11" y1="498.70" x2="263.11" y2="501.10" stroke="#222" stroke-width="0.75"/>
<line x1="264.02" y1="498.70" x2="264.02" y2="501.10" stroke="#222" stroke-width="0.75"/>
<line x1="264.71" y1="498.70" x2="264.71" y2="501.10" stroke="#222" stroke-width="0.75"/>
<line x1="265.25" y1="498.70" x2="265.25" y2="502.70" stroke="#222" stroke-width="0.75"/>
<line x1="268.44" y1="498.70" x2="268.44" y2="501.10" stroke="#222" stroke-width="0.75"/>
<line x1="271.28" y1="498.70" x2="271.28" y2="501.10" stroke="#222" stroke-width="0.75"/>
<line x1="272.65" y1="498.70" x2="272.65" y2="501.10" stroke="#222" stroke-width="0.75"/>
<line x1="273.56" y1="498.70" x2="273.56" y2="501.10" stroke="#222" stroke-width="0.75"/>
<line x1="274.25" y1="498.70" x2="274.25" y2="501.10" stroke="#222" stroke-width="0.75"/>
<line x1="274.79" y1="498.70" x2="274.79" y2="502.70" stroke="#222" stroke-width="0.75"/>
<line x1="281.15" y1="498.70" x2="281.15" y2="501.10" stroke="#222" stroke-width="0.75"/>
<line x1="284.00" y1="498.70" x2="284.00" y2="501.10" stroke="#222" stroke-width="0.75"/>
<line x1="285.37" y1="498.70" x2="285.37" y2="501.10" stroke="#222" stroke-width="0.75"/>
<line x1="286.28" y1="498.70" x2="286.28" y2="501.10" stroke="#222" stroke-width="0.75"/>
<line x1="286.97" y1="498.70" x2="286.97" y2="501.10" stroke="#222" stroke-width="0.75"/>
<line x1="287.51" y1="498.70" x2="287.51" y2="502.70" stroke="#222" stroke-width="0.75"/>
<text x="212.80" y="519.80" font-size="11" transform="translate(212.80 519.80) scale(1 1.08) translate(-212.80 -519.80)">CXCR3</text>
<line x1="254.80" y1="515.30" x2="274.50" y2="515.30" stroke="#888" stroke-width="1"/>
<path d="M273.50 511.30 L281.00 515.30 L273.50 519.30 Z" fill="#000"/>
<rect x="299.10" y="420.40" width="79.60" height="79.60" fill="#fff" stroke="#c8c8c8" stroke-width="1"/>
<line x1="299.10" y1="452.50" x2="378.70" y2="452.50" stroke="#b8b8b8" stroke-width="1" stroke-dasharray="4 3"/>
<line x1="299.10" y1="468.50" x2="378.70" y2="468.50" stroke="#bfe3c5" stroke-width="0.9"/>
<line x1="299.10" y1="484.30" x2="378.70" y2="484.30" stroke="#f3c9c9" stroke-width="0.9"/>
<path d="M314.65 468.41 L315.62 468.10 L316.59 467.08 L317.56 464.63 L318.53 459.74 L319.50 453.32 L320.47 446.44 L321.44 443.99 L322.41 444.35 L323.38 446.75 L324.35 448.96 L325.32 448.51 L326.29 447.59 L327.26 445.52 L328.23 444.13 L329.20 443.51 L330.17 443.12 L331.14 442.16 L332.11 441.93 L333.08 441.24 L334.05 440.87 L335.02 441.66 L335.99 443.62 L336.96 446.68 L337.93 449.73 L338.90 452.51 L339.87 456.66 L340.84 459.01 L341.81 462.31 L342.78 464.13 L343.75 465.55 L344.72 466.16 L345.69 467.16 L346.66 467.49 L347.63 468.17 L347.63 468.50 L314.65 468.50 Z" fill="#cfe9d3" fill-opacity="1"/>
<path d="M314.65 468.41 L315.62 468.10 L316.59 467.08 L317.56 464.63 L318.53 459.74 L319.50 453.32 L320.47 446.44 L321.44 443.99 L322.41 444.35 L323.38 446.75 L324.35 448.96 L325.32 448.51 L326.29 447.59 L327.26 445.52 L328.23 444.13 L329.20 443.51 L330.17 443.12 L331.14 442.16 L332.11 441.93 L333.08 441.24 L334.05 440.87 L335.02 441.66 L335.99 443.62 L336.96 446.68 L337.93 449.73 L338.90 452.51 L339.87 456.66 L340.84 459.01 L341.81 462.31 L342.78 464.13 L343.75 465.55 L344.72 466.16 L345.69 467.16 L346.66 467.49 L347.63 468.17" fill="none" stroke="#3f9a5a" stroke-width="0.9" stroke-linejoin="round"/>
<path d="M312.71 484.06 L313.68 483.91 L314.65 483.92 L315.62 482.29 L316.59 479.09 L317.56 472.27 L318.53 463.97 L319.50 457.28 L320.47 456.78 L321.44 462.97 L322.41 469.59 L323.38 475.64 L324.35 477.94 L325.32 479.13 L326.29 478.83 L327.26 478.05 L328.23 478.87 L329.20 479.03 L330.17 479.00 L331.14 479.35 L332.11 479.66 L333.08 480.21 L334.05 481.14 L335.02 481.93 L335.99 482.05 L336.96 482.61 L337.93 482.76 L338.90 483.10 L339.87 483.21 L340.84 483.77 L341.81 483.88 L342.78 484.02 L342.78 484.30 L312.71 484.30 Z" fill="#f0bcbc" fill-opacity="0.8"/>
<path d="M312.71 484.06 L313.68 483.91 L314.65 483.92 L315.62 482.29 L316.59 479.09 L317.56 472.27 L318.53 463.97 L319.50 457.28 L320.47 456.78 L321.44 462.97 L322.41 469.59 L323.38 475.64 L324.35 477.94 L325.32 479.13 L326.29 478.83 L327.26 478.05 L328.23 478.87 L329.20 479.03 L330.17 479.00 L331.14 479.35 L332.11 479.66 L333.08 480.21 L334.05 481.14 L335.02 481.93 L335.99 482.05 L336.96 482.61 L337.93 482.76 L338.90 483.10 L339.87 483.21 L340.84 483.77 L341.81 483.88 L342.78 484.02" fill="none" stroke="#c8424c" stroke-width="0.9" stroke-linejoin="round"/>
<path d="M314.65 499.73 L315.62 499.10 L316.59 496.73 L317.56 493.10 L318.53 485.12 L319.50 477.15 L320.47 471.93 L321.44 474.49 L322.41 480.62 L323.38 486.00 L324.35 490.21 L325.32 491.10 L326.29 490.98 L327.26 490.34 L328.23 490.87 L329.20 490.94 L330.17 490.89 L331.14 491.91 L332.11 491.74 L333.08 492.06 L334.05 491.27 L335.02 492.17 L335.99 491.41 L336.96 492.21 L337.93 492.46 L338.90 493.63 L339.87 493.58 L340.84 495.25 L341.81 496.01 L342.78 496.31 L343.75 497.50 L344.72 498.48 L345.69 499.11 L346.66 498.69 L347.63 499.21 L348.60 499.67 L348.60 500.00 L314.65 500.00 Z" fill="#d6d6d6" fill-opacity="0.8"/>
<path d="M314.65 499.73 L315.62 499.10 L316.59 496.73 L317.56 493.10 L318.53 485.12 L319.50 477.15 L320.47 471.93 L321.44 474.49 L322.41 480.62 L323.38 486.00 L324.35 490.21 L325.32 491.10 L326.29 490.98 L327.26 490.34 L328.23 490.87 L329.20 490.94 L330.17 490.89 L331.14 491.91 L332.11 491.74 L333.08 492.06 L334.05 491.27 L335.02 492.17 L335.99 491.41 L336.96 492.21 L337.93 492.46 L338.90 493.63 L339.87 493.58 L340.84 495.25 L341.81 496.01 L342.78 496.31 L343.75 497.50 L344.72 498.48 L345.69 499.11 L346.66 498.69 L347.63 499.21 L348.60 499.67" fill="none" stroke="#707070" stroke-width="0.8" stroke-linejoin="round"/>
<path d="M315.62 451.85 L316.11 450.91 L316.59 449.03 L317.07 445.79 L317.56 440.99 L318.05 434.98 L318.53 428.85 L319.01 424.18 L319.50 422.43 L319.99 424.18 L320.47 428.85 L320.96 434.98 L321.44 440.99 L321.93 445.79 L322.41 449.03 L322.90 450.91 L323.38 451.85" fill="none" stroke="#3a2a2a" stroke-width="1" stroke-dasharray="2 1.5"/>
<line x1="299.90" y1="500.00" x2="299.90" y2="502.40" stroke="#222" stroke-width="0.75"/>
<line x1="304.69" y1="500.00" x2="304.69" y2="502.40" stroke="#222" stroke-width="0.75"/>
<line x1="306.62" y1="500.00" x2="306.62" y2="502.40" stroke="#222" stroke-width="0.75"/>
<line x1="307.86" y1="500.00" x2="307.86" y2="504.00" stroke="#222" stroke-width="0.75"/>
<line x1="312.23" y1="500.00" x2="312.23" y2="503.60" stroke="#111" stroke-width="1.0"/>
<line x1="313.59" y1="500.00" x2="313.59" y2="503.60" stroke="#111" stroke-width="1.0"/>
<line x1="314.95" y1="500.00" x2="314.95" y2="503.60" stroke="#111" stroke-width="1.0"/>
<line x1="316.31" y1="500.00" x2="316.31" y2="503.60" stroke="#111" stroke-width="1.0"/>
<line x1="317.67" y1="500.00" x2="317.67" y2="503.60" stroke="#111" stroke-width="1.0"/>
<line x1="319.03" y1="500.00" x2="319.03" y2="503.60" stroke="#111" stroke-width="1.0"/>
<line x1="320.39" y1="500.00" x2="320.39" y2="503.60" stroke="#111" stroke-width="1.0"/>
<line x1="321.75" y1="500.00" x2="321.75" y2="503.60" stroke="#111" stroke-width="1.0"/>
<line x1="323.11" y1="500.00" x2="323.11" y2="503.60" stroke="#111" stroke-width="1.0"/>
<line x1="324.47" y1="500.00" x2="324.47" y2="503.60" stroke="#111" stroke-width="1.0"/>
<line x1="325.83" y1="500.00" x2="325.83" y2="503.60" stroke="#111" stroke-width="1.0"/>
<line x1="327.19" y1="500.00" x2="327.19" y2="503.60" stroke="#111" stroke-width="1.0"/>
<line x1="328.55" y1="500.00" x2="328.55" y2="503.60" stroke="#111" stroke-width="1.0"/>
<line x1="333.33" y1="500.00" x2="333.33" y2="502.40" stroke="#222" stroke-width="0.75"/>
<line x1="337.24" y1="500.00" x2="337.24" y2="502.40" stroke="#222" stroke-width="0.75"/>
<line x1="339.13" y1="500.00" x2="339.13" y2="502.40" stroke="#222" stroke-width="0.75"/>
<line x1="340.39" y1="500.00" x2="340.39" y2="502.40" stroke="#222" stroke-width="0.75"/>
<line x1="341.33" y1="500.00" x2="341.33" y2="502.40" stroke="#222" stroke-width="0.75"/>
<line x1="342.08" y1="500.00" x2="342.08" y2="504.00" stroke="#222" stroke-width="0.75"/>
<line x1="347.66" y1="500.00" x2="347.66" y2="502.40" stroke="#222" stroke-width="0.75"/>
<line x1="350.50" y1="500.00" x2="350.50" y2="502.40" stroke="#222" stroke-width="0.75"/>
<line x1="351.88" y1="500.00" x2="351.88" y2="502.40" stroke="#222" stroke-width="0.75"/>
<line x1="352.79" y1="500.00" x2="352.79" y2="502.40" stroke="#222" stroke-width="0.75"/>
<line x1="353.48" y1="500.00" x2="353.48" y2="502.40" stroke="#222" stroke-width="0.75"/>
<line x1="354.02" y1="500.00" x2="354.02" y2="504.00" stroke="#222" stroke-width="0.75"/>
<line x1="357.21" y1="500.00" x2="357.21" y2="502.40" stroke="#222" stroke-width="0.75"/>
<line x1="360.06" y1="500.00" x2="360.06" y2="502.40" stroke="#222" stroke-width="0.75"/>
<line x1="361.43" y1="500.00" x2="361.43" y2="502.40" stroke="#222" stroke-width="0.75"/>
<line x1="362.34" y1="500.00" x2="362.34" y2="502.40" stroke="#222" stroke-width="0.75"/>
<line x1="363.03" y1="500.00" x2="363.03" y2="502.40" stroke="#222" stroke-width="0.75"/>
<line x1="363.58" y1="500.00" x2="363.58" y2="504.00" stroke="#222" stroke-width="0.75"/>
<line x1="369.94" y1="500.00" x2="369.94" y2="502.40" stroke="#222" stroke-width="0.75"/>
<line x1="372.79" y1="500.00" x2="372.79" y2="502.40" stroke="#222" stroke-width="0.75"/>
<line x1="374.16" y1="500.00" x2="374.16" y2="502.40" stroke="#222" stroke-width="0.75"/>
<line x1="375.08" y1="500.00" x2="375.08" y2="502.40" stroke="#222" stroke-width="0.75"/>
<line x1="375.76" y1="500.00" x2="375.76" y2="502.40" stroke="#222" stroke-width="0.75"/>
<line x1="376.31" y1="500.00" x2="376.31" y2="504.00" stroke="#222" stroke-width="0.75"/>
<text x="301.60" y="519.80" font-size="11" transform="translate(301.60 519.80) scale(1 1.08) translate(-301.60 -519.80)">CXCR4</text>
<line x1="342.40" y1="515.30" x2="361.50" y2="515.30" stroke="#888" stroke-width="1"/>
<path d="M360.50 511.30 L368.00 515.30 L360.50 519.30 Z" fill="#000"/>
<rect x="389.60" y="419.90" width="79.80" height="80.10" fill="#fff" stroke="#c8c8c8" stroke-width="1"/>
<line x1="389.60" y1="452.50" x2="469.40" y2="452.50" stroke="#b8b8b8" stroke-width="1" stroke-dasharray="4 3"/>
<line x1="389.60" y1="468.50" x2="469.40" y2="468.50" stroke="#bfe3c5" stroke-width="0.9"/>
<line x1="389.60" y1="484.30" x2="469.40" y2="484.30" stroke="#f3c9c9" stroke-width="0.9"/>
<path d="M405.19 468.34 L406.16 467.65 L407.13 466.08 L408.11 465.25 L409.08 462.23 L410.05 459.61 L411.02 456.39 L412.00 453.01 L412.97 448.87 L413.94 446.33 L414.91 443.59 L415.88 442.81 L416.86 442.94 L417.83 443.79 L418.80 446.80 L419.77 448.47 L420.75 450.56 L421.72 453.10 L422.69 453.48 L423.67 455.62 L424.64 457.24 L425.61 459.59 L426.58 461.50 L427.56 463.14 L428.53 465.64 L429.50 466.47 L430.47 467.25 L431.44 468.08 L432.42 468.32 L432.42 468.50 L405.19 468.50 Z" fill="#cfe9d3" fill-opacity="1"/>
<path d="M405.19 468.34 L406.16 467.65 L407.13 466.08 L408.11 465.25 L409.08 462.23 L410.05 459.61 L411.02 456.39 L412.00 453.01 L412.97 448.87 L413.94 446.33 L414.91 443.59 L415.88 442.81 L416.86 442.94 L417.83 443.79 L418.80 446.80 L419.77 448.47 L420.75 450.56 L421.72 453.10 L422.69 453.48 L423.67 455.62 L424.64 457.24 L425.61 459.59 L426.58 461.50 L427.56 463.14 L428.53 465.64 L429.50 466.47 L430.47 467.25 L431.44 468.08 L432.42 468.32" fill="none" stroke="#3f9a5a" stroke-width="0.9" stroke-linejoin="round"/>
<path d="M403.24 484.13 L404.22 483.94 L405.19 483.69 L406.16 482.90 L407.13 481.89 L408.11 480.30 L409.08 477.83 L410.05 474.71 L411.02 471.50 L412.00 467.39 L412.97 463.73 L413.94 460.42 L414.91 457.58 L415.88 456.41 L416.86 457.53 L417.83 459.55 L418.80 463.46 L419.77 466.37 L420.75 470.63 L421.72 474.32 L422.69 477.97 L423.67 479.85 L424.64 481.52 L425.61 483.19 L426.58 483.58 L427.56 483.88 L428.53 484.10 L428.53 484.30 L403.24 484.30 Z" fill="#f0bcbc" fill-opacity="0.8"/>
<path d="M403.24 484.13 L404.22 483.94 L405.19 483.69 L406.16 482.90 L407.13 481.89 L408.11 480.30 L409.08 477.83 L410.05 474.71 L411.02 471.50 L412.00 467.39 L412.97 463.73 L413.94 460.42 L414.91 457.58 L415.88 456.41 L416.86 457.53 L417.83 459.55 L418.80 463.46 L419.77 466.37 L420.75 470.63 L421.72 474.32 L422.69 477.97 L423.67 479.85 L424.64 481.52 L425.61 483.19 L426.58 483.58 L427.56 483.88 L428.53 484.10" fill="none" stroke="#c8424c" stroke-width="0.9" stroke-linejoin="round"/>
<path d="M397.41 499.72 L398.38 499.51 L399.35 498.67 L400.33 498.63 L401.30 497.75 L402.27 496.86 L403.24 495.60 L404.22 493.31 L405.19 491.06 L406.16 488.24 L407.13 485.01 L408.11 481.87 L409.08 478.09 L410.05 475.87 L411.02 473.21 L412.00 472.36 L412.97 471.59 L413.94 472.80 L414.91 474.51 L415.88 477.26 L416.86 480.21 L417.83 483.27 L418.80 486.43 L419.77 490.40 L420.75 492.82 L421.72 494.94 L422.69 496.69 L423.67 497.26 L424.64 497.95 L425.61 499.57 L426.58 499.84 L426.58 500.00 L397.41 500.00 Z" fill="#d6d6d6" fill-opacity="0.8"/>
<path d="M397.41 499.72 L398.38 499.51 L399.35 498.67 L400.33 498.63 L401.30 497.75 L402.27 496.86 L403.24 495.60 L404.22 493.31 L405.19 491.06 L406.16 488.24 L407.13 485.01 L408.11 481.87 L409.08 478.09 L410.05 475.87 L411.02 473.21 L412.00 472.36 L412.97 471.59 L413.94 472.80 L414.91 474.51 L415.88 477.26 L416.86 480.21 L417.83 483.27 L418.80 486.43 L419.77 490.40 L420.75 492.82 L421.72 494.94 L422.69 496.69 L423.67 497.26 L424.64 497.95 L425.61 499.57 L426.58 499.84" fill="none" stroke="#707070" stroke-width="0.8" stroke-linejoin="round"/>
<path d="M400.81 452.06 L401.30 451.91 L401.78 451.70 L402.27 451.44 L402.76 451.10 L403.24 450.68 L403.73 450.17 L404.22 449.54 L404.70 448.79 L405.19 447.90 L405.67 446.86 L406.16 445.67 L406.65 444.32 L407.13 442.82 L407.62 441.17 L408.11 439.41 L408.59 437.54 L409.08 435.61 L409.56 433.64 L410.05 431.69 L410.54 429.81 L411.02 428.05 L411.51 426.45 L412.00 425.07 L412.48 423.95 L412.97 423.14 L413.45 422.65 L413.94 422.50 L414.43 422.70 L414.91 423.25 L415.40 424.12 L415.88 425.28 L416.37 426.70 L416.86 428.33 L417.34 430.11 L417.83 432.01 L418.32 433.96 L418.80 435.93 L419.29 437.85 L419.77 439.71 L420.26 441.45 L420.75 443.07 L421.23 444.55 L421.72 445.87 L422.21 447.04 L422.69 448.05 L423.18 448.92 L423.67 449.65 L424.15 450.26 L424.64 450.76 L425.12 451.16 L425.61 451.48 L426.10 451.74 L426.58 451.93 L427.07 452.09" fill="none" stroke="#3a2a2a" stroke-width="1" stroke-dasharray="2 1.5"/>
<line x1="390.40" y1="500.00" x2="390.40" y2="502.40" stroke="#222" stroke-width="0.75"/>
<line x1="395.20" y1="500.00" x2="395.20" y2="502.40" stroke="#222" stroke-width="0.75"/>
<line x1="397.14" y1="500.00" x2="397.14" y2="502.40" stroke="#222" stroke-width="0.75"/>
<line x1="398.38" y1="500.00" x2="398.38" y2="504.00" stroke="#222" stroke-width="0.75"/>
<line x1="402.77" y1="500.00" x2="402.77" y2="503.60" stroke="#111" stroke-width="1.0"/>
<line x1="404.13" y1="500.00" x2="404.13" y2="503.60" stroke="#111" stroke-width="1.0"/>
<line x1="405.49" y1="500.00" x2="405.49" y2="503.60" stroke="#111" stroke-width="1.0"/>
<line x1="406.86" y1="500.00" x2="406.86" y2="503.60" stroke="#111" stroke-width="1.0"/>
<line x1="408.22" y1="500.00" x2="408.22" y2="503.60" stroke="#111" stroke-width="1.0"/>
<line x1="409.58" y1="500.00" x2="409.58" y2="503.60" stroke="#111" stroke-width="1.0"/>
<line x1="410.95" y1="500.00" x2="410.95" y2="503.60" stroke="#111" stroke-width="1.0"/>
<line x1="412.31" y1="500.00" x2="412.31" y2="503.60" stroke="#111" stroke-width="1.0"/>
<line x1="413.67" y1="500.00" x2="413.67" y2="503.60" stroke="#111" stroke-width="1.0"/>
<line x1="415.04" y1="500.00" x2="415.04" y2="503.60" stroke="#111" stroke-width="1.0"/>
<line x1="416.40" y1="500.00" x2="416.40" y2="503.60" stroke="#111" stroke-width="1.0"/>
<line x1="417.76" y1="500.00" x2="417.76" y2="503.60" stroke="#111" stroke-width="1.0"/>
<line x1="419.13" y1="500.00" x2="419.13" y2="503.60" stroke="#111" stroke-width="1.0"/>
<line x1="423.91" y1="500.00" x2="423.91" y2="502.40" stroke="#222" stroke-width="0.75"/>
<line x1="427.84" y1="500.00" x2="427.84" y2="502.40" stroke="#222" stroke-width="0.75"/>
<line x1="429.73" y1="500.00" x2="429.73" y2="502.40" stroke="#222" stroke-width="0.75"/>
<line x1="430.99" y1="500.00" x2="430.99" y2="502.40" stroke="#222" stroke-width="0.75"/>
<line x1="431.94" y1="500.00" x2="431.94" y2="502.40" stroke="#222" stroke-width="0.75"/>
<line x1="432.69" y1="500.00" x2="432.69" y2="504.00" stroke="#222" stroke-width="0.75"/>
<line x1="438.28" y1="500.00" x2="438.28" y2="502.40" stroke="#222" stroke-width="0.75"/>
<line x1="441.13" y1="500.00" x2="441.13" y2="502.40" stroke="#222" stroke-width="0.75"/>
<line x1="442.51" y1="500.00" x2="442.51" y2="502.40" stroke="#222" stroke-width="0.75"/>
<line x1="443.42" y1="500.00" x2="443.42" y2="502.40" stroke="#222" stroke-width="0.75"/>
<line x1="444.11" y1="500.00" x2="444.11" y2="502.40" stroke="#222" stroke-width="0.75"/>
<line x1="444.66" y1="500.00" x2="444.66" y2="504.00" stroke="#222" stroke-width="0.75"/>
<line x1="447.85" y1="500.00" x2="447.85" y2="502.40" stroke="#222" stroke-width="0.75"/>
<line x1="450.71" y1="500.00" x2="450.71" y2="502.40" stroke="#222" stroke-width="0.75"/>
<line x1="452.09" y1="500.00" x2="452.09" y2="502.40" stroke="#222" stroke-width="0.75"/>
<line x1="453.00" y1="500.00" x2="453.00" y2="502.40" stroke="#222" stroke-width="0.75"/>
<line x1="453.69" y1="500.00" x2="453.69" y2="502.40" stroke="#222" stroke-width="0.75"/>
<line x1="454.24" y1="500.00" x2="454.24" y2="504.00" stroke="#222" stroke-width="0.75"/>
<line x1="460.62" y1="500.00" x2="460.62" y2="502.40" stroke="#222" stroke-width="0.75"/>
<line x1="463.48" y1="500.00" x2="463.48" y2="502.40" stroke="#222" stroke-width="0.75"/>
<line x1="464.85" y1="500.00" x2="464.85" y2="502.40" stroke="#222" stroke-width="0.75"/>
<line x1="465.77" y1="500.00" x2="465.77" y2="502.40" stroke="#222" stroke-width="0.75"/>
<line x1="466.46" y1="500.00" x2="466.46" y2="502.40" stroke="#222" stroke-width="0.75"/>
<line x1="467.01" y1="500.00" x2="467.01" y2="504.00" stroke="#222" stroke-width="0.75"/>
<text x="391.00" y="519.80" font-size="11" transform="translate(391.00 519.80) scale(1 1.08) translate(-391.00 -519.80)">CXCR5</text>
<line x1="431.80" y1="515.30" x2="451.60" y2="515.30" stroke="#888" stroke-width="1"/>
<path d="M450.60 511.30 L458.10 515.30 L450.60 519.30 Z" fill="#000"/>
<text x="470.70" y="447.80" font-size="11.2" transform="translate(470.70 447.80) scale(1 1.08) translate(-470.70 -447.80)">FMO</text>
<text x="470.70" y="463.40" font-size="11.2" fill="#1f9595" transform="translate(470.70 463.40) scale(1 1.08) translate(-470.70 -463.40)">SP</text>
<text x="470.70" y="481.20" font-size="11.2" fill="#b0282e" transform="translate(470.70 481.20) scale(1 1.08) translate(-470.70 -481.20)">DP</text>
<text x="470.70" y="498.60" font-size="11.2" fill="#a8a8a8" transform="translate(470.70 498.60) scale(1 1.08) translate(-470.70 -498.60)">DN</text>
<text x="2.6" y="555.5" font-size="16.5" font-weight="bold" stroke="#000" stroke-width="0.8" transform="translate(2.6 555.5) scale(1.12 1) translate(-2.6 -555.5)">D</text>
<rect x="57.30" y="617.63" width="17.00" height="89.87" fill="#1a7a78" stroke="#111" stroke-width="1"/>
<rect x="84.50" y="618.92" width="17.20" height="88.58" fill="#7a0208" stroke="#111" stroke-width="1"/>
<rect x="111.90" y="625.43" width="17.20" height="82.07" fill="#d9d9d9" stroke="#111" stroke-width="1"/>
<circle cx="58.87" cy="615.80" r="2.1" fill="#5a6cc4"/>
<circle cx="63.01" cy="615.80" r="2.1" fill="#b865c8"/>
<circle cx="57.86" cy="616.72" r="2.1" fill="#5a6cc4"/>
<circle cx="62.32" cy="616.72" r="2.1" fill="#b865c8"/>
<circle cx="69.84" cy="617.63" r="2.1" fill="#5a6cc4"/>
<circle cx="68.90" cy="617.63" r="2.1" fill="#b865c8"/>
<circle cx="65.32" cy="618.55" r="2.1" fill="#b865c8"/>
<circle cx="69.86" cy="616.72" r="2.1" fill="#5a6cc4"/>
<circle cx="65.02" cy="617.63" r="2.1" fill="#b865c8"/>
<circle cx="71.63" cy="618.55" r="2.1" fill="#5a6cc4"/>
<circle cx="67.56" cy="615.80" r="2.1" fill="#b865c8"/>
<circle cx="60.03" cy="616.72" r="2.1" fill="#b865c8"/>
<circle cx="97.32" cy="615.80" r="2.1" fill="#5a6cc4"/>
<circle cx="95.42" cy="616.72" r="2.1" fill="#b865c8"/>
<circle cx="91.65" cy="616.72" r="2.1" fill="#5a6cc4"/>
<circle cx="88.27" cy="617.63" r="2.1" fill="#b865c8"/>
<circle cx="95.93" cy="617.63" r="2.1" fill="#5a6cc4"/>
<circle cx="100.61" cy="618.55" r="2.1" fill="#b865c8"/>
<circle cx="91.94" cy="619.47" r="2.1" fill="#b865c8"/>
<circle cx="98.71" cy="620.38" r="2.1" fill="#5a6cc4"/>
<circle cx="85.68" cy="621.30" r="2.1" fill="#b865c8"/>
<circle cx="93.54" cy="623.14" r="2.1" fill="#5a6cc4"/>
<circle cx="88.32" cy="622.22" r="2.1" fill="#b865c8"/>
<circle cx="93.01" cy="618.55" r="2.1" fill="#5a6cc4"/>
<circle cx="113.95" cy="618.55" r="2.1" fill="#5a6cc4"/>
<circle cx="125.97" cy="619.47" r="2.1" fill="#b865c8"/>
<circle cx="122.11" cy="620.38" r="2.1" fill="#5a6cc4"/>
<circle cx="115.90" cy="620.38" r="2.1" fill="#b865c8"/>
<circle cx="124.98" cy="622.22" r="2.1" fill="#5a6cc4"/>
<circle cx="122.01" cy="624.97" r="2.1" fill="#b865c8"/>
<circle cx="125.75" cy="625.89" r="2.1" fill="#5a6cc4"/>
<circle cx="122.29" cy="625.89" r="2.1" fill="#b865c8"/>
<circle cx="124.07" cy="629.55" r="2.1" fill="#5a6cc4"/>
<circle cx="124.90" cy="635.97" r="2.1" fill="#b865c8"/>
<circle cx="118.01" cy="637.81" r="2.1" fill="#b865c8"/>
<circle cx="114.03" cy="647.89" r="2.1" fill="#5a6cc4"/>
<line x1="46.50" y1="615.30" x2="46.50" y2="708.00" stroke="#222" stroke-width="1.3"/>
<line x1="45.90" y1="707.50" x2="138.90" y2="707.50" stroke="#222" stroke-width="1.3"/>
<line x1="44.00" y1="707.50" x2="46.50" y2="707.50" stroke="#222" stroke-width="1.2"/>
<text x="42.00" y="711.80" font-size="12.3" text-anchor="end" transform="translate(42.00 711.80) scale(1 1.08) translate(-42.00 -711.80)">0</text>
<line x1="44.00" y1="689.16" x2="46.50" y2="689.16" stroke="#222" stroke-width="1.2"/>
<text x="42.00" y="693.46" font-size="12.3" text-anchor="end" transform="translate(42.00 693.46) scale(1 1.08) translate(-42.00 -693.46)">20</text>
<line x1="44.00" y1="670.82" x2="46.50" y2="670.82" stroke="#222" stroke-width="1.2"/>
<text x="42.00" y="675.12" font-size="12.3" text-anchor="end" transform="translate(42.00 675.12) scale(1 1.08) translate(-42.00 -675.12)">40</text>
<line x1="44.00" y1="652.48" x2="46.50" y2="652.48" stroke="#222" stroke-width="1.2"/>
<text x="42.00" y="656.78" font-size="12.3" text-anchor="end" transform="translate(42.00 656.78) scale(1 1.08) translate(-42.00 -656.78)">60</text>
<line x1="44.00" y1="634.14" x2="46.50" y2="634.14" stroke="#222" stroke-width="1.2"/>
<text x="42.00" y="638.44" font-size="12.3" text-anchor="end" transform="translate(42.00 638.44) scale(1 1.08) translate(-42.00 -638.44)">80</text>
<line x1="44.00" y1="615.80" x2="46.50" y2="615.80" stroke="#222" stroke-width="1.2"/>
<text x="42.00" y="620.10" font-size="12.3" text-anchor="end" transform="translate(42.00 620.10) scale(1 1.08) translate(-42.00 -620.10)">100</text>
<line x1="65.80" y1="707.50" x2="65.80" y2="710.00" stroke="#222" stroke-width="1.2"/>
<line x1="93.10" y1="707.50" x2="93.10" y2="710.00" stroke="#222" stroke-width="1.2"/>
<line x1="120.50" y1="707.50" x2="120.50" y2="710.00" stroke="#222" stroke-width="1.2"/>
<text x="68.80" y="718.30" font-size="11.2" text-anchor="end" transform="rotate(-45 68.80 718.30) translate(68.80 718.30) scale(1 1.08) translate(-68.80 -718.30)">SP</text>
<text x="96.10" y="718.30" font-size="11.2" text-anchor="end" transform="rotate(-45 96.10 718.30) translate(96.10 718.30) scale(1 1.08) translate(-96.10 -718.30)">DP</text>
<text x="123.50" y="718.30" font-size="11.2" text-anchor="end" transform="rotate(-45 123.50 718.30) translate(123.50 718.30) scale(1 1.08) translate(-123.50 -718.30)">DN</text>
<text x="91.60" y="564.30" font-size="13.5" text-anchor="middle" transform="translate(91.60 564.30) scale(1 1.08) translate(-91.60 -564.30)">CCR5</text>
<text x="15.50" y="662.00" font-size="12.2" text-anchor="middle" transform="rotate(-90 15.50 662.00) translate(15.50 662.00) scale(1 1.08) translate(-15.50 -662.00)">CCR5 (%)</text>
<path d="M65.10 598.60 L65.10 581.50 L120.90 581.50 L120.90 598.60" fill="none" stroke="#222" stroke-width="1.2" stroke-linejoin="miter"/>
<text x="92.90" y="584.30" font-size="16" text-anchor="middle" font-weight="bold" transform="translate(92.90 584.30) scale(1 1.08) translate(-92.90 -584.30)">****</text>
<path d="M65.10 610.30 L65.10 603.80 L91.50 603.80 L91.50 610.30" fill="none" stroke="#222" stroke-width="1.2" stroke-linejoin="miter"/>
<text x="78.20" y="599.00" font-size="9" text-anchor="middle" transform="translate(78.20 599.00) scale(1 1.08) translate(-78.20 -599.00)">ns</text>
<path d="M94.90 610.30 L94.90 603.80 L120.90 603.80 L120.90 613.20" fill="none" stroke="#222" stroke-width="1.2" stroke-linejoin="miter"/>
<text x="107.60" y="606.00" font-size="16" text-anchor="middle" font-weight="bold" transform="translate(107.60 606.00) scale(1 1.08) translate(-107.60 -606.00)">*</text>
<rect x="207.30" y="688.08" width="17.40" height="12.82" fill="#1a7a78" stroke="#111" stroke-width="1"/>
<rect x="234.70" y="680.75" width="17.40" height="20.15" fill="#7a0208" stroke="#111" stroke-width="1"/>
<rect x="262.00" y="699.07" width="17.00" height="1.83" fill="#d9d9d9" stroke="#111" stroke-width="1"/>
<circle cx="217.04" cy="660.60" r="2.1" fill="#b865c8"/>
<circle cx="219.85" cy="666.09" r="2.1" fill="#5a6cc4"/>
<circle cx="208.34" cy="667.01" r="2.1" fill="#b865c8"/>
<circle cx="222.13" cy="684.41" r="2.1" fill="#b865c8"/>
<circle cx="218.11" cy="687.16" r="2.1" fill="#5a6cc4"/>
<circle cx="218.43" cy="687.16" r="2.1" fill="#5a6cc4"/>
<circle cx="221.53" cy="688.08" r="2.1" fill="#5a6cc4"/>
<circle cx="213.49" cy="689.91" r="2.1" fill="#b865c8"/>
<circle cx="220.79" cy="692.66" r="2.1" fill="#5a6cc4"/>
<circle cx="218.84" cy="693.57" r="2.1" fill="#b865c8"/>
<circle cx="210.11" cy="695.40" r="2.1" fill="#b865c8"/>
<circle cx="219.32" cy="697.24" r="2.1" fill="#5a6cc4"/>
<circle cx="241.74" cy="642.28" r="2.1" fill="#5a6cc4"/>
<circle cx="251.12" cy="644.11" r="2.1" fill="#b865c8"/>
<circle cx="246.69" cy="644.11" r="2.1" fill="#b865c8"/>
<circle cx="236.35" cy="678.92" r="2.1" fill="#b865c8"/>
<circle cx="244.34" cy="678.00" r="2.1" fill="#b865c8"/>
<circle cx="237.89" cy="679.83" r="2.1" fill="#5a6cc4"/>
<circle cx="236.13" cy="680.75" r="2.1" fill="#5a6cc4"/>
<circle cx="248.60" cy="682.58" r="2.1" fill="#5a6cc4"/>
<circle cx="251.19" cy="687.16" r="2.1" fill="#5a6cc4"/>
<circle cx="243.75" cy="688.08" r="2.1" fill="#5a6cc4"/>
<circle cx="245.64" cy="688.99" r="2.1" fill="#5a6cc4"/>
<circle cx="264.93" cy="685.33" r="2.1" fill="#b865c8"/>
<circle cx="266.03" cy="694.49" r="2.1" fill="#b865c8"/>
<circle cx="262.82" cy="697.24" r="2.1" fill="#b865c8"/>
<circle cx="269.16" cy="698.15" r="2.1" fill="#5a6cc4"/>
<circle cx="270.67" cy="698.15" r="2.1" fill="#5a6cc4"/>
<circle cx="267.45" cy="699.07" r="2.1" fill="#b865c8"/>
<circle cx="268.06" cy="699.07" r="2.1" fill="#5a6cc4"/>
<circle cx="270.84" cy="699.98" r="2.1" fill="#5a6cc4"/>
<circle cx="266.00" cy="699.98" r="2.1" fill="#5a6cc4"/>
<circle cx="267.88" cy="700.44" r="2.1" fill="#b865c8"/>
<circle cx="271.31" cy="699.98" r="2.1" fill="#5a6cc4"/>
<line x1="196.90" y1="608.80" x2="196.90" y2="701.40" stroke="#222" stroke-width="1.3"/>
<line x1="196.30" y1="700.90" x2="288.90" y2="700.90" stroke="#222" stroke-width="1.3"/>
<line x1="194.40" y1="700.90" x2="196.90" y2="700.90" stroke="#222" stroke-width="1.2"/>
<text x="192.40" y="705.20" font-size="12.3" text-anchor="end" transform="translate(192.40 705.20) scale(1 1.08) translate(-192.40 -705.20)">0</text>
<line x1="194.40" y1="682.58" x2="196.90" y2="682.58" stroke="#222" stroke-width="1.2"/>
<text x="192.40" y="686.88" font-size="12.3" text-anchor="end" transform="translate(192.40 686.88) scale(1 1.08) translate(-192.40 -686.88)">20</text>
<line x1="194.40" y1="664.26" x2="196.90" y2="664.26" stroke="#222" stroke-width="1.2"/>
<text x="192.40" y="668.56" font-size="12.3" text-anchor="end" transform="translate(192.40 668.56) scale(1 1.08) translate(-192.40 -668.56)">40</text>
<line x1="194.40" y1="645.94" x2="196.90" y2="645.94" stroke="#222" stroke-width="1.2"/>
<text x="192.40" y="650.24" font-size="12.3" text-anchor="end" transform="translate(192.40 650.24) scale(1 1.08) translate(-192.40 -650.24)">60</text>
<line x1="194.40" y1="627.62" x2="196.90" y2="627.62" stroke="#222" stroke-width="1.2"/>
<text x="192.40" y="631.92" font-size="12.3" text-anchor="end" transform="translate(192.40 631.92) scale(1 1.08) translate(-192.40 -631.92)">80</text>
<line x1="194.40" y1="609.30" x2="196.90" y2="609.30" stroke="#222" stroke-width="1.2"/>
<text x="192.40" y="613.60" font-size="12.3" text-anchor="end" transform="translate(192.40 613.60) scale(1 1.08) translate(-192.40 -613.60)">100</text>
<line x1="216.00" y1="700.90" x2="216.00" y2="703.40" stroke="#222" stroke-width="1.2"/>
<line x1="243.40" y1="700.90" x2="243.40" y2="703.40" stroke="#222" stroke-width="1.2"/>
<line x1="270.50" y1="700.90" x2="270.50" y2="703.40" stroke="#222" stroke-width="1.2"/>
<text x="219.00" y="711.70" font-size="11.2" text-anchor="end" transform="rotate(-45 219.00 711.70) translate(219.00 711.70) scale(1 1.08) translate(-219.00 -711.70)">SP</text>
<text x="246.40" y="711.70" font-size="11.2" text-anchor="end" transform="rotate(-45 246.40 711.70) translate(246.40 711.70) scale(1 1.08) translate(-246.40 -711.70)">DP</text>
<text x="273.50" y="711.70" font-size="11.2" text-anchor="end" transform="rotate(-45 273.50 711.70) translate(273.50 711.70) scale(1 1.08) translate(-273.50 -711.70)">DN</text>
<text x="239.80" y="564.30" font-size="13.5" text-anchor="middle" transform="translate(239.80 564.30) scale(1 1.08) translate(-239.80 -564.30)">CXCR6</text>
<text x="166.50" y="655.30" font-size="12.2" text-anchor="middle" transform="rotate(-90 166.50 655.30) translate(166.50 655.30) scale(1 1.08) translate(-166.50 -655.30)">CXCR6 (%)</text>
<path d="M215.50 654.30 L215.50 608.30 L271.30 608.30 L271.30 617.10" fill="none" stroke="#222" stroke-width="1.2" stroke-linejoin="miter"/>
<text x="243.50" y="610.30" font-size="16" text-anchor="middle" font-weight="bold" transform="translate(243.50 610.30) scale(1 1.08) translate(-243.50 -610.30)">*</text>
<path d="M215.50 654.30 L215.50 630.20 L241.50 630.20 L241.50 636.70" fill="none" stroke="#222" stroke-width="1.2" stroke-linejoin="miter"/>
<text x="229.20" y="626.00" font-size="9" text-anchor="middle" transform="translate(229.20 626.00) scale(1 1.08) translate(-229.20 -626.00)">ns</text>
<path d="M244.90 636.70 L244.90 630.20 L271.30 630.20 L271.30 684.60" fill="none" stroke="#222" stroke-width="1.2" stroke-linejoin="miter"/>
<text x="258.20" y="633.20" font-size="16" text-anchor="middle" font-weight="bold" transform="translate(258.20 633.20) scale(1 1.08) translate(-258.20 -633.20)">****</text>
<rect x="357.10" y="614.32" width="17.40" height="84.98" fill="#1a7a78" stroke="#111" stroke-width="1"/>
<rect x="384.30" y="634.21" width="17.20" height="65.09" fill="#7a0208" stroke="#111" stroke-width="1"/>
<rect x="411.30" y="617.49" width="17.20" height="81.81" fill="#d9d9d9" stroke="#111" stroke-width="1"/>
<circle cx="361.73" cy="609.80" r="2.1" fill="#5a6cc4"/>
<circle cx="359.30" cy="609.80" r="2.1" fill="#5a6cc4"/>
<circle cx="362.29" cy="610.71" r="2.1" fill="#b865c8"/>
<circle cx="370.95" cy="611.61" r="2.1" fill="#b865c8"/>
<circle cx="361.50" cy="612.52" r="2.1" fill="#5a6cc4"/>
<circle cx="370.01" cy="613.42" r="2.1" fill="#b865c8"/>
<circle cx="363.48" cy="614.32" r="2.1" fill="#5a6cc4"/>
<circle cx="365.02" cy="615.23" r="2.1" fill="#b865c8"/>
<circle cx="369.05" cy="617.04" r="2.1" fill="#5a6cc4"/>
<circle cx="358.84" cy="617.94" r="2.1" fill="#b865c8"/>
<circle cx="371.54" cy="619.75" r="2.1" fill="#b865c8"/>
<circle cx="367.84" cy="618.84" r="2.1" fill="#5a6cc4"/>
<circle cx="397.36" cy="612.52" r="2.1" fill="#5a6cc4"/>
<circle cx="388.66" cy="617.94" r="2.1" fill="#5a6cc4"/>
<circle cx="389.80" cy="625.17" r="2.1" fill="#b865c8"/>
<circle cx="385.37" cy="628.79" r="2.1" fill="#5a6cc4"/>
<circle cx="388.47" cy="629.69" r="2.1" fill="#b865c8"/>
<circle cx="396.74" cy="632.40" r="2.1" fill="#b865c8"/>
<circle cx="391.96" cy="634.21" r="2.1" fill="#b865c8"/>
<circle cx="386.10" cy="634.21" r="2.1" fill="#5a6cc4"/>
<circle cx="385.16" cy="637.83" r="2.1" fill="#5a6cc4"/>
<circle cx="399.88" cy="647.77" r="2.1" fill="#b865c8"/>
<circle cx="386.04" cy="650.48" r="2.1" fill="#5a6cc4"/>
<circle cx="392.75" cy="666.76" r="2.1" fill="#b865c8"/>
<circle cx="417.21" cy="611.61" r="2.1" fill="#5a6cc4"/>
<circle cx="418.94" cy="612.52" r="2.1" fill="#b865c8"/>
<circle cx="418.17" cy="613.42" r="2.1" fill="#5a6cc4"/>
<circle cx="420.42" cy="614.32" r="2.1" fill="#b865c8"/>
<circle cx="419.94" cy="615.23" r="2.1" fill="#b865c8"/>
<circle cx="422.69" cy="616.13" r="2.1" fill="#5a6cc4"/>
<circle cx="424.31" cy="618.84" r="2.1" fill="#5a6cc4"/>
<circle cx="420.45" cy="619.75" r="2.1" fill="#5a6cc4"/>
<circle cx="422.53" cy="621.56" r="2.1" fill="#b865c8"/>
<circle cx="424.32" cy="623.36" r="2.1" fill="#5a6cc4"/>
<circle cx="421.85" cy="636.02" r="2.1" fill="#b865c8"/>
<circle cx="427.35" cy="638.73" r="2.1" fill="#5a6cc4"/>
<line x1="346.70" y1="608.40" x2="346.70" y2="699.80" stroke="#222" stroke-width="1.3"/>
<line x1="346.10" y1="699.30" x2="437.70" y2="699.30" stroke="#222" stroke-width="1.3"/>
<line x1="344.20" y1="699.30" x2="346.70" y2="699.30" stroke="#222" stroke-width="1.2"/>
<text x="342.20" y="703.60" font-size="12.3" text-anchor="end" transform="translate(342.20 703.60) scale(1 1.08) translate(-342.20 -703.60)">0</text>
<line x1="344.20" y1="681.22" x2="346.70" y2="681.22" stroke="#222" stroke-width="1.2"/>
<text x="342.20" y="685.52" font-size="12.3" text-anchor="end" transform="translate(342.20 685.52) scale(1 1.08) translate(-342.20 -685.52)">20</text>
<line x1="344.20" y1="663.14" x2="346.70" y2="663.14" stroke="#222" stroke-width="1.2"/>
<text x="342.20" y="667.44" font-size="12.3" text-anchor="end" transform="translate(342.20 667.44) scale(1 1.08) translate(-342.20 -667.44)">40</text>
<line x1="344.20" y1="645.06" x2="346.70" y2="645.06" stroke="#222" stroke-width="1.2"/>
<text x="342.20" y="649.36" font-size="12.3" text-anchor="end" transform="translate(342.20 649.36) scale(1 1.08) translate(-342.20 -649.36)">60</text>
<line x1="344.20" y1="626.98" x2="346.70" y2="626.98" stroke="#222" stroke-width="1.2"/>
<text x="342.20" y="631.28" font-size="12.3" text-anchor="end" transform="translate(342.20 631.28) scale(1 1.08) translate(-342.20 -631.28)">80</text>
<line x1="344.20" y1="608.90" x2="346.70" y2="608.90" stroke="#222" stroke-width="1.2"/>
<text x="342.20" y="613.20" font-size="12.3" text-anchor="end" transform="translate(342.20 613.20) scale(1 1.08) translate(-342.20 -613.20)">100</text>
<line x1="365.80" y1="699.30" x2="365.80" y2="701.80" stroke="#222" stroke-width="1.2"/>
<line x1="392.90" y1="699.30" x2="392.90" y2="701.80" stroke="#222" stroke-width="1.2"/>
<line x1="419.90" y1="699.30" x2="419.90" y2="701.80" stroke="#222" stroke-width="1.2"/>
<text x="368.80" y="710.10" font-size="11.2" text-anchor="end" transform="rotate(-45 368.80 710.10) translate(368.80 710.10) scale(1 1.08) translate(-368.80 -710.10)">SP</text>
<text x="395.90" y="710.10" font-size="11.2" text-anchor="end" transform="rotate(-45 395.90 710.10) translate(395.90 710.10) scale(1 1.08) translate(-395.90 -710.10)">DP</text>
<text x="422.90" y="710.10" font-size="11.2" text-anchor="end" transform="rotate(-45 422.90 710.10) translate(422.90 710.10) scale(1 1.08) translate(-422.90 -710.10)">DN</text>
<text x="388.80" y="564.30" font-size="13.5" text-anchor="middle" transform="translate(388.80 564.30) scale(1 1.08) translate(-388.80 -564.30)">CXCR3</text>
<text x="316.30" y="654.80" font-size="12.2" text-anchor="middle" transform="rotate(-90 316.30 654.80) translate(316.30 654.80) scale(1 1.08) translate(-316.30 -654.80)">CXCR3 (%)</text>
<path d="M365.30 583.90 L365.30 575.70 L419.70 575.70 L419.70 592.70" fill="none" stroke="#222" stroke-width="1.2" stroke-linejoin="miter"/>
<text x="393.10" y="571.50" font-size="9" text-anchor="middle" transform="translate(393.10 571.50) scale(1 1.08) translate(-393.10 -571.50)">ns</text>
<path d="M365.30 603.50 L365.30 598.00 L391.10 598.00 L391.10 607.40" fill="none" stroke="#222" stroke-width="1.2" stroke-linejoin="miter"/>
<text x="378.00" y="599.50" font-size="16" text-anchor="middle" font-weight="bold" transform="translate(378.00 599.50) scale(1 1.08) translate(-378.00 -599.50)">***</text>
<path d="M394.00 607.40 L394.00 598.00 L419.70 598.00 L419.70 604.40" fill="none" stroke="#222" stroke-width="1.2" stroke-linejoin="miter"/>
<text x="407.30" y="593.00" font-size="9" text-anchor="middle" transform="translate(407.30 593.00) scale(1 1.08) translate(-407.30 -593.00)">ns</text>
<rect x="508.10" y="624.60" width="17.40" height="74.70" fill="#1a7a78" stroke="#111" stroke-width="1"/>
<rect x="535.20" y="636.30" width="17.30" height="63.00" fill="#7a0208" stroke="#111" stroke-width="1"/>
<rect x="562.20" y="620.10" width="17.20" height="79.20" fill="#d9d9d9" stroke="#111" stroke-width="1"/>
<circle cx="522.47" cy="612.90" r="2.1" fill="#5a6cc4"/>
<circle cx="524.19" cy="615.60" r="2.1" fill="#b865c8"/>
<circle cx="521.96" cy="615.60" r="2.1" fill="#5a6cc4"/>
<circle cx="522.56" cy="616.50" r="2.1" fill="#b865c8"/>
<circle cx="524.77" cy="621.90" r="2.1" fill="#b865c8"/>
<circle cx="520.85" cy="622.80" r="2.1" fill="#5a6cc4"/>
<circle cx="523.54" cy="624.60" r="2.1" fill="#b865c8"/>
<circle cx="512.50" cy="624.60" r="2.1" fill="#5a6cc4"/>
<circle cx="521.23" cy="629.10" r="2.1" fill="#b865c8"/>
<circle cx="517.91" cy="634.50" r="2.1" fill="#5a6cc4"/>
<circle cx="513.74" cy="636.30" r="2.1" fill="#b865c8"/>
<circle cx="516.11" cy="639.00" r="2.1" fill="#5a6cc4"/>
<circle cx="540.40" cy="617.40" r="2.1" fill="#b865c8"/>
<circle cx="539.63" cy="621.00" r="2.1" fill="#5a6cc4"/>
<circle cx="537.19" cy="621.90" r="2.1" fill="#5a6cc4"/>
<circle cx="549.59" cy="625.50" r="2.1" fill="#b865c8"/>
<circle cx="540.25" cy="629.10" r="2.1" fill="#5a6cc4"/>
<circle cx="540.39" cy="631.80" r="2.1" fill="#b865c8"/>
<circle cx="550.97" cy="639.00" r="2.1" fill="#b865c8"/>
<circle cx="542.60" cy="645.30" r="2.1" fill="#b865c8"/>
<circle cx="543.90" cy="648.90" r="2.1" fill="#5a6cc4"/>
<circle cx="537.86" cy="648.90" r="2.1" fill="#5a6cc4"/>
<circle cx="540.22" cy="675.00" r="2.1" fill="#5a6cc4"/>
<circle cx="541.69" cy="680.40" r="2.1" fill="#b865c8"/>
<circle cx="573.72" cy="610.20" r="2.1" fill="#5a6cc4"/>
<circle cx="572.85" cy="611.10" r="2.1" fill="#5a6cc4"/>
<circle cx="571.20" cy="612.00" r="2.1" fill="#b865c8"/>
<circle cx="575.60" cy="612.90" r="2.1" fill="#b865c8"/>
<circle cx="570.55" cy="613.80" r="2.1" fill="#5a6cc4"/>
<circle cx="566.07" cy="615.60" r="2.1" fill="#b865c8"/>
<circle cx="576.13" cy="622.80" r="2.1" fill="#5a6cc4"/>
<circle cx="567.10" cy="625.50" r="2.1" fill="#b865c8"/>
<circle cx="573.89" cy="625.50" r="2.1" fill="#b865c8"/>
<circle cx="574.25" cy="630.90" r="2.1" fill="#5a6cc4"/>
<circle cx="564.03" cy="649.80" r="2.1" fill="#b865c8"/>
<circle cx="573.63" cy="659.70" r="2.1" fill="#5a6cc4"/>
<line x1="497.70" y1="608.80" x2="497.70" y2="699.80" stroke="#222" stroke-width="1.3"/>
<line x1="497.10" y1="699.30" x2="588.60" y2="699.30" stroke="#222" stroke-width="1.3"/>
<line x1="495.20" y1="699.30" x2="497.70" y2="699.30" stroke="#222" stroke-width="1.2"/>
<text x="493.20" y="703.60" font-size="12.3" text-anchor="end" transform="translate(493.20 703.60) scale(1 1.08) translate(-493.20 -703.60)">0</text>
<line x1="495.20" y1="681.30" x2="497.70" y2="681.30" stroke="#222" stroke-width="1.2"/>
<text x="493.20" y="685.60" font-size="12.3" text-anchor="end" transform="translate(493.20 685.60) scale(1 1.08) translate(-493.20 -685.60)">20</text>
<line x1="495.20" y1="663.30" x2="497.70" y2="663.30" stroke="#222" stroke-width="1.2"/>
<text x="493.20" y="667.60" font-size="12.3" text-anchor="end" transform="translate(493.20 667.60) scale(1 1.08) translate(-493.20 -667.60)">40</text>
<line x1="495.20" y1="645.30" x2="497.70" y2="645.30" stroke="#222" stroke-width="1.2"/>
<text x="493.20" y="649.60" font-size="12.3" text-anchor="end" transform="translate(493.20 649.60) scale(1 1.08) translate(-493.20 -649.60)">60</text>
<line x1="495.20" y1="627.30" x2="497.70" y2="627.30" stroke="#222" stroke-width="1.2"/>
<text x="493.20" y="631.60" font-size="12.3" text-anchor="end" transform="translate(493.20 631.60) scale(1 1.08) translate(-493.20 -631.60)">80</text>
<line x1="495.20" y1="609.30" x2="497.70" y2="609.30" stroke="#222" stroke-width="1.2"/>
<text x="493.20" y="613.60" font-size="12.3" text-anchor="end" transform="translate(493.20 613.60) scale(1 1.08) translate(-493.20 -613.60)">100</text>
<line x1="516.80" y1="699.30" x2="516.80" y2="701.80" stroke="#222" stroke-width="1.2"/>
<line x1="543.85" y1="699.30" x2="543.85" y2="701.80" stroke="#222" stroke-width="1.2"/>
<line x1="570.80" y1="699.30" x2="570.80" y2="701.80" stroke="#222" stroke-width="1.2"/>
<text x="519.80" y="710.10" font-size="11.2" text-anchor="end" transform="rotate(-45 519.80 710.10) translate(519.80 710.10) scale(1 1.08) translate(-519.80 -710.10)">SP</text>
<text x="546.85" y="710.10" font-size="11.2" text-anchor="end" transform="rotate(-45 546.85 710.10) translate(546.85 710.10) scale(1 1.08) translate(-546.85 -710.10)">DP</text>
<text x="573.80" y="710.10" font-size="11.2" text-anchor="end" transform="rotate(-45 573.80 710.10) translate(573.80 710.10) scale(1 1.08) translate(-573.80 -710.10)">DN</text>
<text x="540.50" y="564.30" font-size="13.5" text-anchor="middle" transform="translate(540.50 564.30) scale(1 1.08) translate(-540.50 -564.30)">CXCR4</text>
<text x="467.30" y="654.80" font-size="12.2" text-anchor="middle" transform="rotate(-90 467.30 654.80) translate(467.30 654.80) scale(1 1.08) translate(-467.30 -654.80)">CXCR4 (%)</text>
<path d="M516.30 592.70 L516.30 578.00 L570.60 578.00 L570.60 592.70" fill="none" stroke="#222" stroke-width="1.2" stroke-linejoin="miter"/>
<text x="543.70" y="572.50" font-size="9" text-anchor="middle" transform="translate(543.70 572.50) scale(1 1.08) translate(-543.70 -572.50)">ns</text>
<path d="M516.30 606.40 L516.30 598.00 L542.10 598.00 L542.10 611.30" fill="none" stroke="#222" stroke-width="1.2" stroke-linejoin="miter"/>
<text x="529.00" y="600.50" font-size="16" text-anchor="middle" font-weight="bold" transform="translate(529.00 600.50) scale(1 1.08) translate(-529.00 -600.50)">*</text>
<path d="M545.20 611.30 L545.20 598.00 L570.60 598.00 L570.60 608.30" fill="none" stroke="#222" stroke-width="1.2" stroke-linejoin="miter"/>
<text x="558.30" y="600.50" font-size="16" text-anchor="middle" font-weight="bold" transform="translate(558.30 600.50) scale(1 1.08) translate(-558.30 -600.50)">**</text>
<rect x="652.20" y="683.19" width="19.00" height="17.71" fill="#1a7a78" stroke="#111" stroke-width="1"/>
<rect x="681.50" y="691.74" width="18.60" height="9.16" fill="#7a0208" stroke="#111" stroke-width="1"/>
<rect x="710.30" y="683.80" width="19.00" height="17.10" fill="#d9d9d9" stroke="#111" stroke-width="1"/>
<circle cx="665.09" cy="630.67" r="2.1" fill="#b865c8"/>
<circle cx="666.26" cy="664.26" r="2.1" fill="#5a6cc4"/>
<circle cx="659.07" cy="668.84" r="2.1" fill="#b865c8"/>
<circle cx="665.33" cy="670.37" r="2.1" fill="#5a6cc4"/>
<circle cx="665.50" cy="669.45" r="2.1" fill="#b865c8"/>
<circle cx="656.95" cy="678.92" r="2.1" fill="#5a6cc4"/>
<circle cx="664.39" cy="687.16" r="2.1" fill="#b865c8"/>
<circle cx="662.52" cy="687.16" r="2.1" fill="#5a6cc4"/>
<circle cx="655.66" cy="694.79" r="2.1" fill="#5a6cc4"/>
<circle cx="657.38" cy="695.40" r="2.1" fill="#b865c8"/>
<circle cx="657.51" cy="698.76" r="2.1" fill="#b865c8"/>
<circle cx="659.04" cy="698.46" r="2.1" fill="#b865c8"/>
<circle cx="687.84" cy="650.52" r="2.1" fill="#b865c8"/>
<circle cx="690.73" cy="664.26" r="2.1" fill="#b865c8"/>
<circle cx="699.11" cy="667.92" r="2.1" fill="#5a6cc4"/>
<circle cx="693.04" cy="677.08" r="2.1" fill="#5a6cc4"/>
<circle cx="691.04" cy="681.66" r="2.1" fill="#b865c8"/>
<circle cx="695.76" cy="687.16" r="2.1" fill="#5a6cc4"/>
<circle cx="681.81" cy="697.24" r="2.1" fill="#5a6cc4"/>
<circle cx="686.40" cy="697.85" r="2.1" fill="#5a6cc4"/>
<circle cx="685.58" cy="697.85" r="2.1" fill="#5a6cc4"/>
<circle cx="692.71" cy="698.46" r="2.1" fill="#b865c8"/>
<circle cx="688.63" cy="695.40" r="2.1" fill="#b865c8"/>
<circle cx="697.06" cy="699.37" r="2.1" fill="#b865c8"/>
<circle cx="728.40" cy="646.55" r="2.1" fill="#b865c8"/>
<circle cx="720.26" cy="664.26" r="2.1" fill="#5a6cc4"/>
<circle cx="718.44" cy="673.42" r="2.1" fill="#b865c8"/>
<circle cx="718.91" cy="675.86" r="2.1" fill="#5a6cc4"/>
<circle cx="716.31" cy="681.05" r="2.1" fill="#b865c8"/>
<circle cx="715.52" cy="683.19" r="2.1" fill="#5a6cc4"/>
<circle cx="710.87" cy="683.19" r="2.1" fill="#5a6cc4"/>
<circle cx="717.39" cy="684.72" r="2.1" fill="#b865c8"/>
<circle cx="716.45" cy="691.13" r="2.1" fill="#5a6cc4"/>
<circle cx="722.97" cy="693.27" r="2.1" fill="#b865c8"/>
<circle cx="714.61" cy="694.79" r="2.1" fill="#5a6cc4"/>
<circle cx="723.57" cy="697.24" r="2.1" fill="#b865c8"/>
<line x1="642.40" y1="608.80" x2="642.40" y2="701.40" stroke="#222" stroke-width="1.3"/>
<line x1="641.80" y1="700.90" x2="734.70" y2="700.90" stroke="#222" stroke-width="1.3"/>
<line x1="639.90" y1="700.90" x2="642.40" y2="700.90" stroke="#222" stroke-width="1.2"/>
<text x="637.90" y="705.20" font-size="12.3" text-anchor="end" transform="translate(637.90 705.20) scale(1 1.08) translate(-637.90 -705.20)">0</text>
<line x1="639.90" y1="670.37" x2="642.40" y2="670.37" stroke="#222" stroke-width="1.2"/>
<text x="637.90" y="674.67" font-size="12.3" text-anchor="end" transform="translate(637.90 674.67) scale(1 1.08) translate(-637.90 -674.67)">10</text>
<line x1="639.90" y1="639.83" x2="642.40" y2="639.83" stroke="#222" stroke-width="1.2"/>
<text x="637.90" y="644.13" font-size="12.3" text-anchor="end" transform="translate(637.90 644.13) scale(1 1.08) translate(-637.90 -644.13)">20</text>
<line x1="639.90" y1="609.30" x2="642.40" y2="609.30" stroke="#222" stroke-width="1.2"/>
<text x="637.90" y="613.60" font-size="12.3" text-anchor="end" transform="translate(637.90 613.60) scale(1 1.08) translate(-637.90 -613.60)">30</text>
<line x1="661.70" y1="700.90" x2="661.70" y2="703.40" stroke="#222" stroke-width="1.2"/>
<line x1="690.80" y1="700.90" x2="690.80" y2="703.40" stroke="#222" stroke-width="1.2"/>
<line x1="719.80" y1="700.90" x2="719.80" y2="703.40" stroke="#222" stroke-width="1.2"/>
<text x="664.70" y="711.70" font-size="11.2" text-anchor="end" transform="rotate(-45 664.70 711.70) translate(664.70 711.70) scale(1 1.08) translate(-664.70 -711.70)">SP</text>
<text x="693.80" y="711.70" font-size="11.2" text-anchor="end" transform="rotate(-45 693.80 711.70) translate(693.80 711.70) scale(1 1.08) translate(-693.80 -711.70)">DP</text>
<text x="722.80" y="711.70" font-size="11.2" text-anchor="end" transform="rotate(-45 722.80 711.70) translate(722.80 711.70) scale(1 1.08) translate(-722.80 -711.70)">DN</text>
<text x="688.10" y="564.30" font-size="13.5" text-anchor="middle" transform="translate(688.10 564.30) scale(1 1.08) translate(-688.10 -564.30)">CXCR5</text>
<text x="618.20" y="654.80" font-size="12.2" text-anchor="middle" transform="rotate(-90 618.20 654.80) translate(618.20 654.80) scale(1 1.08) translate(-618.20 -654.80)">CXCR5 (%)</text>
<path d="M661.40 612.30 L661.40 596.20 L720.00 596.20 L720.00 612.30" fill="none" stroke="#222" stroke-width="1.2" stroke-linejoin="miter"/>
<text x="691.10" y="591.00" font-size="9" text-anchor="middle" transform="translate(691.10 591.00) scale(1 1.08) translate(-691.10 -591.00)">ns</text>
<path d="M661.40 624.00 L661.40 618.10 L688.80 618.10 L688.80 645.50" fill="none" stroke="#222" stroke-width="1.2" stroke-linejoin="miter"/>
<text x="675.50" y="613.50" font-size="9" text-anchor="middle" transform="translate(675.50 613.50) scale(1 1.08) translate(-675.50 -613.50)">ns</text>
<path d="M692.70 645.50 L692.70 618.10 L720.00 618.10 L720.00 640.60" fill="none" stroke="#222" stroke-width="1.2" stroke-linejoin="miter"/>
<text x="706.40" y="613.50" font-size="9" text-anchor="middle" transform="translate(706.40 613.50) scale(1 1.08) translate(-706.40 -613.50)">ns</text>
<text x="8.60" y="741.50" font-size="13.6" transform="translate(8.60 741.50) scale(1 1.08) translate(-8.60 -741.50)">CD8<tspan dy="-5" font-size="10.5">+</tspan><tspan dy="5"> T cells in <tspan fill="#5566c0">Central</tspan> and <tspan fill="#b566c4">Peripheral</tspan> Tissues</tspan></text>
<line x1="303.00" y1="738.20" x2="701.30" y2="738.20" stroke="#777" stroke-width="1.3"/>
<path d="M700.30 734.00 L708.50 738.20 L700.30 742.40 Z" fill="#000"/>
<text x="5.3" y="773.5" font-size="18" font-weight="bold" stroke="#000" stroke-width="0.7" transform="translate(5.3 773.5) scale(1.15 1) translate(-5.3 -773.5)">E</text>
<rect x="40.40" y="782.60" width="90.50" height="89.40" fill="#fff" stroke="#bdbdbd" stroke-width="1"/>
<line x1="38.50" y1="786.00" x2="40.40" y2="786.00" stroke="#333" stroke-width="0.8"/>
<line x1="38.50" y1="793.00" x2="40.40" y2="793.00" stroke="#333" stroke-width="0.8"/>
<line x1="38.50" y1="800.00" x2="40.40" y2="800.00" stroke="#333" stroke-width="0.8"/>
<line x1="38.50" y1="807.00" x2="40.40" y2="807.00" stroke="#333" stroke-width="0.8"/>
<line x1="38.50" y1="814.00" x2="40.40" y2="814.00" stroke="#333" stroke-width="0.8"/>
<line x1="38.50" y1="821.00" x2="40.40" y2="821.00" stroke="#333" stroke-width="0.8"/>
<line x1="38.50" y1="828.00" x2="40.40" y2="828.00" stroke="#333" stroke-width="0.8"/>
<line x1="38.50" y1="835.00" x2="40.40" y2="835.00" stroke="#333" stroke-width="0.8"/>
<line x1="38.50" y1="842.00" x2="40.40" y2="842.00" stroke="#333" stroke-width="0.8"/>
<line x1="38.50" y1="849.00" x2="40.40" y2="849.00" stroke="#333" stroke-width="0.8"/>
<line x1="38.50" y1="856.00" x2="40.40" y2="856.00" stroke="#333" stroke-width="0.8"/>
<line x1="38.50" y1="863.00" x2="40.40" y2="863.00" stroke="#333" stroke-width="0.8"/>
<path d="M72 829 L83 824 L84 846 L73 849Z" fill="#111"/>
<path d="M62.60 820.90 C64.60 820.77 68.03 822.65 69.90 824.30 C71.77 825.95 72.98 828.18 73.80 830.80 C74.62 833.42 74.93 836.52 74.80 840.00 C74.67 843.48 74.08 848.53 73.00 851.70 C71.92 854.87 70.03 857.48 68.30 859.00 C66.57 860.52 64.42 861.15 62.60 860.80 C60.78 860.45 58.62 859.28 57.40 856.90 C56.18 854.52 55.62 850.42 55.30 846.50 C54.98 842.58 55.07 836.97 55.50 833.40 C55.93 829.83 56.72 827.18 57.90 825.10 C59.08 823.02 60.60 821.03 62.60 820.90Z" fill="#151515"/>
<path d="M62.69 823.01 C64.49 822.89 67.58 824.58 69.26 826.07 C70.94 827.55 72.03 829.56 72.77 831.92 C73.50 834.27 73.79 837.07 73.67 840.20 C73.55 843.34 73.03 847.88 72.05 850.73 C71.07 853.58 69.38 855.93 67.82 857.30 C66.26 858.66 64.33 859.23 62.69 858.92 C61.05 858.61 59.10 857.55 58.01 855.41 C56.91 853.26 56.41 849.57 56.12 846.05 C55.83 842.52 55.91 837.47 56.30 834.26 C56.69 831.05 57.40 828.66 58.46 826.79 C59.52 824.91 60.89 823.13 62.69 823.01Z" fill="#858585"/>
<path d="M62.78 825.12 C64.38 825.01 67.13 826.52 68.62 827.84 C70.11 829.16 71.09 830.95 71.74 833.04 C72.39 835.13 72.65 837.61 72.54 840.40 C72.43 843.19 71.97 847.23 71.10 849.76 C70.23 852.29 68.73 854.39 67.34 855.60 C65.95 856.81 64.23 857.32 62.78 857.04 C61.33 856.76 59.59 855.83 58.62 853.92 C57.65 852.01 57.19 848.73 56.94 845.60 C56.69 842.47 56.75 837.97 57.10 835.12 C57.45 832.27 58.07 830.15 59.02 828.48 C59.97 826.81 61.18 825.23 62.78 825.12Z" fill="#404040"/>
<path d="M62.89 827.65 C64.25 827.56 66.58 828.84 67.85 829.96 C69.12 831.09 69.95 832.60 70.50 834.38 C71.06 836.16 71.27 838.27 71.18 840.64 C71.09 843.01 70.70 846.44 69.96 848.60 C69.22 850.75 67.94 852.53 66.76 853.56 C65.59 854.59 64.12 855.02 62.89 854.78 C61.65 854.55 60.18 853.75 59.35 852.13 C58.52 850.51 58.14 847.72 57.92 845.06 C57.71 842.40 57.77 838.58 58.06 836.15 C58.35 833.73 58.89 831.92 59.69 830.51 C60.50 829.09 61.53 827.74 62.89 827.65Z" fill="#9a9a9a"/>
<path d="M63.00 830.18 C64.12 830.11 66.04 831.16 67.08 832.09 C68.13 833.01 68.81 834.26 69.27 835.73 C69.73 837.19 69.90 838.93 69.83 840.88 C69.75 842.83 69.43 845.66 68.82 847.43 C68.21 849.21 67.16 850.67 66.19 851.52 C65.22 852.37 64.01 852.72 63.00 852.53 C61.98 852.33 60.77 851.68 60.08 850.34 C59.40 849.01 59.09 846.71 58.91 844.52 C58.73 842.33 58.78 839.18 59.02 837.18 C59.26 835.19 59.70 833.70 60.36 832.54 C61.03 831.37 61.88 830.26 63.00 830.18Z" fill="#4d4d4d"/>
<path d="M63.11 832.93 C63.97 832.87 65.45 833.68 66.25 834.39 C67.05 835.10 67.58 836.06 67.93 837.18 C68.28 838.31 68.42 839.64 68.36 841.14 C68.30 842.64 68.05 844.81 67.58 846.17 C67.12 847.53 66.31 848.66 65.56 849.31 C64.82 849.96 63.89 850.23 63.11 850.08 C62.33 849.93 61.40 849.43 60.88 848.41 C60.35 847.38 60.11 845.62 59.97 843.93 C59.84 842.25 59.87 839.84 60.06 838.30 C60.25 836.77 60.58 835.63 61.09 834.73 C61.60 833.84 62.25 832.98 63.11 832.93Z" fill="#bdbdbd"/>
<path d="M63.23 835.67 C63.83 835.63 64.86 836.19 65.42 836.69 C65.98 837.18 66.34 837.86 66.59 838.64 C66.84 839.42 66.93 840.36 66.89 841.40 C66.85 842.44 66.67 843.96 66.35 844.91 C66.02 845.86 65.46 846.64 64.94 847.10 C64.42 847.56 63.78 847.75 63.23 847.64 C62.69 847.53 62.04 847.19 61.67 846.47 C61.30 845.75 61.13 844.53 61.04 843.35 C60.95 842.17 60.97 840.49 61.10 839.42 C61.23 838.35 61.47 837.56 61.82 836.93 C62.17 836.31 62.63 835.71 63.23 835.67Z" fill="#6a6a6a"/>
<path d="M63.35 838.41 C63.69 838.39 64.27 838.71 64.59 838.99 C64.91 839.27 65.11 839.65 65.25 840.10 C65.39 840.54 65.44 841.07 65.42 841.66 C65.40 842.25 65.30 843.11 65.11 843.65 C64.93 844.19 64.61 844.63 64.32 844.89 C64.02 845.15 63.66 845.26 63.35 845.20 C63.04 845.14 62.67 844.94 62.46 844.53 C62.26 844.13 62.16 843.43 62.11 842.76 C62.05 842.10 62.07 841.14 62.14 840.54 C62.21 839.93 62.35 839.48 62.55 839.13 C62.75 838.77 63.01 838.44 63.35 838.41Z" fill="#eeeeee"/>
<path d="M93.90 814.70 C96.08 814.13 98.02 816.05 99.10 818.30 C100.18 820.55 100.62 823.93 100.40 828.20 C100.18 832.47 98.88 839.55 97.80 843.90 C96.72 848.25 95.63 852.05 93.90 854.30 C92.17 856.55 89.37 857.62 87.40 857.40 C85.43 857.18 83.42 855.68 82.10 853.00 C80.78 850.32 79.72 845.22 79.50 841.30 C79.28 837.38 79.72 832.77 80.80 829.50 C81.88 826.23 83.82 824.17 86.00 821.70 C88.18 819.23 91.72 815.27 93.90 814.70Z" fill="#151515"/>
<path d="M93.56 817.03 C95.53 816.52 97.26 818.25 98.24 820.27 C99.22 822.29 99.61 825.34 99.41 829.18 C99.22 833.02 98.04 839.39 97.07 843.31 C96.09 847.22 95.12 850.64 93.56 852.67 C92.00 854.69 89.48 855.65 87.71 855.46 C85.94 855.27 84.12 853.91 82.94 851.50 C81.75 849.09 80.79 844.49 80.60 840.97 C80.41 837.44 80.79 833.29 81.77 830.35 C82.75 827.41 84.48 825.55 86.45 823.33 C88.42 821.11 91.59 817.54 93.56 817.03Z" fill="#858585"/>
<path d="M93.22 819.36 C94.97 818.91 96.51 820.44 97.38 822.24 C98.25 824.04 98.59 826.75 98.42 830.16 C98.25 833.57 97.21 839.24 96.34 842.72 C95.47 846.20 94.61 849.24 93.22 851.04 C91.83 852.84 89.59 853.69 88.02 853.52 C86.45 853.35 84.83 852.15 83.78 850.00 C82.73 847.85 81.87 843.77 81.70 840.64 C81.53 837.51 81.87 833.81 82.74 831.20 C83.61 828.59 85.15 826.93 86.90 824.96 C88.65 822.99 91.47 819.81 93.22 819.36Z" fill="#404040"/>
<path d="M92.81 822.16 C94.30 821.77 95.61 823.07 96.35 824.60 C97.08 826.13 97.38 828.43 97.23 831.34 C97.08 834.24 96.20 839.05 95.46 842.01 C94.73 844.97 93.99 847.55 92.81 849.08 C91.63 850.61 89.73 851.34 88.39 851.19 C87.05 851.04 85.68 850.02 84.79 848.20 C83.89 846.38 83.17 842.91 83.02 840.24 C82.87 837.58 83.17 834.44 83.90 832.22 C84.64 830.00 85.96 828.59 87.44 826.92 C88.92 825.24 91.33 822.54 92.81 822.16Z" fill="#9a9a9a"/>
<path d="M92.40 824.95 C93.63 824.63 94.71 825.71 95.32 826.97 C95.92 828.23 96.17 830.12 96.04 832.51 C95.92 834.90 95.19 838.87 94.59 841.30 C93.98 843.74 93.37 845.87 92.40 847.13 C91.43 848.39 89.87 848.99 88.76 848.86 C87.66 848.74 86.53 847.90 85.80 846.40 C85.06 844.90 84.46 842.04 84.34 839.85 C84.22 837.65 84.46 835.07 85.07 833.24 C85.67 831.41 86.76 830.25 87.98 828.87 C89.20 827.49 91.18 825.27 92.40 824.95Z" fill="#4d4d4d"/>
<path d="M91.96 827.98 C92.90 827.74 93.73 828.56 94.20 829.53 C94.66 830.50 94.85 831.95 94.76 833.79 C94.66 835.62 94.10 838.67 93.64 840.54 C93.17 842.41 92.71 844.04 91.96 845.01 C91.22 845.98 90.01 846.44 89.17 846.34 C88.32 846.25 87.45 845.60 86.89 844.45 C86.32 843.30 85.86 841.10 85.77 839.42 C85.68 837.73 85.86 835.75 86.33 834.35 C86.79 832.94 87.63 832.05 88.56 830.99 C89.50 829.93 91.02 828.22 91.96 827.98Z" fill="#bdbdbd"/>
<path d="M91.52 831.01 C92.17 830.84 92.75 831.41 93.08 832.09 C93.41 832.77 93.53 833.78 93.47 835.06 C93.41 836.34 93.02 838.47 92.69 839.77 C92.36 841.07 92.04 842.22 91.52 842.89 C91.00 843.56 90.16 843.88 89.57 843.82 C88.98 843.75 88.38 843.30 87.98 842.50 C87.59 841.70 87.27 840.16 87.20 838.99 C87.14 837.82 87.27 836.43 87.59 835.45 C87.92 834.47 88.50 833.85 89.15 833.11 C89.81 832.37 90.86 831.18 91.52 831.01Z" fill="#6a6a6a"/>
<path d="M91.08 834.04 C91.45 833.94 91.78 834.27 91.96 834.65 C92.15 835.03 92.22 835.61 92.18 836.33 C92.15 837.06 91.93 838.26 91.74 839.00 C91.56 839.74 91.37 840.39 91.08 840.77 C90.78 841.15 90.31 841.33 89.97 841.30 C89.64 841.26 89.30 841.01 89.07 840.55 C88.85 840.09 88.67 839.23 88.63 838.56 C88.59 837.90 88.67 837.11 88.85 836.55 C89.04 836.00 89.36 835.65 89.73 835.23 C90.11 834.81 90.71 834.14 91.08 834.04Z" fill="#eeeeee"/>
<line x1="74.80" y1="782.60" x2="74.80" y2="872.00" stroke="#333" stroke-width="1"/>
<line x1="40.40" y1="836.80" x2="130.90" y2="836.80" stroke="#555" stroke-width="1"/>
<rect x="80.00" y="804.20" width="35.50" height="17.50" fill="none" stroke="#333" stroke-width="1"/>
<rect x="80.00" y="824.80" width="35.50" height="8.60" fill="none" stroke="#333" stroke-width="1"/>
<text x="103.80" y="793.80" font-size="12" fill="#a83232" transform="translate(103.80 793.80) scale(1 1.08) translate(-103.80 -793.80)">DP</text>
<text x="44.30" y="867.90" font-size="12" fill="#888" transform="translate(44.30 867.90) scale(1 1.08) translate(-44.30 -867.90)">DN</text>
<text x="123.20" y="813.60" font-size="11.2" fill="#2e9a2e" transform="translate(123.20 813.60) scale(1 1.08) translate(-123.20 -813.60)">CD103<tspan dy="-4.5" font-size="8.5">+</tspan><tspan dy="4.5"> CD39<tspan dy="-4.5" font-size="8.5">high</tspan></tspan></text>
<text x="123.20" y="831.40" font-size="11.2" fill="#2424e6" transform="translate(123.20 831.40) scale(1 1.08) translate(-123.20 -831.40)">CD103<tspan dy="-4.5" font-size="8.5">+</tspan><tspan dy="4.5"> CD39<tspan dy="-4.5" font-size="8.5">+</tspan></tspan></text>
<text x="34.40" y="856.30" font-size="12" text-anchor="middle" transform="rotate(-90 34.40 856.30) translate(34.40 856.30) scale(1 1.08) translate(-34.40 -856.30)">CD39</text>
<text x="40.30" y="888.60" font-size="11.5" transform="translate(40.30 888.60) scale(1 1.08) translate(-40.30 -888.60)">CD103</text>
<line x1="255.40" y1="785.90" x2="255.40" y2="889.50" stroke="#222" stroke-width="1.4"/>
<line x1="254.80" y1="888.90" x2="397.70" y2="888.90" stroke="#222" stroke-width="1.4"/>
<line x1="252.90" y1="888.90" x2="255.40" y2="888.90" stroke="#222" stroke-width="1.2"/>
<text x="251.90" y="893.30" font-size="12.3" text-anchor="end" transform="translate(251.90 893.30) scale(1 1.08) translate(-251.90 -893.30)">0</text>
<line x1="252.90" y1="868.40" x2="255.40" y2="868.40" stroke="#222" stroke-width="1.2"/>
<text x="251.90" y="872.80" font-size="12.3" text-anchor="end" transform="translate(251.90 872.80) scale(1 1.08) translate(-251.90 -872.80)">20</text>
<line x1="252.90" y1="847.90" x2="255.40" y2="847.90" stroke="#222" stroke-width="1.2"/>
<text x="251.90" y="852.30" font-size="12.3" text-anchor="end" transform="translate(251.90 852.30) scale(1 1.08) translate(-251.90 -852.30)">40</text>
<line x1="252.90" y1="827.40" x2="255.40" y2="827.40" stroke="#222" stroke-width="1.2"/>
<text x="251.90" y="831.80" font-size="12.3" text-anchor="end" transform="translate(251.90 831.80) scale(1 1.08) translate(-251.90 -831.80)">60</text>
<line x1="252.90" y1="806.90" x2="255.40" y2="806.90" stroke="#222" stroke-width="1.2"/>
<text x="251.90" y="811.30" font-size="12.3" text-anchor="end" transform="translate(251.90 811.30) scale(1 1.08) translate(-251.90 -811.30)">80</text>
<line x1="252.90" y1="786.40" x2="255.40" y2="786.40" stroke="#222" stroke-width="1.2"/>
<text x="251.90" y="790.80" font-size="12.3" text-anchor="end" transform="translate(251.90 790.80) scale(1 1.08) translate(-251.90 -790.80)">100</text>
<line x1="265.10" y1="844.82" x2="279.20" y2="791.52" stroke="#555" stroke-width="0.7" stroke-dasharray="2.5 0.8"/>
<line x1="265.10" y1="845.85" x2="279.20" y2="789.48" stroke="#555" stroke-width="0.7" stroke-dasharray="2.5 0.8"/>
<line x1="265.10" y1="847.90" x2="279.20" y2="793.58" stroke="#555" stroke-width="0.7" stroke-dasharray="2.5 0.8"/>
<line x1="265.10" y1="850.98" x2="279.20" y2="796.65" stroke="#555" stroke-width="0.7" stroke-dasharray="2.5 0.8"/>
<line x1="265.10" y1="852.00" x2="279.20" y2="797.67" stroke="#555" stroke-width="0.7" stroke-dasharray="2.5 0.8"/>
<line x1="265.10" y1="856.10" x2="279.20" y2="794.60" stroke="#555" stroke-width="0.7" stroke-dasharray="2.5 0.8"/>
<line x1="265.10" y1="858.15" x2="279.20" y2="802.80" stroke="#555" stroke-width="0.7" stroke-dasharray="2.5 0.8"/>
<line x1="265.10" y1="859.17" x2="279.20" y2="823.30" stroke="#555" stroke-width="0.7" stroke-dasharray="2.5 0.8"/>
<line x1="265.10" y1="866.35" x2="279.20" y2="846.88" stroke="#555" stroke-width="0.7" stroke-dasharray="2.5 0.8"/>
<line x1="265.10" y1="878.65" x2="279.20" y2="852.00" stroke="#555" stroke-width="0.7" stroke-dasharray="2.5 0.8"/>
<line x1="265.10" y1="885.82" x2="279.20" y2="861.23" stroke="#555" stroke-width="0.7" stroke-dasharray="2.5 0.8"/>
<line x1="265.10" y1="886.85" x2="279.20" y2="874.55" stroke="#555" stroke-width="0.7" stroke-dasharray="2.5 0.8"/>
<line x1="265.10" y1="856.10" x2="279.20" y2="846.88" stroke="#555" stroke-width="0.7" stroke-dasharray="2.5 0.8"/>
<line x1="265.10" y1="859.17" x2="279.20" y2="852.00" stroke="#555" stroke-width="0.7" stroke-dasharray="2.5 0.8"/>
<line x1="265.10" y1="885.82" x2="279.20" y2="874.55" stroke="#555" stroke-width="0.7" stroke-dasharray="2.5 0.8"/>
<circle cx="265.10" cy="844.82" r="2.5" fill="#1f1ff0"/>
<circle cx="265.10" cy="845.85" r="2.5" fill="#1f1ff0"/>
<circle cx="265.10" cy="847.90" r="2.5" fill="#1f1ff0"/>
<circle cx="265.10" cy="850.98" r="2.5" fill="#1f1ff0"/>
<circle cx="265.10" cy="852.00" r="2.5" fill="#1f1ff0"/>
<circle cx="265.10" cy="856.10" r="2.5" fill="#1f1ff0"/>
<circle cx="265.10" cy="858.15" r="2.5" fill="#1f1ff0"/>
<circle cx="265.10" cy="859.17" r="2.5" fill="#1f1ff0"/>
<circle cx="265.10" cy="866.35" r="2.5" fill="#1f1ff0"/>
<circle cx="265.10" cy="878.65" r="2.5" fill="#1f1ff0"/>
<circle cx="265.10" cy="885.82" r="2.5" fill="#1f1ff0"/>
<circle cx="265.10" cy="886.85" r="2.5" fill="#1f1ff0"/>
<circle cx="279.20" cy="789.48" r="2.5" fill="#1e8a1e"/>
<circle cx="279.20" cy="791.52" r="2.5" fill="#1e8a1e"/>
<circle cx="279.20" cy="793.58" r="2.5" fill="#1e8a1e"/>
<circle cx="279.20" cy="794.60" r="2.5" fill="#1e8a1e"/>
<circle cx="279.20" cy="796.65" r="2.5" fill="#1e8a1e"/>
<circle cx="279.20" cy="797.67" r="2.5" fill="#1e8a1e"/>
<circle cx="279.20" cy="802.80" r="2.5" fill="#1e8a1e"/>
<circle cx="279.20" cy="823.30" r="2.5" fill="#1e8a1e"/>
<circle cx="279.20" cy="846.88" r="2.5" fill="#1e8a1e"/>
<circle cx="279.20" cy="852.00" r="2.5" fill="#1e8a1e"/>
<circle cx="279.20" cy="861.23" r="2.5" fill="#1e8a1e"/>
<circle cx="279.20" cy="874.55" r="2.5" fill="#1e8a1e"/>
<line x1="292.50" y1="786.40" x2="306.30" y2="786.40" stroke="#555" stroke-width="0.7" stroke-dasharray="2.5 0.8"/>
<line x1="292.50" y1="786.40" x2="306.30" y2="787.42" stroke="#555" stroke-width="0.7" stroke-dasharray="2.5 0.8"/>
<line x1="292.50" y1="786.40" x2="306.30" y2="794.60" stroke="#555" stroke-width="0.7" stroke-dasharray="2.5 0.8"/>
<line x1="292.50" y1="787.42" x2="306.30" y2="804.85" stroke="#555" stroke-width="0.7" stroke-dasharray="2.5 0.8"/>
<circle cx="292.50" cy="786.40" r="2.5" fill="#1f1ff0"/>
<circle cx="292.50" cy="786.40" r="2.5" fill="#1f1ff0"/>
<circle cx="292.50" cy="786.40" r="2.5" fill="#1f1ff0"/>
<circle cx="292.50" cy="787.42" r="2.5" fill="#1f1ff0"/>
<circle cx="306.30" cy="786.40" r="2.5" fill="#1e8a1e"/>
<circle cx="306.30" cy="787.42" r="2.5" fill="#1e8a1e"/>
<circle cx="306.30" cy="794.60" r="2.5" fill="#1e8a1e"/>
<circle cx="306.30" cy="804.85" r="2.5" fill="#1e8a1e"/>
<line x1="320.20" y1="827.91" x2="333.70" y2="804.95" stroke="#555" stroke-width="0.7" stroke-dasharray="2.5 0.8"/>
<line x1="320.20" y1="833.35" x2="333.70" y2="817.36" stroke="#555" stroke-width="0.7" stroke-dasharray="2.5 0.8"/>
<line x1="320.20" y1="863.48" x2="333.70" y2="859.17" stroke="#555" stroke-width="0.7" stroke-dasharray="2.5 0.8"/>
<line x1="320.20" y1="871.06" x2="333.70" y2="864.30" stroke="#555" stroke-width="0.7" stroke-dasharray="2.5 0.8"/>
<line x1="320.20" y1="873.63" x2="333.70" y2="867.68" stroke="#555" stroke-width="0.7" stroke-dasharray="2.5 0.8"/>
<line x1="320.20" y1="878.34" x2="333.70" y2="867.68" stroke="#555" stroke-width="0.7" stroke-dasharray="2.5 0.8"/>
<line x1="320.20" y1="880.08" x2="333.70" y2="874.55" stroke="#555" stroke-width="0.7" stroke-dasharray="2.5 0.8"/>
<circle cx="320.20" cy="827.91" r="2.5" fill="#1f1ff0"/>
<circle cx="320.20" cy="833.35" r="2.5" fill="#1f1ff0"/>
<circle cx="320.20" cy="863.48" r="2.5" fill="#1f1ff0"/>
<circle cx="320.20" cy="871.06" r="2.5" fill="#1f1ff0"/>
<circle cx="320.20" cy="873.63" r="2.5" fill="#1f1ff0"/>
<circle cx="320.20" cy="878.34" r="2.5" fill="#1f1ff0"/>
<circle cx="320.20" cy="880.08" r="2.5" fill="#1f1ff0"/>
<circle cx="333.70" cy="804.95" r="2.5" fill="#1e8a1e"/>
<circle cx="333.70" cy="817.36" r="2.5" fill="#1e8a1e"/>
<circle cx="333.70" cy="859.17" r="2.5" fill="#1e8a1e"/>
<circle cx="333.70" cy="864.30" r="2.5" fill="#1e8a1e"/>
<circle cx="333.70" cy="867.68" r="2.5" fill="#1e8a1e"/>
<circle cx="333.70" cy="867.68" r="2.5" fill="#1e8a1e"/>
<circle cx="333.70" cy="874.55" r="2.5" fill="#1e8a1e"/>
<line x1="347.10" y1="789.48" x2="361.00" y2="813.46" stroke="#555" stroke-width="0.7" stroke-dasharray="2.5 0.8"/>
<line x1="347.10" y1="799.42" x2="361.00" y2="816.12" stroke="#555" stroke-width="0.7" stroke-dasharray="2.5 0.8"/>
<line x1="347.10" y1="802.08" x2="361.00" y2="819.40" stroke="#555" stroke-width="0.7" stroke-dasharray="2.5 0.8"/>
<line x1="347.10" y1="807.92" x2="361.00" y2="830.06" stroke="#555" stroke-width="0.7" stroke-dasharray="2.5 0.8"/>
<line x1="347.10" y1="824.22" x2="361.00" y2="885.21" stroke="#555" stroke-width="0.7" stroke-dasharray="2.5 0.8"/>
<line x1="347.10" y1="837.96" x2="361.00" y2="885.21" stroke="#555" stroke-width="0.7" stroke-dasharray="2.5 0.8"/>
<circle cx="347.10" cy="789.48" r="2.5" fill="#1f1ff0"/>
<circle cx="347.10" cy="799.42" r="2.5" fill="#1f1ff0"/>
<circle cx="347.10" cy="802.08" r="2.5" fill="#1f1ff0"/>
<circle cx="347.10" cy="807.92" r="2.5" fill="#1f1ff0"/>
<circle cx="347.10" cy="824.22" r="2.5" fill="#1f1ff0"/>
<circle cx="347.10" cy="837.96" r="2.5" fill="#1f1ff0"/>
<circle cx="361.00" cy="813.46" r="2.5" fill="#1e8a1e"/>
<circle cx="361.00" cy="816.12" r="2.5" fill="#1e8a1e"/>
<circle cx="361.00" cy="819.40" r="2.5" fill="#1e8a1e"/>
<circle cx="361.00" cy="830.06" r="2.5" fill="#1e8a1e"/>
<circle cx="361.00" cy="885.21" r="2.5" fill="#1e8a1e"/>
<line x1="374.60" y1="866.04" x2="388.10" y2="848.72" stroke="#555" stroke-width="0.7" stroke-dasharray="2.5 0.8"/>
<line x1="374.60" y1="876.70" x2="388.10" y2="868.91" stroke="#555" stroke-width="0.7" stroke-dasharray="2.5 0.8"/>
<line x1="374.60" y1="881.83" x2="388.10" y2="874.55" stroke="#555" stroke-width="0.7" stroke-dasharray="2.5 0.8"/>
<line x1="374.60" y1="884.70" x2="388.10" y2="880.80" stroke="#555" stroke-width="0.7" stroke-dasharray="2.5 0.8"/>
<line x1="374.60" y1="887.16" x2="388.10" y2="884.08" stroke="#555" stroke-width="0.7" stroke-dasharray="2.5 0.8"/>
<line x1="374.60" y1="888.39" x2="388.10" y2="880.80" stroke="#555" stroke-width="0.7" stroke-dasharray="2.5 0.8"/>
<circle cx="374.60" cy="866.04" r="2.5" fill="#1f1ff0"/>
<circle cx="374.60" cy="876.70" r="2.5" fill="#1f1ff0"/>
<circle cx="374.60" cy="881.83" r="2.5" fill="#1f1ff0"/>
<circle cx="374.60" cy="884.70" r="2.5" fill="#1f1ff0"/>
<circle cx="374.60" cy="887.16" r="2.5" fill="#1f1ff0"/>
<circle cx="374.60" cy="888.39" r="2.5" fill="#1f1ff0"/>
<circle cx="388.10" cy="848.72" r="2.5" fill="#1e8a1e"/>
<circle cx="388.10" cy="868.91" r="2.5" fill="#1e8a1e"/>
<circle cx="388.10" cy="874.55" r="2.5" fill="#1e8a1e"/>
<circle cx="388.10" cy="880.80" r="2.5" fill="#1e8a1e"/>
<circle cx="388.10" cy="884.08" r="2.5" fill="#1e8a1e"/>
<line x1="285.40" y1="785.50" x2="285.40" y2="888.90" stroke="#888" stroke-width="0.8" stroke-dasharray="1.5 1"/>
<line x1="312.50" y1="785.50" x2="312.50" y2="888.90" stroke="#888" stroke-width="0.8" stroke-dasharray="1.5 1"/>
<line x1="340.30" y1="785.50" x2="340.30" y2="888.90" stroke="#888" stroke-width="0.8" stroke-dasharray="1.5 1"/>
<line x1="367.80" y1="785.50" x2="367.80" y2="888.90" stroke="#888" stroke-width="0.8" stroke-dasharray="1.5 1"/>
<path d="M264.60 836.40 L264.60 770.60 L279.20 770.60 L279.20 788.00" fill="none" stroke="#222" stroke-width="1.2" stroke-linejoin="miter"/>
<text x="271.90" y="772.80" font-size="13.5" text-anchor="middle" font-weight="bold" transform="translate(271.90 772.80) scale(1 1.08) translate(-271.90 -772.80)">***</text>
<path d="M291.00 775.70 L291.00 771.40 L306.60 771.40 L306.60 775.70" fill="none" stroke="#222" stroke-width="1.2" stroke-linejoin="miter"/>
<text x="299.00" y="767.50" font-size="7" text-anchor="middle" transform="translate(299.00 767.50) scale(1 1.08) translate(-299.00 -767.50)">ns</text>
<path d="M319.00 819.40 L319.00 771.40 L334.60 771.40 L334.60 798.20" fill="none" stroke="#222" stroke-width="1.2" stroke-linejoin="miter"/>
<text x="326.60" y="773.30" font-size="13.5" text-anchor="middle" font-weight="bold" transform="translate(326.60 773.30) scale(1 1.08) translate(-326.60 -773.30)">*</text>
<path d="M347.50 782.00 L347.50 772.00 L361.00 772.00 L361.00 807.50" fill="none" stroke="#222" stroke-width="1.2" stroke-linejoin="miter"/>
<text x="354.20" y="773.80" font-size="13.5" text-anchor="middle" font-weight="bold" transform="translate(354.20 773.80) scale(1 1.08) translate(-354.20 -773.80)">*</text>
<path d="M373.70 857.50 L373.70 771.40 L388.10 771.40 L388.10 838.00" fill="none" stroke="#222" stroke-width="1.2" stroke-linejoin="miter"/>
<text x="381.40" y="773.30" font-size="13.5" text-anchor="middle" font-weight="bold" transform="translate(381.40 773.30) scale(1 1.08) translate(-381.40 -773.30)">*</text>
<text x="230.10" y="835.50" font-size="12" text-anchor="middle" font-weight="bold" transform="rotate(-90 230.10 835.50) translate(230.10 835.50) scale(1 1.08) translate(-230.10 -835.50)">% of CD8<tspan dy="-4.5" font-size="8">+</tspan><tspan dy="4.5"> T cells</tspan></text>
<text x="275.20" y="900.00" font-size="11" text-anchor="end" transform="rotate(-37 275.20 900.00) translate(275.20 900.00) scale(1 1.08) translate(-275.20 -900.00)">PD-1-TIM-3</text>
<text x="302.60" y="900.00" font-size="11" text-anchor="end" transform="rotate(-37 302.60 900.00) translate(302.60 900.00) scale(1 1.08) translate(-302.60 -900.00)">CCR5</text>
<text x="332.60" y="900.00" font-size="11" text-anchor="end" transform="rotate(-37 332.60 900.00) translate(332.60 900.00) scale(1 1.08) translate(-332.60 -900.00)">CXCR6</text>
<text x="358.60" y="900.00" font-size="11" text-anchor="end" transform="rotate(-37 358.60 900.00) translate(358.60 900.00) scale(1 1.08) translate(-358.60 -900.00)">CXCR3</text>
<text x="383.40" y="900.00" font-size="11" text-anchor="end" transform="rotate(-37 383.40 900.00) translate(383.40 900.00) scale(1 1.08) translate(-383.40 -900.00)">KI67</text>
<line x1="272.20" y1="888.90" x2="272.20" y2="891.50" stroke="#222" stroke-width="1"/>
<line x1="299.40" y1="888.90" x2="299.40" y2="891.50" stroke="#222" stroke-width="1"/>
<line x1="327.00" y1="888.90" x2="327.00" y2="891.50" stroke="#222" stroke-width="1"/>
<line x1="354.00" y1="888.90" x2="354.00" y2="891.50" stroke="#222" stroke-width="1"/>
<line x1="381.40" y1="888.90" x2="381.40" y2="891.50" stroke="#222" stroke-width="1"/>
<line x1="462.80" y1="785.60" x2="462.80" y2="889.70" stroke="#222" stroke-width="1.4"/>
<line x1="462.20" y1="889.10" x2="503.40" y2="889.10" stroke="#222" stroke-width="1.4"/>
<line x1="460.30" y1="889.10" x2="462.80" y2="889.10" stroke="#222" stroke-width="1.2"/>
<text x="459.30" y="893.50" font-size="12.2" text-anchor="end" transform="translate(459.30 893.50) scale(1 1.08) translate(-459.30 -893.50)">0</text>
<line x1="460.30" y1="863.35" x2="462.80" y2="863.35" stroke="#222" stroke-width="1.2"/>
<text x="459.30" y="867.75" font-size="12.2" text-anchor="end" transform="translate(459.30 867.75) scale(1 1.08) translate(-459.30 -867.75)">5</text>
<line x1="460.30" y1="837.60" x2="462.80" y2="837.60" stroke="#222" stroke-width="1.2"/>
<text x="459.30" y="842.00" font-size="12.2" text-anchor="end" transform="translate(459.30 842.00) scale(1 1.08) translate(-459.30 -842.00)">10</text>
<line x1="460.30" y1="811.85" x2="462.80" y2="811.85" stroke="#222" stroke-width="1.2"/>
<text x="459.30" y="816.25" font-size="12.2" text-anchor="end" transform="translate(459.30 816.25) scale(1 1.08) translate(-459.30 -816.25)">15</text>
<line x1="460.30" y1="786.10" x2="462.80" y2="786.10" stroke="#222" stroke-width="1.2"/>
<text x="459.30" y="790.50" font-size="12.2" text-anchor="end" transform="translate(459.30 790.50) scale(1 1.08) translate(-459.30 -790.50)">20</text>
<line x1="474.80" y1="834.61" x2="492.60" y2="838.89" stroke="#555" stroke-width="0.7" stroke-dasharray="2.5 0.8"/>
<line x1="474.80" y1="846.36" x2="492.60" y2="852.54" stroke="#555" stroke-width="0.7" stroke-dasharray="2.5 0.8"/>
<line x1="474.80" y1="852.02" x2="492.60" y2="855.62" stroke="#555" stroke-width="0.7" stroke-dasharray="2.5 0.8"/>
<line x1="474.80" y1="854.08" x2="492.60" y2="859.23" stroke="#555" stroke-width="0.7" stroke-dasharray="2.5 0.8"/>
<line x1="474.80" y1="856.65" x2="492.60" y2="874.17" stroke="#555" stroke-width="0.7" stroke-dasharray="2.5 0.8"/>
<line x1="474.80" y1="859.23" x2="492.60" y2="876.74" stroke="#555" stroke-width="0.7" stroke-dasharray="2.5 0.8"/>
<line x1="474.80" y1="862.99" x2="492.60" y2="862.99" stroke="#555" stroke-width="0.7" stroke-dasharray="2.5 0.8"/>
<line x1="474.80" y1="852.02" x2="492.60" y2="859.23" stroke="#555" stroke-width="0.7" stroke-dasharray="2.5 0.8"/>
<line x1="474.80" y1="854.08" x2="492.60" y2="855.62" stroke="#555" stroke-width="0.7" stroke-dasharray="2.5 0.8"/>
<circle cx="474.80" cy="834.61" r="2.5" fill="#1f1ff0"/>
<circle cx="474.80" cy="846.36" r="2.5" fill="#1f1ff0"/>
<circle cx="474.80" cy="852.02" r="2.5" fill="#1f1ff0"/>
<circle cx="474.80" cy="854.08" r="2.5" fill="#1f1ff0"/>
<circle cx="474.80" cy="856.65" r="2.5" fill="#1f1ff0"/>
<circle cx="474.80" cy="859.23" r="2.5" fill="#1f1ff0"/>
<circle cx="474.80" cy="862.99" r="2.5" fill="#1f1ff0"/>
<circle cx="492.60" cy="838.89" r="2.5" fill="#1e8a1e"/>
<circle cx="492.60" cy="852.54" r="2.5" fill="#1e8a1e"/>
<circle cx="492.60" cy="855.62" r="2.5" fill="#1e8a1e"/>
<circle cx="492.60" cy="859.23" r="2.5" fill="#1e8a1e"/>
<circle cx="492.60" cy="862.99" r="2.5" fill="#1e8a1e"/>
<circle cx="492.60" cy="874.17" r="2.5" fill="#1e8a1e"/>
<circle cx="492.60" cy="876.74" r="2.5" fill="#1e8a1e"/>
<path d="M474.80 824.50 L474.80 787.80 L492.60 787.80 L492.60 834.30" fill="none" stroke="#222" stroke-width="1.2" stroke-linejoin="miter"/>
<text x="483.60" y="787.80" font-size="13.5" text-anchor="middle" font-weight="bold" transform="translate(483.60 787.80) scale(1 1.08) translate(-483.60 -787.80)">*</text>
<text x="441.60" y="835.60" font-size="11.6" text-anchor="middle" font-weight="bold" transform="rotate(-90 441.60 835.60) translate(441.60 835.60) scale(1 1.08) translate(-441.60 -835.60)">TCF1 MFI (x100)</text>
<line x1="483.20" y1="889.10" x2="483.20" y2="891.50" stroke="#222" stroke-width="1"/>
<text x="483.20" y="901.50" font-size="12" text-anchor="middle" transform="translate(483.20 901.50) scale(1 1.08) translate(-483.20 -901.50)">TCF1</text>
<rect x="524.60" y="861.00" width="126.40" height="37.40" fill="none" stroke="#444" stroke-width="1.1"/>
<circle cx="533.70" cy="871.00" r="5.4" fill="#1f1ff0"/>
<circle cx="533.70" cy="887.40" r="5.4" fill="#1e8a1e"/>
<text x="541.90" y="875.20" font-size="12.6" transform="translate(541.90 875.20) scale(1 1.08) translate(-541.90 -875.20)">CD103<tspan dy="-4.5" font-size="8">+</tspan><tspan dy="4.5"> CD39<tspan dy="-4.5" font-size="8">+</tspan></tspan></text>
<text x="541.90" y="891.80" font-size="12.6" transform="translate(541.90 891.80) scale(1 1.08) translate(-541.90 -891.80)">CD103 <tspan dy="-4.5" font-size="8">+</tspan><tspan dy="4.5">CD39<tspan dy="-4.5" font-size="8">high</tspan></tspan></text>
<text x="5.2" y="941.3" font-size="20.5" font-weight="bold" stroke="#000" stroke-width="0.7" transform="translate(5.2 941.3) scale(1.06 1) translate(-5.2 -941.3)">F</text>
<text x="29.00" y="965.20" font-size="13.7" transform="translate(29.00 965.20) scale(1 1.08) translate(-29.00 -965.20)">Gated on CD8<tspan dy="-5" font-size="10.5">+</tspan><tspan dy="5"> T cells in central tissues</tspan></text>
<rect x="30.50" y="977.30" width="72.80" height="74.00" fill="#fff" stroke="#c8c8c8" stroke-width="1"/>
<line x1="30.50" y1="1007.80" x2="103.30" y2="1007.80" stroke="#b8b8b8" stroke-width="1" stroke-dasharray="4 3"/>
<line x1="30.50" y1="1022.50" x2="103.30" y2="1022.50" stroke="#bfe3c5" stroke-width="0.9"/>
<line x1="30.50" y1="1037.30" x2="103.30" y2="1037.30" stroke="#f3c9c9" stroke-width="0.9"/>
<path d="M46.55 1022.21 L47.43 1022.06 L48.31 1021.44 L49.20 1021.87 L50.09 1020.58 L50.97 1020.56 L51.85 1019.96 L52.74 1018.79 L53.62 1018.22 L54.51 1016.87 L55.39 1015.06 L56.28 1013.58 L57.16 1011.18 L58.05 1009.53 L58.93 1007.60 L59.82 1005.84 L60.70 1004.18 L61.59 1002.14 L62.48 1000.81 L63.36 1000.79 L64.25 1000.04 L65.13 1000.89 L66.02 1001.08 L66.90 1002.84 L67.78 1003.93 L68.67 1005.87 L69.56 1007.22 L70.44 1009.32 L71.33 1012.05 L72.21 1013.92 L73.09 1015.18 L73.98 1016.99 L74.86 1018.26 L75.75 1018.49 L76.63 1019.39 L77.52 1021.20 L78.41 1021.73 L79.29 1021.41 L80.17 1021.32 L81.06 1022.07 L81.94 1022.22 L81.94 1022.50 L46.55 1022.50 Z" fill="#cfe9d3" fill-opacity="1"/>
<path d="M46.55 1022.21 L47.43 1022.06 L48.31 1021.44 L49.20 1021.87 L50.09 1020.58 L50.97 1020.56 L51.85 1019.96 L52.74 1018.79 L53.62 1018.22 L54.51 1016.87 L55.39 1015.06 L56.28 1013.58 L57.16 1011.18 L58.05 1009.53 L58.93 1007.60 L59.82 1005.84 L60.70 1004.18 L61.59 1002.14 L62.48 1000.81 L63.36 1000.79 L64.25 1000.04 L65.13 1000.89 L66.02 1001.08 L66.90 1002.84 L67.78 1003.93 L68.67 1005.87 L69.56 1007.22 L70.44 1009.32 L71.33 1012.05 L72.21 1013.92 L73.09 1015.18 L73.98 1016.99 L74.86 1018.26 L75.75 1018.49 L76.63 1019.39 L77.52 1021.20 L78.41 1021.73 L79.29 1021.41 L80.17 1021.32 L81.06 1022.07 L81.94 1022.22" fill="none" stroke="#3f9a5a" stroke-width="0.9" stroke-linejoin="round"/>
<path d="M47.43 1037.07 L48.31 1036.86 L49.20 1036.52 L50.09 1035.71 L50.97 1034.88 L51.85 1033.49 L52.74 1031.50 L53.62 1029.46 L54.51 1027.52 L55.39 1024.51 L56.28 1021.22 L57.16 1018.46 L58.05 1015.34 L58.93 1013.71 L59.82 1012.66 L60.70 1012.38 L61.59 1012.73 L62.48 1012.52 L63.36 1012.07 L64.25 1012.69 L65.13 1012.31 L66.02 1013.24 L66.90 1014.40 L67.78 1016.63 L68.67 1019.04 L69.56 1020.79 L70.44 1023.89 L71.33 1026.12 L72.21 1028.26 L73.09 1030.81 L73.98 1032.21 L74.86 1033.76 L75.75 1035.71 L76.63 1036.25 L77.52 1036.27 L78.41 1036.80 L79.29 1037.02 L79.29 1037.30 L47.43 1037.30 Z" fill="#f0bcbc" fill-opacity="0.8"/>
<path d="M47.43 1037.07 L48.31 1036.86 L49.20 1036.52 L50.09 1035.71 L50.97 1034.88 L51.85 1033.49 L52.74 1031.50 L53.62 1029.46 L54.51 1027.52 L55.39 1024.51 L56.28 1021.22 L57.16 1018.46 L58.05 1015.34 L58.93 1013.71 L59.82 1012.66 L60.70 1012.38 L61.59 1012.73 L62.48 1012.52 L63.36 1012.07 L64.25 1012.69 L65.13 1012.31 L66.02 1013.24 L66.90 1014.40 L67.78 1016.63 L68.67 1019.04 L69.56 1020.79 L70.44 1023.89 L71.33 1026.12 L72.21 1028.26 L73.09 1030.81 L73.98 1032.21 L74.86 1033.76 L75.75 1035.71 L76.63 1036.25 L77.52 1036.27 L78.41 1036.80 L79.29 1037.02" fill="none" stroke="#c8424c" stroke-width="0.9" stroke-linejoin="round"/>
<path d="M51.85 1051.30 L52.74 1049.72 L53.62 1048.88 L54.51 1048.13 L55.39 1045.19 L56.28 1042.55 L57.16 1038.28 L58.05 1034.72 L58.93 1032.29 L59.82 1029.89 L60.70 1029.41 L61.59 1030.56 L62.48 1032.45 L63.36 1035.21 L64.25 1037.82 L65.13 1039.43 L66.02 1041.09 L66.90 1042.53 L67.78 1042.15 L68.67 1041.05 L69.56 1040.80 L70.44 1040.46 L71.33 1039.87 L72.21 1039.17 L73.09 1038.96 L73.98 1037.61 L74.86 1036.56 L75.75 1035.49 L76.63 1033.97 L77.52 1034.26 L78.41 1034.10 L79.29 1033.83 L80.17 1034.04 L81.06 1034.99 L81.94 1034.49 L82.83 1035.14 L83.72 1037.66 L84.60 1039.59 L85.48 1043.87 L86.37 1046.58 L87.25 1049.26 L88.14 1050.56 L89.03 1050.55 L89.91 1051.05 L89.91 1051.30 L51.85 1051.30 Z" fill="#d6d6d6" fill-opacity="0.8"/>
<path d="M51.85 1051.30 L52.74 1049.72 L53.62 1048.88 L54.51 1048.13 L55.39 1045.19 L56.28 1042.55 L57.16 1038.28 L58.05 1034.72 L58.93 1032.29 L59.82 1029.89 L60.70 1029.41 L61.59 1030.56 L62.48 1032.45 L63.36 1035.21 L64.25 1037.82 L65.13 1039.43 L66.02 1041.09 L66.90 1042.53 L67.78 1042.15 L68.67 1041.05 L69.56 1040.80 L70.44 1040.46 L71.33 1039.87 L72.21 1039.17 L73.09 1038.96 L73.98 1037.61 L74.86 1036.56 L75.75 1035.49 L76.63 1033.97 L77.52 1034.26 L78.41 1034.10 L79.29 1033.83 L80.17 1034.04 L81.06 1034.99 L81.94 1034.49 L82.83 1035.14 L83.72 1037.66 L84.60 1039.59 L85.48 1043.87 L86.37 1046.58 L87.25 1049.26 L88.14 1050.56 L89.03 1050.55 L89.91 1051.05" fill="none" stroke="#707070" stroke-width="0.8" stroke-linejoin="round"/>
<path d="M47.43 1007.40 L47.87 1007.27 L48.31 1007.10 L48.76 1006.89 L49.20 1006.63 L49.64 1006.31 L50.09 1005.92 L50.53 1005.45 L50.97 1004.89 L51.41 1004.23 L51.85 1003.47 L52.30 1002.60 L52.74 1001.61 L53.18 1000.50 L53.62 999.27 L54.07 997.94 L54.51 996.50 L54.95 994.98 L55.39 993.40 L55.84 991.78 L56.28 990.15 L56.72 988.54 L57.16 986.98 L57.61 985.51 L58.05 984.17 L58.49 982.99 L58.93 982.01 L59.38 981.24 L59.82 980.71 L60.26 980.44 L60.70 980.43 L61.15 980.68 L61.59 981.19 L62.03 981.94 L62.48 982.92 L62.92 984.08 L63.36 985.41 L63.80 986.87 L64.25 988.42 L64.69 990.03 L65.13 991.66 L65.57 993.28 L66.02 994.87 L66.46 996.39 L66.90 997.83 L67.34 999.18 L67.78 1000.41 L68.23 1001.53 L68.67 1002.53 L69.11 1003.41 L69.56 1004.18 L70.00 1004.85 L70.44 1005.41 L70.88 1005.89 L71.33 1006.28 L71.77 1006.61 L72.21 1006.87 L72.65 1007.09 L73.09 1007.25 L73.54 1007.39" fill="none" stroke="#3a2a2a" stroke-width="1" stroke-dasharray="2 1.5"/>
<line x1="31.23" y1="1051.30" x2="31.23" y2="1053.70" stroke="#888" stroke-width="0.75"/>
<line x1="35.61" y1="1051.30" x2="35.61" y2="1053.70" stroke="#888" stroke-width="0.75"/>
<line x1="37.38" y1="1051.30" x2="37.38" y2="1053.70" stroke="#888" stroke-width="0.75"/>
<line x1="38.51" y1="1051.30" x2="38.51" y2="1055.30" stroke="#888" stroke-width="0.75"/>
<line x1="42.51" y1="1051.30" x2="42.51" y2="1054.90" stroke="#777" stroke-width="1.0"/>
<line x1="43.76" y1="1051.30" x2="43.76" y2="1054.90" stroke="#777" stroke-width="1.0"/>
<line x1="45.00" y1="1051.30" x2="45.00" y2="1054.90" stroke="#777" stroke-width="1.0"/>
<line x1="46.24" y1="1051.30" x2="46.24" y2="1054.90" stroke="#777" stroke-width="1.0"/>
<line x1="47.49" y1="1051.30" x2="47.49" y2="1054.90" stroke="#777" stroke-width="1.0"/>
<line x1="48.73" y1="1051.30" x2="48.73" y2="1054.90" stroke="#777" stroke-width="1.0"/>
<line x1="49.97" y1="1051.30" x2="49.97" y2="1054.90" stroke="#777" stroke-width="1.0"/>
<line x1="51.22" y1="1051.30" x2="51.22" y2="1054.90" stroke="#777" stroke-width="1.0"/>
<line x1="52.46" y1="1051.30" x2="52.46" y2="1054.90" stroke="#777" stroke-width="1.0"/>
<line x1="53.70" y1="1051.30" x2="53.70" y2="1054.90" stroke="#777" stroke-width="1.0"/>
<line x1="54.95" y1="1051.30" x2="54.95" y2="1054.90" stroke="#777" stroke-width="1.0"/>
<line x1="56.19" y1="1051.30" x2="56.19" y2="1054.90" stroke="#777" stroke-width="1.0"/>
<line x1="57.44" y1="1051.30" x2="57.44" y2="1054.90" stroke="#777" stroke-width="1.0"/>
<line x1="61.80" y1="1051.30" x2="61.80" y2="1053.70" stroke="#888" stroke-width="0.75"/>
<line x1="65.38" y1="1051.30" x2="65.38" y2="1053.70" stroke="#888" stroke-width="0.75"/>
<line x1="67.11" y1="1051.30" x2="67.11" y2="1053.70" stroke="#888" stroke-width="0.75"/>
<line x1="68.26" y1="1051.30" x2="68.26" y2="1053.70" stroke="#888" stroke-width="0.75"/>
<line x1="69.12" y1="1051.30" x2="69.12" y2="1053.70" stroke="#888" stroke-width="0.75"/>
<line x1="69.81" y1="1051.30" x2="69.81" y2="1055.30" stroke="#888" stroke-width="0.75"/>
<line x1="74.91" y1="1051.30" x2="74.91" y2="1053.70" stroke="#888" stroke-width="0.75"/>
<line x1="77.51" y1="1051.30" x2="77.51" y2="1053.70" stroke="#888" stroke-width="0.75"/>
<line x1="78.77" y1="1051.30" x2="78.77" y2="1053.70" stroke="#888" stroke-width="0.75"/>
<line x1="79.60" y1="1051.30" x2="79.60" y2="1053.70" stroke="#888" stroke-width="0.75"/>
<line x1="80.23" y1="1051.30" x2="80.23" y2="1053.70" stroke="#888" stroke-width="0.75"/>
<line x1="80.73" y1="1051.30" x2="80.73" y2="1055.30" stroke="#888" stroke-width="0.75"/>
<line x1="83.64" y1="1051.30" x2="83.64" y2="1053.70" stroke="#888" stroke-width="0.75"/>
<line x1="86.25" y1="1051.30" x2="86.25" y2="1053.70" stroke="#888" stroke-width="0.75"/>
<line x1="87.50" y1="1051.30" x2="87.50" y2="1053.70" stroke="#888" stroke-width="0.75"/>
<line x1="88.34" y1="1051.30" x2="88.34" y2="1053.70" stroke="#888" stroke-width="0.75"/>
<line x1="88.97" y1="1051.30" x2="88.97" y2="1053.70" stroke="#888" stroke-width="0.75"/>
<line x1="89.47" y1="1051.30" x2="89.47" y2="1055.30" stroke="#888" stroke-width="0.75"/>
<line x1="95.29" y1="1051.30" x2="95.29" y2="1053.70" stroke="#888" stroke-width="0.75"/>
<line x1="97.90" y1="1051.30" x2="97.90" y2="1053.70" stroke="#888" stroke-width="0.75"/>
<line x1="99.15" y1="1051.30" x2="99.15" y2="1053.70" stroke="#888" stroke-width="0.75"/>
<line x1="99.99" y1="1051.30" x2="99.99" y2="1053.70" stroke="#888" stroke-width="0.75"/>
<line x1="100.61" y1="1051.30" x2="100.61" y2="1053.70" stroke="#888" stroke-width="0.75"/>
<line x1="101.12" y1="1051.30" x2="101.12" y2="1055.30" stroke="#888" stroke-width="0.75"/>
<text x="0.80" y="1002.00" font-size="11" transform="translate(0.80 1002.00) scale(1 1.08) translate(-0.80 -1002.00)">FMO</text>
<text x="0.80" y="1018.90" font-size="11" fill="#1f9595" transform="translate(0.80 1018.90) scale(1 1.08) translate(-0.80 -1018.90)">SP</text>
<text x="0.80" y="1032.50" font-size="11" fill="#b0282e" transform="translate(0.80 1032.50) scale(1 1.08) translate(-0.80 -1032.50)">DP</text>
<text x="0.80" y="1048.20" font-size="11" fill="#a8a8a8" transform="translate(0.80 1048.20) scale(1 1.08) translate(-0.80 -1048.20)">DN</text>
<line x1="32.90" y1="1059.40" x2="63.80" y2="1059.40" stroke="#111" stroke-width="1.3"/>
<path d="M62.80 1055.40 L69.80 1059.40 L62.80 1063.40 Z" fill="#000"/>
<text x="33.60" y="1071.40" font-size="11" transform="translate(33.60 1071.40) scale(1 1.08) translate(-33.60 -1071.40)">Granzyme B</text>
<rect x="117.40" y="978.20" width="72.70" height="73.90" fill="#fff" stroke="#c8c8c8" stroke-width="1"/>
<line x1="117.40" y1="1008.00" x2="190.10" y2="1008.00" stroke="#b8b8b8" stroke-width="1" stroke-dasharray="4 3"/>
<line x1="117.40" y1="1022.80" x2="190.10" y2="1022.80" stroke="#bfe3c5" stroke-width="0.9"/>
<line x1="117.40" y1="1037.40" x2="190.10" y2="1037.40" stroke="#f3c9c9" stroke-width="0.9"/>
<path d="M136.07 1022.73 L136.96 1021.60 L137.84 1020.57 L138.73 1017.24 L139.61 1012.89 L140.49 1006.92 L141.38 1001.22 L142.26 1000.27 L143.15 1001.94 L144.03 1006.94 L144.91 1010.68 L145.80 1012.68 L146.68 1013.78 L147.56 1014.24 L148.45 1014.13 L149.33 1015.35 L150.22 1015.36 L151.10 1015.52 L151.98 1016.45 L152.87 1017.69 L153.75 1018.84 L154.63 1019.54 L155.52 1020.20 L156.40 1021.24 L157.28 1020.80 L158.17 1021.57 L159.05 1022.04 L159.94 1022.32 L160.82 1022.49 L160.82 1022.80 L136.07 1022.80 Z" fill="#cfe9d3" fill-opacity="1"/>
<path d="M136.07 1022.73 L136.96 1021.60 L137.84 1020.57 L138.73 1017.24 L139.61 1012.89 L140.49 1006.92 L141.38 1001.22 L142.26 1000.27 L143.15 1001.94 L144.03 1006.94 L144.91 1010.68 L145.80 1012.68 L146.68 1013.78 L147.56 1014.24 L148.45 1014.13 L149.33 1015.35 L150.22 1015.36 L151.10 1015.52 L151.98 1016.45 L152.87 1017.69 L153.75 1018.84 L154.63 1019.54 L155.52 1020.20 L156.40 1021.24 L157.28 1020.80 L158.17 1021.57 L159.05 1022.04 L159.94 1022.32 L160.82 1022.49" fill="none" stroke="#3f9a5a" stroke-width="0.9" stroke-linejoin="round"/>
<path d="M135.19 1037.29 L136.07 1037.02 L136.96 1036.26 L137.84 1034.35 L138.73 1031.17 L139.61 1024.95 L140.49 1018.77 L141.38 1013.58 L142.26 1012.26 L143.15 1014.14 L144.03 1019.08 L144.91 1024.29 L145.80 1028.65 L146.68 1030.57 L147.56 1031.34 L148.45 1032.85 L149.33 1033.99 L150.22 1034.55 L151.10 1035.91 L151.98 1036.32 L152.87 1036.25 L153.75 1036.92 L154.63 1037.13 L154.63 1037.40 L135.19 1037.40 Z" fill="#f0bcbc" fill-opacity="0.8"/>
<path d="M135.19 1037.29 L136.07 1037.02 L136.96 1036.26 L137.84 1034.35 L138.73 1031.17 L139.61 1024.95 L140.49 1018.77 L141.38 1013.58 L142.26 1012.26 L143.15 1014.14 L144.03 1019.08 L144.91 1024.29 L145.80 1028.65 L146.68 1030.57 L147.56 1031.34 L148.45 1032.85 L149.33 1033.99 L150.22 1034.55 L151.10 1035.91 L151.98 1036.32 L152.87 1036.25 L153.75 1036.92 L154.63 1037.13" fill="none" stroke="#c8424c" stroke-width="0.9" stroke-linejoin="round"/>
<path d="M132.54 1051.87 L133.42 1051.70 L134.31 1051.89 L135.19 1051.08 L136.07 1049.00 L136.96 1046.11 L137.84 1040.03 L138.73 1034.77 L139.61 1028.70 L140.49 1026.51 L141.38 1027.37 L142.26 1032.43 L143.15 1036.95 L144.03 1040.53 L144.91 1042.64 L145.80 1043.84 L146.68 1043.76 L147.56 1044.54 L148.45 1044.34 L149.33 1045.41 L150.22 1045.44 L151.10 1045.34 L151.98 1044.43 L152.87 1044.50 L153.75 1042.97 L154.63 1040.24 L155.52 1038.98 L156.40 1035.83 L157.28 1034.65 L158.17 1034.28 L159.05 1033.89 L159.94 1035.29 L160.82 1037.94 L161.70 1040.00 L162.59 1043.44 L163.47 1045.48 L164.36 1047.68 L165.24 1048.94 L166.12 1050.66 L167.01 1051.30 L167.89 1051.61 L168.77 1051.86 L168.77 1052.10 L132.54 1052.10 Z" fill="#d6d6d6" fill-opacity="0.8"/>
<path d="M132.54 1051.87 L133.42 1051.70 L134.31 1051.89 L135.19 1051.08 L136.07 1049.00 L136.96 1046.11 L137.84 1040.03 L138.73 1034.77 L139.61 1028.70 L140.49 1026.51 L141.38 1027.37 L142.26 1032.43 L143.15 1036.95 L144.03 1040.53 L144.91 1042.64 L145.80 1043.84 L146.68 1043.76 L147.56 1044.54 L148.45 1044.34 L149.33 1045.41 L150.22 1045.44 L151.10 1045.34 L151.98 1044.43 L152.87 1044.50 L153.75 1042.97 L154.63 1040.24 L155.52 1038.98 L156.40 1035.83 L157.28 1034.65 L158.17 1034.28 L159.05 1033.89 L159.94 1035.29 L160.82 1037.94 L161.70 1040.00 L162.59 1043.44 L163.47 1045.48 L164.36 1047.68 L165.24 1048.94 L166.12 1050.66 L167.01 1051.30 L167.89 1051.61 L168.77 1051.86" fill="none" stroke="#707070" stroke-width="0.8" stroke-linejoin="round"/>
<path d="M136.96 1007.31 L137.40 1006.59 L137.84 1005.34 L138.28 1003.35 L138.73 1000.47 L139.17 996.70 L139.61 992.29 L140.05 987.76 L140.49 983.83 L140.94 981.26 L141.38 980.59 L141.82 981.96 L142.26 985.09 L142.70 989.32 L143.15 993.88 L143.59 998.12 L144.03 1001.59 L144.47 1004.15 L144.91 1005.85 L145.35 1006.89 L145.80 1007.47" fill="none" stroke="#3a2a2a" stroke-width="1" stroke-dasharray="2 1.5"/>
<line x1="118.13" y1="1052.10" x2="118.13" y2="1054.50" stroke="#888" stroke-width="0.75"/>
<line x1="122.50" y1="1052.10" x2="122.50" y2="1054.50" stroke="#888" stroke-width="0.75"/>
<line x1="124.27" y1="1052.10" x2="124.27" y2="1054.50" stroke="#888" stroke-width="0.75"/>
<line x1="125.40" y1="1052.10" x2="125.40" y2="1056.10" stroke="#888" stroke-width="0.75"/>
<line x1="129.40" y1="1052.10" x2="129.40" y2="1055.70" stroke="#777" stroke-width="1.0"/>
<line x1="130.64" y1="1052.10" x2="130.64" y2="1055.70" stroke="#777" stroke-width="1.0"/>
<line x1="131.88" y1="1052.10" x2="131.88" y2="1055.70" stroke="#777" stroke-width="1.0"/>
<line x1="133.12" y1="1052.10" x2="133.12" y2="1055.70" stroke="#777" stroke-width="1.0"/>
<line x1="134.36" y1="1052.10" x2="134.36" y2="1055.70" stroke="#777" stroke-width="1.0"/>
<line x1="135.61" y1="1052.10" x2="135.61" y2="1055.70" stroke="#777" stroke-width="1.0"/>
<line x1="136.85" y1="1052.10" x2="136.85" y2="1055.70" stroke="#777" stroke-width="1.0"/>
<line x1="138.09" y1="1052.10" x2="138.09" y2="1055.70" stroke="#777" stroke-width="1.0"/>
<line x1="139.33" y1="1052.10" x2="139.33" y2="1055.70" stroke="#777" stroke-width="1.0"/>
<line x1="140.57" y1="1052.10" x2="140.57" y2="1055.70" stroke="#777" stroke-width="1.0"/>
<line x1="141.82" y1="1052.10" x2="141.82" y2="1055.70" stroke="#777" stroke-width="1.0"/>
<line x1="143.06" y1="1052.10" x2="143.06" y2="1055.70" stroke="#777" stroke-width="1.0"/>
<line x1="144.30" y1="1052.10" x2="144.30" y2="1055.70" stroke="#777" stroke-width="1.0"/>
<line x1="148.66" y1="1052.10" x2="148.66" y2="1054.50" stroke="#888" stroke-width="0.75"/>
<line x1="152.24" y1="1052.10" x2="152.24" y2="1054.50" stroke="#888" stroke-width="0.75"/>
<line x1="153.96" y1="1052.10" x2="153.96" y2="1054.50" stroke="#888" stroke-width="0.75"/>
<line x1="155.11" y1="1052.10" x2="155.11" y2="1054.50" stroke="#888" stroke-width="0.75"/>
<line x1="155.97" y1="1052.10" x2="155.97" y2="1054.50" stroke="#888" stroke-width="0.75"/>
<line x1="156.66" y1="1052.10" x2="156.66" y2="1056.10" stroke="#888" stroke-width="0.75"/>
<line x1="161.75" y1="1052.10" x2="161.75" y2="1054.50" stroke="#888" stroke-width="0.75"/>
<line x1="164.35" y1="1052.10" x2="164.35" y2="1054.50" stroke="#888" stroke-width="0.75"/>
<line x1="165.60" y1="1052.10" x2="165.60" y2="1054.50" stroke="#888" stroke-width="0.75"/>
<line x1="166.44" y1="1052.10" x2="166.44" y2="1054.50" stroke="#888" stroke-width="0.75"/>
<line x1="167.06" y1="1052.10" x2="167.06" y2="1054.50" stroke="#888" stroke-width="0.75"/>
<line x1="167.56" y1="1052.10" x2="167.56" y2="1056.10" stroke="#888" stroke-width="0.75"/>
<line x1="170.47" y1="1052.10" x2="170.47" y2="1054.50" stroke="#888" stroke-width="0.75"/>
<line x1="173.07" y1="1052.10" x2="173.07" y2="1054.50" stroke="#888" stroke-width="0.75"/>
<line x1="174.33" y1="1052.10" x2="174.33" y2="1054.50" stroke="#888" stroke-width="0.75"/>
<line x1="175.16" y1="1052.10" x2="175.16" y2="1054.50" stroke="#888" stroke-width="0.75"/>
<line x1="175.79" y1="1052.10" x2="175.79" y2="1054.50" stroke="#888" stroke-width="0.75"/>
<line x1="176.29" y1="1052.10" x2="176.29" y2="1056.10" stroke="#888" stroke-width="0.75"/>
<line x1="182.10" y1="1052.10" x2="182.10" y2="1054.50" stroke="#888" stroke-width="0.75"/>
<line x1="184.70" y1="1052.10" x2="184.70" y2="1054.50" stroke="#888" stroke-width="0.75"/>
<line x1="185.96" y1="1052.10" x2="185.96" y2="1054.50" stroke="#888" stroke-width="0.75"/>
<line x1="186.79" y1="1052.10" x2="186.79" y2="1054.50" stroke="#888" stroke-width="0.75"/>
<line x1="187.42" y1="1052.10" x2="187.42" y2="1054.50" stroke="#888" stroke-width="0.75"/>
<line x1="187.92" y1="1052.10" x2="187.92" y2="1056.10" stroke="#888" stroke-width="0.75"/>
<line x1="119.70" y1="1059.90" x2="150.80" y2="1059.90" stroke="#111" stroke-width="1.3"/>
<path d="M149.80 1055.90 L157.30 1059.90 L149.80 1063.90 Z" fill="#000"/>
<text x="121.40" y="1072.10" font-size="11" transform="translate(121.40 1072.10) scale(1 1.08) translate(-121.40 -1072.10)">Perforin</text>
<rect x="216.30" y="977.00" width="77.80" height="78.30" fill="#fff" stroke="#e4e4e4" stroke-width="0.8"/>
<path d="M236.00 1030.00 C236.83 1031.67 238.00 1033.50 240.00 1034.00 C242.00 1034.50 245.50 1034.33 248.00 1033.00 C250.50 1031.67 253.17 1028.83 255.00 1026.00 C256.83 1023.17 258.50 1019.33 259.00 1016.00 C259.50 1012.67 258.83 1008.50 258.00 1006.00 C257.17 1003.50 255.83 1001.67 254.00 1001.00 C252.17 1000.33 249.33 1000.83 247.00 1002.00 C244.67 1003.17 241.83 1005.50 240.00 1008.00 C238.17 1010.50 236.83 1014.33 236.00 1017.00 C235.17 1019.67 235.00 1021.83 235.00 1024.00 C235.00 1026.17 235.17 1028.33 236.00 1030.00Z" fill="#dcebd8"/>
<path d="M236.00 1030.00 C236.83 1031.67 238.00 1033.50 240.00 1034.00 C242.00 1034.50 245.50 1034.33 248.00 1033.00 C250.50 1031.67 253.17 1028.83 255.00 1026.00 C256.83 1023.17 258.50 1019.33 259.00 1016.00 C259.50 1012.67 258.83 1008.50 258.00 1006.00 C257.17 1003.50 255.83 1001.67 254.00 1001.00 C252.17 1000.33 249.33 1000.83 247.00 1002.00 C244.67 1003.17 241.83 1005.50 240.00 1008.00 C238.17 1010.50 236.83 1014.33 236.00 1017.00 C235.17 1019.67 235.00 1021.83 235.00 1024.00 C235.00 1026.17 235.17 1028.33 236.00 1030.00Z" fill="none" stroke="#5a9a5a" stroke-width="0.7" stroke-opacity="0.9"/>
<path d="M236.80 1029.40 C237.47 1030.73 238.40 1032.20 240.00 1032.60 C241.60 1033.00 244.25 1033.11 246.40 1031.80 C248.55 1030.49 251.11 1027.53 252.92 1024.71 C254.73 1021.90 256.56 1018.03 257.24 1014.91 C257.92 1011.79 257.57 1008.15 257.00 1006.00 C256.43 1003.85 255.27 1002.53 253.80 1002.00 C252.33 1001.47 250.22 1001.62 248.20 1002.80 C246.18 1003.98 243.49 1006.53 241.70 1009.05 C239.91 1011.57 238.42 1015.32 237.47 1017.91 C236.52 1020.50 236.11 1022.69 236.00 1024.60 C235.89 1026.51 236.13 1028.07 236.80 1029.40Z" fill="none" stroke="#5a9a5a" stroke-width="0.7" stroke-opacity="0.9"/>
<path d="M237.60 1028.80 C238.10 1029.80 238.80 1030.90 240.00 1031.20 C241.20 1031.50 242.99 1031.90 244.80 1030.60 C246.61 1029.30 249.06 1026.22 250.84 1023.43 C252.62 1020.63 254.61 1016.72 255.47 1013.82 C256.33 1010.91 256.31 1007.80 256.00 1006.00 C255.69 1004.20 254.70 1003.40 253.60 1003.00 C252.50 1002.60 251.10 1002.42 249.40 1003.60 C247.70 1004.78 245.14 1007.57 243.40 1010.11 C241.66 1012.64 240.01 1016.31 238.95 1018.82 C237.88 1021.34 237.22 1023.54 237.00 1025.20 C236.78 1026.86 237.10 1027.80 237.60 1028.80Z" fill="none" stroke="#5a9a5a" stroke-width="0.7" stroke-opacity="0.9"/>
<path d="M237.52 1028.86 C238.04 1029.89 238.76 1031.03 240.00 1031.34 C241.24 1031.65 243.12 1032.02 244.96 1030.72 C246.80 1029.42 249.27 1026.35 251.05 1023.55 C252.83 1020.76 254.81 1016.85 255.65 1013.93 C256.49 1011.00 256.44 1007.84 256.10 1006.00 C255.76 1004.16 254.76 1003.31 253.62 1002.90 C252.48 1002.49 251.01 1002.34 249.28 1003.52 C247.55 1004.70 244.98 1007.46 243.23 1010.00 C241.48 1012.54 239.85 1016.21 238.80 1018.73 C237.74 1021.26 237.11 1023.45 236.90 1025.14 C236.69 1026.83 237.00 1027.83 237.52 1028.86Z" fill="#93ad86" fill-opacity="0.85"/>
<path d="M238.60 1028.05 C238.89 1028.63 239.30 1029.28 240.00 1029.45 C240.70 1029.62 241.43 1030.37 242.80 1029.10 C244.17 1027.83 246.50 1024.59 248.24 1021.82 C249.99 1019.04 252.19 1015.09 253.27 1012.45 C254.36 1009.82 254.74 1007.37 254.75 1006.00 C254.76 1004.63 253.99 1004.48 253.35 1004.25 C252.71 1004.02 252.20 1003.40 250.90 1004.60 C249.60 1005.80 247.21 1008.86 245.53 1011.42 C243.84 1013.98 242.00 1017.54 240.79 1019.96 C239.58 1022.39 238.61 1024.60 238.25 1025.95 C237.89 1027.30 238.31 1027.47 238.60 1028.05Z" fill="#7a6a50" fill-opacity="0.5"/>
<path d="M238.00 1028.50 C238.42 1029.33 239.00 1030.25 240.00 1030.50 C241.00 1030.75 242.37 1031.29 244.00 1030.00 C245.63 1028.71 248.04 1025.57 249.80 1022.78 C251.57 1019.99 253.64 1016.07 254.59 1013.27 C255.54 1010.48 255.68 1007.63 255.50 1006.00 C255.32 1004.37 254.42 1003.83 253.50 1003.50 C252.58 1003.17 251.54 1002.81 250.00 1004.00 C248.46 1005.19 245.97 1008.09 244.25 1010.63 C242.53 1013.18 240.81 1016.80 239.68 1019.28 C238.56 1021.76 237.78 1023.96 237.50 1025.50 C237.22 1027.04 237.58 1027.67 238.00 1028.50Z" fill="none" stroke="#c08080" stroke-width="0.6" stroke-opacity="0.8"/>
<path d="M238.80 1027.90 C239.05 1028.40 239.40 1028.95 240.00 1029.10 C240.60 1029.25 241.11 1030.07 242.40 1028.80 C243.69 1027.53 245.98 1024.26 247.72 1021.49 C249.46 1018.72 251.70 1014.76 252.83 1012.18 C253.96 1009.60 254.42 1007.28 254.50 1006.00 C254.58 1004.72 253.85 1004.70 253.30 1004.50 C252.75 1004.30 252.42 1003.60 251.20 1004.80 C249.98 1006.00 247.63 1009.12 245.95 1011.68 C244.28 1014.25 242.40 1017.79 241.16 1020.19 C239.91 1022.59 238.89 1024.82 238.50 1026.10 C238.11 1027.38 238.55 1027.40 238.80 1027.90Z" fill="none" stroke="#c08080" stroke-width="0.6" stroke-opacity="0.8"/>
<path d="M251.00 1010.00 C252.00 1011.50 255.83 1011.50 258.00 1011.00 C260.17 1010.50 262.33 1009.00 264.00 1007.00 C265.67 1005.00 267.50 1001.33 268.00 999.00 C268.50 996.67 268.00 994.08 267.00 993.00 C266.00 991.92 263.83 992.00 262.00 992.50 C260.17 993.00 257.67 994.42 256.00 996.00 C254.33 997.58 252.83 999.67 252.00 1002.00 C251.17 1004.33 250.00 1008.50 251.00 1010.00Z" fill="#d8d8d8"/>
<path d="M251.00 1010.00 C252.00 1011.50 255.83 1011.50 258.00 1011.00 C260.17 1010.50 262.33 1009.00 264.00 1007.00 C265.67 1005.00 267.50 1001.33 268.00 999.00 C268.50 996.67 268.00 994.08 267.00 993.00 C266.00 991.92 263.83 992.00 262.00 992.50 C260.17 993.00 257.67 994.42 256.00 996.00 C254.33 997.58 252.83 999.67 252.00 1002.00 C251.17 1004.33 250.00 1008.50 251.00 1010.00Z" fill="none" stroke="#8a8a8a" stroke-width="0.7" stroke-opacity="0.9"/>
<path d="M252.00 1009.00 C252.72 1010.15 255.48 1010.29 257.25 1009.75 C259.02 1009.21 261.01 1007.69 262.63 1005.77 C264.26 1003.85 266.40 1000.25 267.00 998.25 C267.60 996.25 267.00 994.56 266.25 993.75 C265.50 992.94 264.02 992.83 262.50 993.38 C260.98 993.92 258.70 995.42 257.10 996.99 C255.51 998.57 253.76 1000.82 252.91 1002.82 C252.06 1004.82 251.28 1007.85 252.00 1009.00Z" fill="none" stroke="#8a8a8a" stroke-width="0.7" stroke-opacity="0.9"/>
<path d="M252.80 1008.20 C253.30 1009.08 255.19 1009.32 256.65 1008.75 C258.11 1008.18 259.95 1006.63 261.54 1004.78 C263.13 1002.93 265.51 999.39 266.20 997.65 C266.89 995.91 266.20 994.95 265.65 994.35 C265.10 993.75 264.18 993.50 262.90 994.08 C261.62 994.65 259.53 996.22 257.99 997.79 C256.45 999.36 254.51 1001.74 253.64 1003.48 C252.78 1005.21 252.30 1007.32 252.80 1008.20Z" fill="#a8a8a8"/>
<path d="M254.00 1007.00 C254.17 1007.46 254.77 1007.87 255.75 1007.25 C256.73 1006.63 258.36 1005.06 259.90 1003.31 C261.44 1001.56 264.19 998.09 265.00 996.75 C265.81 995.41 265.00 995.52 264.75 995.25 C264.50 994.98 264.41 994.50 263.50 995.12 C262.59 995.75 260.78 997.43 259.31 998.98 C257.85 1000.54 255.62 1003.13 254.73 1004.46 C253.85 1005.80 253.83 1006.54 254.00 1007.00Z" fill="#e6e6e6"/>
<rect x="250.40" y="978.10" width="43.40" height="33.80" fill="none" stroke="#444" stroke-width="1"/>
<line x1="214.50" y1="982.00" x2="216.30" y2="982.00" stroke="#444" stroke-width="0.7"/>
<line x1="214.50" y1="990.50" x2="216.30" y2="990.50" stroke="#444" stroke-width="0.7"/>
<line x1="214.50" y1="999.00" x2="216.30" y2="999.00" stroke="#444" stroke-width="0.7"/>
<line x1="214.50" y1="1007.50" x2="216.30" y2="1007.50" stroke="#444" stroke-width="0.7"/>
<line x1="214.50" y1="1016.00" x2="216.30" y2="1016.00" stroke="#444" stroke-width="0.7"/>
<line x1="214.50" y1="1024.50" x2="216.30" y2="1024.50" stroke="#444" stroke-width="0.7"/>
<line x1="214.50" y1="1033.00" x2="216.30" y2="1033.00" stroke="#444" stroke-width="0.7"/>
<line x1="214.50" y1="1041.50" x2="216.30" y2="1041.50" stroke="#444" stroke-width="0.7"/>
<line x1="214.50" y1="1050.00" x2="216.30" y2="1050.00" stroke="#444" stroke-width="0.7"/>
<line x1="219.00" y1="1055.30" x2="219.00" y2="1057.00" stroke="#444" stroke-width="0.7"/>
<line x1="226.80" y1="1055.30" x2="226.80" y2="1057.00" stroke="#444" stroke-width="0.7"/>
<line x1="234.60" y1="1055.30" x2="234.60" y2="1057.00" stroke="#444" stroke-width="0.7"/>
<line x1="242.40" y1="1055.30" x2="242.40" y2="1057.00" stroke="#444" stroke-width="0.7"/>
<line x1="250.20" y1="1055.30" x2="250.20" y2="1057.00" stroke="#444" stroke-width="0.7"/>
<line x1="258.00" y1="1055.30" x2="258.00" y2="1057.00" stroke="#444" stroke-width="0.7"/>
<line x1="265.80" y1="1055.30" x2="265.80" y2="1057.00" stroke="#444" stroke-width="0.7"/>
<line x1="273.60" y1="1055.30" x2="273.60" y2="1057.00" stroke="#444" stroke-width="0.7"/>
<line x1="281.40" y1="1055.30" x2="281.40" y2="1057.00" stroke="#444" stroke-width="0.7"/>
<line x1="289.20" y1="1055.30" x2="289.20" y2="1057.00" stroke="#444" stroke-width="0.7"/>
<text x="204.80" y="1039.60" font-size="11" text-anchor="middle" transform="rotate(-90 204.80 1039.60) translate(204.80 1039.60) scale(1 1.08) translate(-204.80 -1039.60)">Perforin</text>
<line x1="208.50" y1="1057.60" x2="208.50" y2="1029.40" stroke="#111" stroke-width="1.3"/>
<path d="M204.50 1030.40 L208.50 1022.40 L212.50 1030.40 Z" fill="#000"/>
<line x1="228.00" y1="1062.00" x2="257.00" y2="1062.00" stroke="#111" stroke-width="1.3"/>
<path d="M256.00 1058.00 L264.00 1062.00 L256.00 1066.00 Z" fill="#000"/>
<text x="226.00" y="1074.00" font-size="11" transform="translate(226.00 1074.00) scale(1 1.08) translate(-226.00 -1074.00)">Granzyme B</text>
<rect x="371.20" y="1065.97" width="17.30" height="22.03" fill="#1a7a78" stroke="#111" stroke-width="1"/>
<rect x="398.20" y="1074.52" width="17.20" height="13.48" fill="#7a0208" stroke="#111" stroke-width="1"/>
<rect x="425.60" y="1047.28" width="17.20" height="40.72" fill="#d9d9d9" stroke="#111" stroke-width="1"/>
<circle cx="379.90" cy="1033.70" r="2.1" fill="#b865c8"/>
<circle cx="379.90" cy="1037.21" r="2.1" fill="#5a6cc4"/>
<circle cx="379.90" cy="1045.39" r="2.1" fill="#5a6cc4"/>
<circle cx="378.38" cy="1050.87" r="2.1" fill="#5a6cc4"/>
<circle cx="384.39" cy="1053.21" r="2.1" fill="#b865c8"/>
<circle cx="379.90" cy="1063.01" r="2.1" fill="#5a6cc4"/>
<circle cx="379.80" cy="1064.63" r="2.1" fill="#b865c8"/>
<circle cx="379.90" cy="1067.86" r="2.1" fill="#b865c8"/>
<circle cx="379.90" cy="1074.16" r="2.1" fill="#b865c8"/>
<circle cx="379.29" cy="1080.18" r="2.1" fill="#5a6cc4"/>
<circle cx="379.90" cy="1081.98" r="2.1" fill="#b865c8"/>
<circle cx="375.94" cy="1079.01" r="2.1" fill="#b865c8"/>
<circle cx="382.43" cy="1086.02" r="2.1" fill="#5a6cc4"/>
<circle cx="376.22" cy="1084.49" r="2.1" fill="#5a6cc4"/>
<circle cx="413.78" cy="1038.56" r="2.1" fill="#5a6cc4"/>
<circle cx="407.39" cy="1038.56" r="2.1" fill="#b865c8"/>
<circle cx="406.80" cy="1043.41" r="2.1" fill="#5a6cc4"/>
<circle cx="407.60" cy="1054.56" r="2.1" fill="#b865c8"/>
<circle cx="406.42" cy="1052.85" r="2.1" fill="#b865c8"/>
<circle cx="402.14" cy="1069.21" r="2.1" fill="#5a6cc4"/>
<circle cx="406.80" cy="1072.36" r="2.1" fill="#5a6cc4"/>
<circle cx="399.86" cy="1076.31" r="2.1" fill="#b865c8"/>
<circle cx="405.27" cy="1077.66" r="2.1" fill="#b865c8"/>
<circle cx="406.86" cy="1082.61" r="2.1" fill="#b865c8"/>
<circle cx="406.80" cy="1085.48" r="2.1" fill="#5a6cc4"/>
<circle cx="410.93" cy="1086.47" r="2.1" fill="#b865c8"/>
<circle cx="404.39" cy="1087.37" r="2.1" fill="#5a6cc4"/>
<circle cx="427.17" cy="1021.47" r="2.1" fill="#b865c8"/>
<circle cx="441.23" cy="1021.92" r="2.1" fill="#5a6cc4"/>
<circle cx="434.20" cy="1025.43" r="2.1" fill="#5a6cc4"/>
<circle cx="429.62" cy="1030.73" r="2.1" fill="#5a6cc4"/>
<circle cx="441.62" cy="1030.73" r="2.1" fill="#b865c8"/>
<circle cx="434.20" cy="1037.21" r="2.1" fill="#5a6cc4"/>
<circle cx="434.20" cy="1045.75" r="2.1" fill="#b865c8"/>
<circle cx="440.90" cy="1047.90" r="2.1" fill="#b865c8"/>
<circle cx="430.58" cy="1055.19" r="2.1" fill="#b865c8"/>
<circle cx="434.44" cy="1056.71" r="2.1" fill="#5a6cc4"/>
<circle cx="432.67" cy="1063.01" r="2.1" fill="#5a6cc4"/>
<circle cx="434.20" cy="1064.90" r="2.1" fill="#b865c8"/>
<circle cx="434.20" cy="1077.66" r="2.1" fill="#b865c8"/>
<circle cx="434.20" cy="1085.48" r="2.1" fill="#5a6cc4"/>
<line x1="361.10" y1="997.60" x2="361.10" y2="1088.50" stroke="#222" stroke-width="1.3"/>
<line x1="360.50" y1="1088.00" x2="450.60" y2="1088.00" stroke="#222" stroke-width="1.3"/>
<line x1="358.60" y1="1088.00" x2="361.10" y2="1088.00" stroke="#222" stroke-width="1.2"/>
<text x="356.60" y="1092.30" font-size="12.3" text-anchor="end" transform="translate(356.60 1092.30) scale(1 1.08) translate(-356.60 -1092.30)">0</text>
<line x1="358.60" y1="1070.02" x2="361.10" y2="1070.02" stroke="#222" stroke-width="1.2"/>
<text x="356.60" y="1074.32" font-size="12.3" text-anchor="end" transform="translate(356.60 1074.32) scale(1 1.08) translate(-356.60 -1074.32)">20</text>
<line x1="358.60" y1="1052.04" x2="361.10" y2="1052.04" stroke="#222" stroke-width="1.2"/>
<text x="356.60" y="1056.34" font-size="12.3" text-anchor="end" transform="translate(356.60 1056.34) scale(1 1.08) translate(-356.60 -1056.34)">40</text>
<line x1="358.60" y1="1034.06" x2="361.10" y2="1034.06" stroke="#222" stroke-width="1.2"/>
<text x="356.60" y="1038.36" font-size="12.3" text-anchor="end" transform="translate(356.60 1038.36) scale(1 1.08) translate(-356.60 -1038.36)">60</text>
<line x1="358.60" y1="1016.08" x2="361.10" y2="1016.08" stroke="#222" stroke-width="1.2"/>
<text x="356.60" y="1020.38" font-size="12.3" text-anchor="end" transform="translate(356.60 1020.38) scale(1 1.08) translate(-356.60 -1020.38)">80</text>
<line x1="358.60" y1="998.10" x2="361.10" y2="998.10" stroke="#222" stroke-width="1.2"/>
<text x="356.60" y="1002.40" font-size="12.3" text-anchor="end" transform="translate(356.60 1002.40) scale(1 1.08) translate(-356.60 -1002.40)">100</text>
<line x1="379.85" y1="1088.00" x2="379.85" y2="1090.50" stroke="#222" stroke-width="1.2"/>
<line x1="406.80" y1="1088.00" x2="406.80" y2="1090.50" stroke="#222" stroke-width="1.2"/>
<line x1="434.20" y1="1088.00" x2="434.20" y2="1090.50" stroke="#222" stroke-width="1.2"/>
<text x="406.50" y="953.90" font-size="13.5" text-anchor="middle" transform="translate(406.50 953.90) scale(1 1.08) translate(-406.50 -953.90)">Granzyme B</text>
<text x="331.20" y="1042.90" font-size="12.2" text-anchor="middle" transform="rotate(-90 331.20 1042.90) translate(331.20 1042.90) scale(1 1.08) translate(-331.20 -1042.90)">GRZB (%)</text>
<text x="379.90" y="1101.30" font-size="11" text-anchor="middle" transform="translate(379.90 1101.30) scale(1 1.08) translate(-379.90 -1101.30)">SP</text>
<text x="406.80" y="1101.30" font-size="11" text-anchor="middle" transform="translate(406.80 1101.30) scale(1 1.08) translate(-406.80 -1101.30)">DP</text>
<text x="434.20" y="1101.30" font-size="11" text-anchor="middle" transform="translate(434.20 1101.30) scale(1 1.08) translate(-434.20 -1101.30)">DN</text>
<path d="M379.30 1004.30 L379.30 988.10 L434.40 988.10 L434.40 995.50" fill="none" stroke="#222" stroke-width="1.2" stroke-linejoin="miter"/>
<text x="407.00" y="989.80" font-size="16" text-anchor="middle" font-weight="bold" transform="translate(407.00 989.80) scale(1 1.08) translate(-407.00 -989.80)">**</text>
<path d="M379.30 1031.30 L379.30 1009.20 L405.10 1009.20 L405.10 1032.70" fill="none" stroke="#222" stroke-width="1.2" stroke-linejoin="miter"/>
<text x="392.40" y="1007.30" font-size="9" text-anchor="middle" transform="translate(392.40 1007.30) scale(1 1.08) translate(-392.40 -1007.30)">ns</text>
<path d="M408.00 1032.70 L408.00 1009.20 L434.40 1009.20 L434.40 1015.00" fill="none" stroke="#222" stroke-width="1.2" stroke-linejoin="miter"/>
<text x="421.30" y="1012.50" font-size="16" text-anchor="middle" font-weight="bold" transform="translate(421.30 1012.50) scale(1 1.08) translate(-421.30 -1012.50)">***</text>
<rect x="512.80" y="1051.26" width="17.60" height="36.14" fill="#1a7a78" stroke="#111" stroke-width="1"/>
<rect x="540.20" y="1043.80" width="17.20" height="43.60" fill="#7a0208" stroke="#111" stroke-width="1"/>
<rect x="567.60" y="1034.09" width="17.20" height="53.31" fill="#d9d9d9" stroke="#111" stroke-width="1"/>
<circle cx="526.41" cy="1003.97" r="2.1" fill="#b865c8"/>
<circle cx="517.96" cy="1003.97" r="2.1" fill="#b865c8"/>
<circle cx="521.60" cy="1009.82" r="2.1" fill="#b865c8"/>
<circle cx="515.16" cy="1017.64" r="2.1" fill="#b865c8"/>
<circle cx="521.60" cy="1020.96" r="2.1" fill="#5a6cc4"/>
<circle cx="521.60" cy="1031.30" r="2.1" fill="#5a6cc4"/>
<circle cx="521.60" cy="1043.44" r="2.1" fill="#5a6cc4"/>
<circle cx="521.60" cy="1057.46" r="2.1" fill="#b865c8"/>
<circle cx="520.64" cy="1058.09" r="2.1" fill="#5a6cc4"/>
<circle cx="528.66" cy="1060.61" r="2.1" fill="#5a6cc4"/>
<circle cx="516.42" cy="1063.40" r="2.1" fill="#5a6cc4"/>
<circle cx="521.60" cy="1066.90" r="2.1" fill="#b865c8"/>
<circle cx="522.38" cy="1067.89" r="2.1" fill="#5a6cc4"/>
<circle cx="522.10" cy="1068.79" r="2.1" fill="#b865c8"/>
<circle cx="548.80" cy="1006.31" r="2.1" fill="#b865c8"/>
<circle cx="548.80" cy="1011.16" r="2.1" fill="#b865c8"/>
<circle cx="551.06" cy="1016.65" r="2.1" fill="#5a6cc4"/>
<circle cx="551.15" cy="1018.00" r="2.1" fill="#b865c8"/>
<circle cx="548.80" cy="1025.46" r="2.1" fill="#b865c8"/>
<circle cx="541.79" cy="1041.10" r="2.1" fill="#5a6cc4"/>
<circle cx="543.52" cy="1040.47" r="2.1" fill="#5a6cc4"/>
<circle cx="548.80" cy="1045.78" r="2.1" fill="#5a6cc4"/>
<circle cx="555.86" cy="1052.79" r="2.1" fill="#b865c8"/>
<circle cx="544.19" cy="1055.76" r="2.1" fill="#b865c8"/>
<circle cx="548.80" cy="1063.94" r="2.1" fill="#5a6cc4"/>
<circle cx="551.61" cy="1067.89" r="2.1" fill="#5a6cc4"/>
<circle cx="547.92" cy="1070.23" r="2.1" fill="#5a6cc4"/>
<circle cx="548.80" cy="1076.25" r="2.1" fill="#b865c8"/>
<circle cx="577.17" cy="1007.66" r="2.1" fill="#b865c8"/>
<circle cx="583.24" cy="1010.18" r="2.1" fill="#b865c8"/>
<circle cx="576.20" cy="1014.13" r="2.1" fill="#b865c8"/>
<circle cx="576.20" cy="1020.96" r="2.1" fill="#b865c8"/>
<circle cx="576.20" cy="1026.45" r="2.1" fill="#5a6cc4"/>
<circle cx="575.10" cy="1025.82" r="2.1" fill="#5a6cc4"/>
<circle cx="581.78" cy="1033.10" r="2.1" fill="#b865c8"/>
<circle cx="576.20" cy="1033.64" r="2.1" fill="#5a6cc4"/>
<circle cx="571.59" cy="1034.63" r="2.1" fill="#5a6cc4"/>
<circle cx="570.80" cy="1043.98" r="2.1" fill="#5a6cc4"/>
<circle cx="573.93" cy="1043.98" r="2.1" fill="#5a6cc4"/>
<circle cx="576.20" cy="1063.58" r="2.1" fill="#b865c8"/>
<circle cx="568.99" cy="1066.27" r="2.1" fill="#5a6cc4"/>
<circle cx="575.41" cy="1069.78" r="2.1" fill="#b865c8"/>
<line x1="503.00" y1="997.00" x2="503.00" y2="1087.90" stroke="#222" stroke-width="1.3"/>
<line x1="502.40" y1="1087.40" x2="594.00" y2="1087.40" stroke="#222" stroke-width="1.3"/>
<line x1="500.50" y1="1087.40" x2="503.00" y2="1087.40" stroke="#222" stroke-width="1.2"/>
<text x="498.50" y="1091.70" font-size="12.3" text-anchor="end" transform="translate(498.50 1091.70) scale(1 1.08) translate(-498.50 -1091.70)">0</text>
<line x1="500.50" y1="1069.42" x2="503.00" y2="1069.42" stroke="#222" stroke-width="1.2"/>
<text x="498.50" y="1073.72" font-size="12.3" text-anchor="end" transform="translate(498.50 1073.72) scale(1 1.08) translate(-498.50 -1073.72)">20</text>
<line x1="500.50" y1="1051.44" x2="503.00" y2="1051.44" stroke="#222" stroke-width="1.2"/>
<text x="498.50" y="1055.74" font-size="12.3" text-anchor="end" transform="translate(498.50 1055.74) scale(1 1.08) translate(-498.50 -1055.74)">40</text>
<line x1="500.50" y1="1033.46" x2="503.00" y2="1033.46" stroke="#222" stroke-width="1.2"/>
<text x="498.50" y="1037.76" font-size="12.3" text-anchor="end" transform="translate(498.50 1037.76) scale(1 1.08) translate(-498.50 -1037.76)">60</text>
<line x1="500.50" y1="1015.48" x2="503.00" y2="1015.48" stroke="#222" stroke-width="1.2"/>
<text x="498.50" y="1019.78" font-size="12.3" text-anchor="end" transform="translate(498.50 1019.78) scale(1 1.08) translate(-498.50 -1019.78)">80</text>
<line x1="500.50" y1="997.50" x2="503.00" y2="997.50" stroke="#222" stroke-width="1.2"/>
<text x="498.50" y="1001.80" font-size="12.3" text-anchor="end" transform="translate(498.50 1001.80) scale(1 1.08) translate(-498.50 -1001.80)">100</text>
<line x1="521.60" y1="1087.40" x2="521.60" y2="1089.90" stroke="#222" stroke-width="1.2"/>
<line x1="548.80" y1="1087.40" x2="548.80" y2="1089.90" stroke="#222" stroke-width="1.2"/>
<line x1="576.20" y1="1087.40" x2="576.20" y2="1089.90" stroke="#222" stroke-width="1.2"/>
<text x="546.00" y="953.90" font-size="13.5" text-anchor="middle" transform="translate(546.00 953.90) scale(1 1.08) translate(-546.00 -953.90)">Perforin</text>
<text x="473.30" y="1042.00" font-size="12.2" text-anchor="middle" transform="rotate(-90 473.30 1042.00) translate(473.30 1042.00) scale(1 1.08) translate(-473.30 -1042.00)">PRF (%)</text>
<text x="521.60" y="1101.30" font-size="11" text-anchor="middle" transform="translate(521.60 1101.30) scale(1 1.08) translate(-521.60 -1101.30)">SP</text>
<text x="548.80" y="1101.30" font-size="11" text-anchor="middle" transform="translate(548.80 1101.30) scale(1 1.08) translate(-548.80 -1101.30)">DP</text>
<text x="576.20" y="1101.30" font-size="11" text-anchor="middle" transform="translate(576.20 1101.30) scale(1 1.08) translate(-576.20 -1101.30)">DN</text>
<path d="M521.60 985.70 L521.60 970.10 L576.80 970.10 L576.80 985.70" fill="none" stroke="#222" stroke-width="1.2" stroke-linejoin="miter"/>
<text x="549.00" y="966.00" font-size="9" text-anchor="middle" transform="translate(549.00 966.00) scale(1 1.08) translate(-549.00 -966.00)">ns</text>
<path d="M521.60 998.50 L521.60 992.20 L547.00 992.20 L547.00 1000.40" fill="none" stroke="#222" stroke-width="1.2" stroke-linejoin="miter"/>
<text x="534.30" y="987.50" font-size="9" text-anchor="middle" transform="translate(534.30 987.50) scale(1 1.08) translate(-534.30 -987.50)">ns</text>
<path d="M550.40 1000.40 L550.40 992.20 L576.80 992.20 L576.80 999.40" fill="none" stroke="#222" stroke-width="1.2" stroke-linejoin="miter"/>
<text x="563.10" y="987.50" font-size="9" text-anchor="middle" transform="translate(563.10 987.50) scale(1 1.08) translate(-563.10 -987.50)">ns</text>
<rect x="669.40" y="1085.79" width="17.40" height="1.81" fill="#1a7a78" stroke="#111" stroke-width="1"/>
<rect x="697.00" y="1083.53" width="17.40" height="4.07" fill="#7a0208" stroke="#111" stroke-width="1"/>
<rect x="724.00" y="1065.52" width="17.40" height="22.08" fill="#d9d9d9" stroke="#111" stroke-width="1"/>
<circle cx="678.10" cy="1053.84" r="2.1" fill="#b865c8"/>
<circle cx="678.10" cy="1065.07" r="2.1" fill="#b865c8"/>
<circle cx="678.10" cy="1075.29" r="2.1" fill="#5a6cc4"/>
<circle cx="674.51" cy="1081.45" r="2.1" fill="#b865c8"/>
<circle cx="672.11" cy="1081.90" r="2.1" fill="#5a6cc4"/>
<circle cx="679.09" cy="1083.53" r="2.1" fill="#5a6cc4"/>
<circle cx="677.17" cy="1083.98" r="2.1" fill="#b865c8"/>
<circle cx="685.52" cy="1084.52" r="2.1" fill="#5a6cc4"/>
<circle cx="685.78" cy="1085.52" r="2.1" fill="#b865c8"/>
<circle cx="685.05" cy="1085.97" r="2.1" fill="#5a6cc4"/>
<circle cx="677.38" cy="1086.60" r="2.1" fill="#b865c8"/>
<circle cx="682.42" cy="1087.15" r="2.1" fill="#b865c8"/>
<circle cx="711.68" cy="1063.07" r="2.1" fill="#5a6cc4"/>
<circle cx="705.70" cy="1066.06" r="2.1" fill="#b865c8"/>
<circle cx="705.70" cy="1070.77" r="2.1" fill="#b865c8"/>
<circle cx="710.72" cy="1076.92" r="2.1" fill="#b865c8"/>
<circle cx="704.42" cy="1076.92" r="2.1" fill="#b865c8"/>
<circle cx="698.73" cy="1077.74" r="2.1" fill="#5a6cc4"/>
<circle cx="702.22" cy="1082.44" r="2.1" fill="#5a6cc4"/>
<circle cx="713.56" cy="1083.53" r="2.1" fill="#b865c8"/>
<circle cx="700.19" cy="1084.52" r="2.1" fill="#5a6cc4"/>
<circle cx="700.69" cy="1085.52" r="2.1" fill="#5a6cc4"/>
<circle cx="706.43" cy="1086.60" r="2.1" fill="#b865c8"/>
<circle cx="710.62" cy="1087.15" r="2.1" fill="#5a6cc4"/>
<circle cx="736.43" cy="1033.75" r="2.1" fill="#b865c8"/>
<circle cx="736.31" cy="1036.38" r="2.1" fill="#5a6cc4"/>
<circle cx="726.88" cy="1045.61" r="2.1" fill="#b865c8"/>
<circle cx="729.63" cy="1045.61" r="2.1" fill="#5a6cc4"/>
<circle cx="733.39" cy="1049.68" r="2.1" fill="#b865c8"/>
<circle cx="735.35" cy="1052.21" r="2.1" fill="#5a6cc4"/>
<circle cx="732.70" cy="1063.44" r="2.1" fill="#5a6cc4"/>
<circle cx="739.06" cy="1067.51" r="2.1" fill="#5a6cc4"/>
<circle cx="740.13" cy="1069.14" r="2.1" fill="#b865c8"/>
<circle cx="729.85" cy="1075.74" r="2.1" fill="#b865c8"/>
<circle cx="737.51" cy="1076.38" r="2.1" fill="#b865c8"/>
<circle cx="731.41" cy="1081.45" r="2.1" fill="#b865c8"/>
<circle cx="727.99" cy="1081.90" r="2.1" fill="#5a6cc4"/>
<circle cx="732.70" cy="1085.52" r="2.1" fill="#5a6cc4"/>
<line x1="659.70" y1="996.60" x2="659.70" y2="1088.10" stroke="#222" stroke-width="1.3"/>
<line x1="659.10" y1="1087.60" x2="750.80" y2="1087.60" stroke="#222" stroke-width="1.3"/>
<line x1="657.20" y1="1087.60" x2="659.70" y2="1087.60" stroke="#222" stroke-width="1.2"/>
<text x="655.20" y="1091.90" font-size="12.3" text-anchor="end" transform="translate(655.20 1091.90) scale(1 1.08) translate(-655.20 -1091.90)">0</text>
<line x1="657.20" y1="1069.50" x2="659.70" y2="1069.50" stroke="#222" stroke-width="1.2"/>
<text x="655.20" y="1073.80" font-size="12.3" text-anchor="end" transform="translate(655.20 1073.80) scale(1 1.08) translate(-655.20 -1073.80)">20</text>
<line x1="657.20" y1="1051.40" x2="659.70" y2="1051.40" stroke="#222" stroke-width="1.2"/>
<text x="655.20" y="1055.70" font-size="12.3" text-anchor="end" transform="translate(655.20 1055.70) scale(1 1.08) translate(-655.20 -1055.70)">40</text>
<line x1="657.20" y1="1033.30" x2="659.70" y2="1033.30" stroke="#222" stroke-width="1.2"/>
<text x="655.20" y="1037.60" font-size="12.3" text-anchor="end" transform="translate(655.20 1037.60) scale(1 1.08) translate(-655.20 -1037.60)">60</text>
<line x1="657.20" y1="1015.20" x2="659.70" y2="1015.20" stroke="#222" stroke-width="1.2"/>
<text x="655.20" y="1019.50" font-size="12.3" text-anchor="end" transform="translate(655.20 1019.50) scale(1 1.08) translate(-655.20 -1019.50)">80</text>
<line x1="657.20" y1="997.10" x2="659.70" y2="997.10" stroke="#222" stroke-width="1.2"/>
<text x="655.20" y="1001.40" font-size="12.3" text-anchor="end" transform="translate(655.20 1001.40) scale(1 1.08) translate(-655.20 -1001.40)">100</text>
<line x1="678.10" y1="1087.60" x2="678.10" y2="1090.10" stroke="#222" stroke-width="1.2"/>
<line x1="705.70" y1="1087.60" x2="705.70" y2="1090.10" stroke="#222" stroke-width="1.2"/>
<line x1="732.70" y1="1087.60" x2="732.70" y2="1090.10" stroke="#222" stroke-width="1.2"/>
<text x="699.50" y="954.00" font-size="13.5" text-anchor="middle" transform="translate(699.50 954.00) scale(1 1.08) translate(-699.50 -954.00)">Granzyme B - Perforin</text>
<text x="630.00" y="1041.50" font-size="12.2" text-anchor="middle" transform="rotate(-90 630.00 1041.50) translate(630.00 1041.50) scale(1 1.08) translate(-630.00 -1041.50)">GRZB + PRF (%)</text>
<text x="678.60" y="1101.50" font-size="11" text-anchor="middle" transform="translate(678.60 1101.50) scale(1 1.08) translate(-678.60 -1101.50)">SP</text>
<text x="705.70" y="1101.50" font-size="11" text-anchor="middle" transform="translate(705.70 1101.50) scale(1 1.08) translate(-705.70 -1101.50)">DP</text>
<text x="732.70" y="1101.50" font-size="11" text-anchor="middle" transform="translate(732.70 1101.50) scale(1 1.08) translate(-732.70 -1101.50)">DN</text>
<path d="M677.60 1013.90 L677.60 1000.00 L732.80 1000.00 L732.80 1007.80" fill="none" stroke="#222" stroke-width="1.2" stroke-linejoin="miter"/>
<text x="705.60" y="1001.80" font-size="16" text-anchor="middle" font-weight="bold" transform="translate(705.60 1001.80) scale(1 1.08) translate(-705.60 -1001.80)">***</text>
<path d="M677.60 1048.30 L677.60 1022.50 L703.60 1022.50 L703.60 1055.90" fill="none" stroke="#222" stroke-width="1.2" stroke-linejoin="miter"/>
<text x="690.90" y="1016.50" font-size="9" text-anchor="middle" transform="translate(690.90 1016.50) scale(1 1.08) translate(-690.90 -1016.50)">ns</text>
<path d="M707.20 1055.90 L707.20 1022.50 L732.80 1022.50 L732.80 1028.30" fill="none" stroke="#222" stroke-width="1.2" stroke-linejoin="miter"/>
<text x="720.50" y="1024.30" font-size="16" text-anchor="middle" font-weight="bold" transform="translate(720.50 1024.30) scale(1 1.08) translate(-720.50 -1024.30)">***</text>
<text x="368.20" y="1129.30" font-size="13.6" transform="translate(368.20 1129.30) scale(1 1.08) translate(-368.20 -1129.30)">CD8<tspan dy="-5" font-size="10.5">+</tspan><tspan dy="5"> T cells in <tspan fill="#5566c0">Central</tspan> and <tspan fill="#b566c4">Peripheral</tspan> Tissues</tspan></text>
<line x1="367.20" y1="1111.10" x2="611.50" y2="1111.10" stroke="#222" stroke-width="1.3"/>
<path d="M610.50 1106.90 L618.50 1111.10 L610.50 1115.30 Z" fill="#000"/></svg></body></html>
